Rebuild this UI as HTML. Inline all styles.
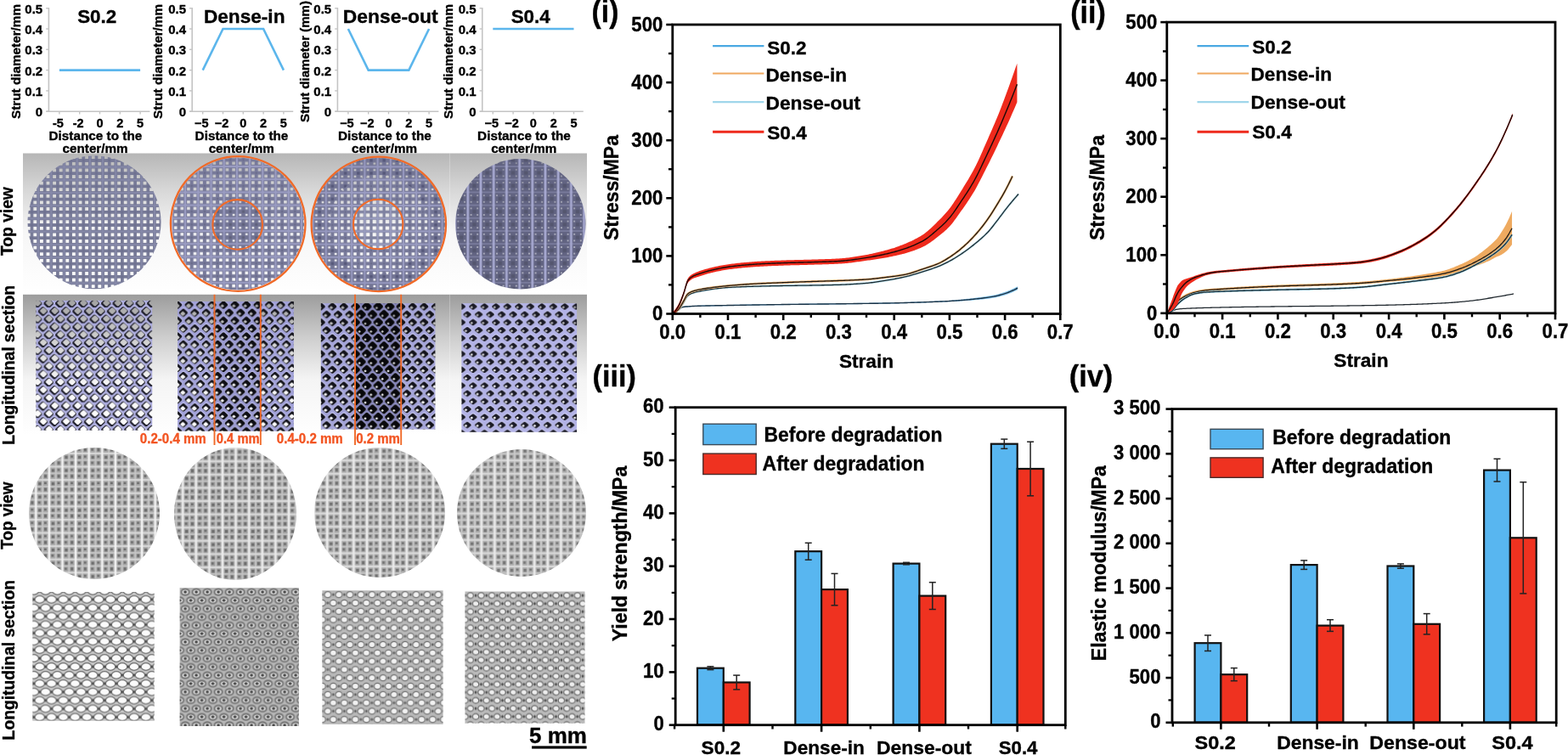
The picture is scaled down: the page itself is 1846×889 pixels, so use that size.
<!DOCTYPE html>
<html><head><meta charset="utf-8"><title>Figure</title>
<style>
html,body{margin:0;padding:0;background:#fff;}
body{width:1846px;height:889px;overflow:hidden;}
svg{display:block;}
text{font-family:"Liberation Sans", Arial, sans-serif;font-weight:bold;stroke:currentColor;stroke-width:0.35px;}
svg{color:#000;}
</style></head><body>
<svg width="1846" height="889" viewBox="0 0 1846 889">
<defs>
<linearGradient id="bg1" gradientUnits="userSpaceOnUse" x1="0" y1="180.5" x2="0" y2="346.8"><stop offset="0" stop-color="#b6b6b6"/><stop offset="0.25" stop-color="#d6d6d6"/><stop offset="0.55" stop-color="#f6f6f6"/><stop offset="1" stop-color="#fff"/></linearGradient>
<linearGradient id="bg2" gradientUnits="userSpaceOnUse" x1="0" y1="346.8" x2="0" y2="512.8"><stop offset="0" stop-color="#9c9c9c"/><stop offset="0.3" stop-color="#cdcdcd"/><stop offset="0.6" stop-color="#f4f4f4"/><stop offset="1" stop-color="#fff"/></linearGradient>
<pattern id="t1" patternUnits="userSpaceOnUse" x="75.50" y="227.00" width="15.2" height="15.2"><path d="M0,0 H15.2 V15.2 H0 Z M1.85,1.85 h3.90 v3.90 h-3.90 Z M1.85,9.45 h3.90 v3.90 h-3.90 Z M9.45,1.85 h3.90 v3.90 h-3.90 Z M9.45,9.45 h3.90 v3.90 h-3.90 Z" fill="#777a97" fill-rule="evenodd"/><rect x="6.10" y="6.10" width="3.00" height="3.00" fill="#6e7190"/><rect x="0.00" y="-0.80" width="15.20" height="1.60" fill="#888bab"/><rect x="0.00" y="14.40" width="15.20" height="1.60" fill="#888bab"/><rect x="-0.80" y="0.00" width="1.60" height="15.20" fill="#888bab"/><rect x="14.40" y="0.00" width="1.60" height="15.20" fill="#888bab"/></pattern>
<pattern id="t2o" patternUnits="userSpaceOnUse" x="233.30" y="196.00" width="15.2" height="15.2"><path d="M0,0 H15.2 V15.2 H0 Z M2.05,2.05 h3.50 v3.50 h-3.50 Z M2.05,9.65 h3.50 v3.50 h-3.50 Z M9.65,2.05 h3.50 v3.50 h-3.50 Z M9.65,9.65 h3.50 v3.50 h-3.50 Z" fill="#787a9a" fill-rule="evenodd"/><rect x="6.40" y="6.40" width="2.40" height="2.40" fill="#6a6c8c"/><rect x="0.00" y="-1.10" width="15.20" height="2.20" fill="#9a9cc2"/><rect x="0.00" y="14.10" width="15.20" height="2.20" fill="#9a9cc2"/><rect x="-1.10" y="0.00" width="2.20" height="15.20" fill="#9a9cc2"/><rect x="14.10" y="0.00" width="2.20" height="15.20" fill="#9a9cc2"/></pattern>
<pattern id="t2i" patternUnits="userSpaceOnUse" x="233.30" y="196.00" width="15.2" height="15.2"><path d="M0,0 H15.2 V15.2 H0 Z M2.50,2.50 h2.60 v2.60 h-2.60 Z M2.50,10.10 h2.60 v2.60 h-2.60 Z M10.10,2.50 h2.60 v2.60 h-2.60 Z M10.10,10.10 h2.60 v2.60 h-2.60 Z" fill="#727494" fill-rule="evenodd"/><rect x="6.00" y="6.00" width="3.20" height="3.20" fill="#5e607a"/><rect x="0.00" y="-1.20" width="15.20" height="2.40" fill="#9496bc"/><rect x="0.00" y="14.00" width="15.20" height="2.40" fill="#9496bc"/><rect x="-1.20" y="0.00" width="2.40" height="15.20" fill="#9496bc"/><rect x="14.00" y="0.00" width="2.40" height="15.20" fill="#9496bc"/></pattern>
<pattern id="t3o" patternUnits="userSpaceOnUse" x="399.00" y="196.40" width="15.2" height="15.2"><path d="M0,0 H15.2 V15.2 H0 Z M2.50,2.50 h2.60 v2.60 h-2.60 Z M2.50,10.10 h2.60 v2.60 h-2.60 Z M10.10,2.50 h2.60 v2.60 h-2.60 Z M10.10,10.10 h2.60 v2.60 h-2.60 Z" fill="#727494" fill-rule="evenodd"/><rect x="5.90" y="5.90" width="3.40" height="3.40" fill="#56587a"/><rect x="0.00" y="-1.10" width="15.20" height="2.20" fill="#9597be"/><rect x="0.00" y="14.10" width="15.20" height="2.20" fill="#9597be"/><rect x="-1.10" y="0.00" width="2.20" height="15.20" fill="#9597be"/><rect x="14.10" y="0.00" width="2.20" height="15.20" fill="#9597be"/></pattern>
<pattern id="t3m" patternUnits="userSpaceOnUse" x="399.00" y="196.40" width="15.2" height="15.2"><path d="M0,0 H15.2 V15.2 H0 Z M2.10,2.10 h3.40 v3.40 h-3.40 Z M2.10,9.70 h3.40 v3.40 h-3.40 Z M9.70,2.10 h3.40 v3.40 h-3.40 Z M9.70,9.70 h3.40 v3.40 h-3.40 Z" fill="#787a9a" fill-rule="evenodd"/><rect x="6.60" y="6.60" width="2.00" height="2.00" fill="#6a6c8c"/><rect x="0.00" y="-1.00" width="15.20" height="2.00" fill="#9a9cc2"/><rect x="0.00" y="14.20" width="15.20" height="2.00" fill="#9a9cc2"/><rect x="-1.00" y="0.00" width="2.00" height="15.20" fill="#9a9cc2"/><rect x="14.20" y="0.00" width="2.00" height="15.20" fill="#9a9cc2"/></pattern>
<pattern id="t3i" patternUnits="userSpaceOnUse" x="399.00" y="196.40" width="15.2" height="15.2"><path d="M0,0 H15.2 V15.2 H0 Z M1.60,1.60 h4.40 v4.40 h-4.40 Z M1.60,9.20 h4.40 v4.40 h-4.40 Z M9.20,1.60 h4.40 v4.40 h-4.40 Z M9.20,9.20 h4.40 v4.40 h-4.40 Z" fill="#7e81a0" fill-rule="evenodd"/><rect x="0.00" y="-0.90" width="15.20" height="1.80" fill="#9a9dc0"/><rect x="0.00" y="14.30" width="15.20" height="1.80" fill="#9a9dc0"/><rect x="-0.90" y="0.00" width="1.80" height="15.20" fill="#9a9dc0"/><rect x="14.30" y="0.00" width="1.80" height="15.20" fill="#9a9dc0"/></pattern>
<pattern id="t4" patternUnits="userSpaceOnUse" x="566.00" y="196.00" width="15.2" height="15.2"><path d="M0,0 H15.2 V15.2 H0 Z M3.20,3.20 h1.20 v1.20 h-1.20 Z M3.20,10.80 h1.20 v1.20 h-1.20 Z M10.80,3.20 h1.20 v1.20 h-1.20 Z M10.80,10.80 h1.20 v1.20 h-1.20 Z" fill="#626482" fill-rule="evenodd"/><rect x="5.30" y="5.30" width="4.60" height="4.60" fill="#54566f"/><rect x="0.00" y="-0.80" width="15.20" height="1.60" fill="#7c7ea0"/><rect x="0.00" y="14.40" width="15.20" height="1.60" fill="#7c7ea0"/><rect x="-1.40" y="0.00" width="2.80" height="15.20" fill="#a6a8d0"/><rect x="13.80" y="0.00" width="2.80" height="15.20" fill="#a6a8d0"/></pattern>
<pattern id="l1" patternUnits="userSpaceOnUse" x="43.75" y="343.35" width="13.5" height="18.6"><path d="M0,0 H13.5 V18.6 H0 Z M1.16,5.53 L1.16,3.77 L5.84,-0.77 L7.66,-0.77 L12.34,3.77 L12.34,5.53 L7.66,10.07 L5.84,10.07 Z M-5.59,14.83 L-5.59,13.07 L-0.91,8.53 L0.91,8.53 L5.59,13.07 L5.59,14.83 L0.91,19.37 L-0.91,19.37 Z M7.91,14.83 L7.91,13.07 L12.59,8.53 L14.41,8.53 L19.09,13.07 L19.09,14.83 L14.41,19.37 L12.59,19.37 Z M1.16,24.13 L1.16,22.37 L5.84,17.83 L7.66,17.83 L12.34,22.37 L12.34,24.13 L7.66,28.67 L5.84,28.67 Z M1.16,-13.07 L1.16,-14.83 L5.84,-19.37 L7.66,-19.37 L12.34,-14.83 L12.34,-13.07 L7.66,-8.53 L5.84,-8.53 Z" fill="#a4a4da" fill-rule="evenodd"/><path d="M0.69,5.06 L0.69,3.04 L6.01,-2.14 L8.09,-2.14 L13.41,3.04 L13.41,5.06 L8.09,10.24 L6.01,10.24 Z M-6.06,14.36 L-6.06,12.34 L-0.74,7.16 L1.34,7.16 L6.66,12.34 L6.66,14.36 L1.34,19.54 L-0.74,19.54 Z M7.44,14.36 L7.44,12.34 L12.76,7.16 L14.84,7.16 L20.16,12.34 L20.16,14.36 L14.84,19.54 L12.76,19.54 Z M0.69,23.66 L0.69,21.64 L6.01,16.46 L8.09,16.46 L13.41,21.64 L13.41,23.66 L8.09,28.84 L6.01,28.84 Z M0.69,-13.54 L0.69,-15.56 L6.01,-20.74 L8.09,-20.74 L13.41,-15.56 L13.41,-13.54 L8.09,-8.36 L6.01,-8.36 Z M1.16,5.53 L1.16,3.77 L5.84,-0.77 L7.66,-0.77 L12.34,3.77 L12.34,5.53 L7.66,10.07 L5.84,10.07 Z M-5.59,14.83 L-5.59,13.07 L-0.91,8.53 L0.91,8.53 L5.59,13.07 L5.59,14.83 L0.91,19.37 L-0.91,19.37 Z M7.91,14.83 L7.91,13.07 L12.59,8.53 L14.41,8.53 L19.09,13.07 L19.09,14.83 L14.41,19.37 L12.59,19.37 Z M1.16,24.13 L1.16,22.37 L5.84,17.83 L7.66,17.83 L12.34,22.37 L12.34,24.13 L7.66,28.67 L5.84,28.67 Z M1.16,-13.07 L1.16,-14.83 L5.84,-19.37 L7.66,-19.37 L12.34,-14.83 L12.34,-13.07 L7.66,-8.53 L5.84,-8.53 Z" fill="#c4c4ee" fill-rule="evenodd" opacity="0.9"/><path d="M1.16,5.53 L1.16,3.77 L5.84,-0.77 L7.66,-0.77 L12.34,3.77 L12.34,5.53 L7.66,10.07 L5.84,10.07 Z M-5.59,14.83 L-5.59,13.07 L-0.91,8.53 L0.91,8.53 L5.59,13.07 L5.59,14.83 L0.91,19.37 L-0.91,19.37 Z M7.91,14.83 L7.91,13.07 L12.59,8.53 L14.41,8.53 L19.09,13.07 L19.09,14.83 L14.41,19.37 L12.59,19.37 Z M1.16,24.13 L1.16,22.37 L5.84,17.83 L7.66,17.83 L12.34,22.37 L12.34,24.13 L7.66,28.67 L5.84,28.67 Z M1.16,-13.07 L1.16,-14.83 L5.84,-19.37 L7.66,-19.37 L12.34,-14.83 L12.34,-13.07 L7.66,-8.53 L5.84,-8.53 Z M3.31,4.57 L3.31,3.33 L6.69,0.17 L8.01,0.17 L11.39,3.33 L11.39,4.57 L8.01,7.73 L6.69,7.73 Z M-3.44,13.87 L-3.44,12.63 L-0.06,9.47 L1.26,9.47 L4.64,12.63 L4.64,13.87 L1.26,17.03 L-0.06,17.03 Z M10.06,13.87 L10.06,12.63 L13.44,9.47 L14.76,9.47 L18.14,12.63 L18.14,13.87 L14.76,17.03 L13.44,17.03 Z M3.31,23.17 L3.31,21.93 L6.69,18.77 L8.01,18.77 L11.39,21.93 L11.39,23.17 L8.01,26.33 L6.69,26.33 Z M3.31,-14.03 L3.31,-15.27 L6.69,-18.43 L8.01,-18.43 L11.39,-15.27 L11.39,-14.03 L8.01,-10.87 L6.69,-10.87 Z" fill="#1c1c2a" fill-rule="evenodd"/></pattern>
<pattern id="l2o" patternUnits="userSpaceOnUse" x="209.10" y="345.00" width="13.5" height="18.6"><path d="M0,0 H13.5 V18.6 H0 Z M1.68,5.41 L1.68,3.89 L5.92,0.01 L7.58,0.01 L11.82,3.89 L11.82,5.41 L7.58,9.29 L5.92,9.29 Z M-5.07,14.71 L-5.07,13.19 L-0.83,9.31 L0.83,9.31 L5.07,13.19 L5.07,14.71 L0.83,18.59 L-0.83,18.59 Z M8.43,14.71 L8.43,13.19 L12.67,9.31 L14.33,9.31 L18.57,13.19 L18.57,14.71 L14.33,18.59 L12.67,18.59 Z M1.68,24.01 L1.68,22.49 L5.92,18.61 L7.58,18.61 L11.82,22.49 L11.82,24.01 L7.58,27.89 L5.92,27.89 Z M1.68,-13.19 L1.68,-14.71 L5.92,-18.59 L7.58,-18.59 L11.82,-14.71 L11.82,-13.19 L7.58,-9.31 L5.92,-9.31 Z" fill="#a0a0d8" fill-rule="evenodd"/><path d="M1.20,4.93 L1.20,3.17 L6.10,-1.37 L8.00,-1.37 L12.90,3.17 L12.90,4.93 L8.00,9.47 L6.10,9.47 Z M-5.55,14.23 L-5.55,12.47 L-0.65,7.93 L1.25,7.93 L6.15,12.47 L6.15,14.23 L1.25,18.77 L-0.65,18.77 Z M7.95,14.23 L7.95,12.47 L12.85,7.93 L14.75,7.93 L19.65,12.47 L19.65,14.23 L14.75,18.77 L12.85,18.77 Z M1.20,23.53 L1.20,21.77 L6.10,17.23 L8.00,17.23 L12.90,21.77 L12.90,23.53 L8.00,28.07 L6.10,28.07 Z M1.20,-13.67 L1.20,-15.43 L6.10,-19.97 L8.00,-19.97 L12.90,-15.43 L12.90,-13.67 L8.00,-9.13 L6.10,-9.13 Z M1.68,5.41 L1.68,3.89 L5.92,0.01 L7.58,0.01 L11.82,3.89 L11.82,5.41 L7.58,9.29 L5.92,9.29 Z M-5.07,14.71 L-5.07,13.19 L-0.83,9.31 L0.83,9.31 L5.07,13.19 L5.07,14.71 L0.83,18.59 L-0.83,18.59 Z M8.43,14.71 L8.43,13.19 L12.67,9.31 L14.33,9.31 L18.57,13.19 L18.57,14.71 L14.33,18.59 L12.67,18.59 Z M1.68,24.01 L1.68,22.49 L5.92,18.61 L7.58,18.61 L11.82,22.49 L11.82,24.01 L7.58,27.89 L5.92,27.89 Z M1.68,-13.19 L1.68,-14.71 L5.92,-18.59 L7.58,-18.59 L11.82,-14.71 L11.82,-13.19 L7.58,-9.31 L5.92,-9.31 Z" fill="#bcbce8" fill-rule="evenodd" opacity="0.9"/><path d="M1.68,5.41 L1.68,3.89 L5.92,0.01 L7.58,0.01 L11.82,3.89 L11.82,5.41 L7.58,9.29 L5.92,9.29 Z M-5.07,14.71 L-5.07,13.19 L-0.83,9.31 L0.83,9.31 L5.07,13.19 L5.07,14.71 L0.83,18.59 L-0.83,18.59 Z M8.43,14.71 L8.43,13.19 L12.67,9.31 L14.33,9.31 L18.57,13.19 L18.57,14.71 L14.33,18.59 L12.67,18.59 Z M1.68,24.01 L1.68,22.49 L5.92,18.61 L7.58,18.61 L11.82,22.49 L11.82,24.01 L7.58,27.89 L5.92,27.89 Z M1.68,-13.19 L1.68,-14.71 L5.92,-18.59 L7.58,-18.59 L11.82,-14.71 L11.82,-13.19 L7.58,-9.31 L5.92,-9.31 Z M3.23,6.17 L3.23,5.33 L5.67,3.17 L6.63,3.17 L9.07,5.33 L9.07,6.17 L6.63,8.33 L5.67,8.33 Z M-3.52,15.47 L-3.52,14.63 L-1.08,12.47 L-0.12,12.47 L2.32,14.63 L2.32,15.47 L-0.12,17.63 L-1.08,17.63 Z M9.98,15.47 L9.98,14.63 L12.42,12.47 L13.38,12.47 L15.82,14.63 L15.82,15.47 L13.38,17.63 L12.42,17.63 Z M3.23,24.77 L3.23,23.93 L5.67,21.77 L6.63,21.77 L9.07,23.93 L9.07,24.77 L6.63,26.93 L5.67,26.93 Z M3.23,-12.43 L3.23,-13.27 L5.67,-15.43 L6.63,-15.43 L9.07,-13.27 L9.07,-12.43 L6.63,-10.27 L5.67,-10.27 Z" fill="#14141c" fill-rule="evenodd"/></pattern>
<pattern id="l2i" patternUnits="userSpaceOnUse" x="209.10" y="345.00" width="13.5" height="18.6"><path d="M0,0 H13.5 V18.6 H0 Z M1.68,5.42 L1.68,3.88 L5.92,-0.08 L7.58,-0.08 L11.82,3.88 L11.82,5.42 L7.58,9.38 L5.92,9.38 Z M-5.07,14.72 L-5.07,13.18 L-0.83,9.22 L0.83,9.22 L5.07,13.18 L5.07,14.72 L0.83,18.68 L-0.83,18.68 Z M8.43,14.72 L8.43,13.18 L12.67,9.22 L14.33,9.22 L18.57,13.18 L18.57,14.72 L14.33,18.68 L12.67,18.68 Z M1.68,24.02 L1.68,22.48 L5.92,18.52 L7.58,18.52 L11.82,22.48 L11.82,24.02 L7.58,27.98 L5.92,27.98 Z M1.68,-13.18 L1.68,-14.72 L5.92,-18.68 L7.58,-18.68 L11.82,-14.72 L11.82,-13.18 L7.58,-9.22 L5.92,-9.22 Z" fill="#9898d0" fill-rule="evenodd"/><path d="M1.20,4.95 L1.20,3.15 L6.10,-1.45 L8.00,-1.45 L12.90,3.15 L12.90,4.95 L8.00,9.55 L6.10,9.55 Z M-5.55,14.25 L-5.55,12.45 L-0.65,7.85 L1.25,7.85 L6.15,12.45 L6.15,14.25 L1.25,18.85 L-0.65,18.85 Z M7.95,14.25 L7.95,12.45 L12.85,7.85 L14.75,7.85 L19.65,12.45 L19.65,14.25 L14.75,18.85 L12.85,18.85 Z M1.20,23.55 L1.20,21.75 L6.10,17.15 L8.00,17.15 L12.90,21.75 L12.90,23.55 L8.00,28.15 L6.10,28.15 Z M1.20,-13.65 L1.20,-15.45 L6.10,-20.05 L8.00,-20.05 L12.90,-15.45 L12.90,-13.65 L8.00,-9.05 L6.10,-9.05 Z M1.68,5.42 L1.68,3.88 L5.92,-0.08 L7.58,-0.08 L11.82,3.88 L11.82,5.42 L7.58,9.38 L5.92,9.38 Z M-5.07,14.72 L-5.07,13.18 L-0.83,9.22 L0.83,9.22 L5.07,13.18 L5.07,14.72 L0.83,18.68 L-0.83,18.68 Z M8.43,14.72 L8.43,13.18 L12.67,9.22 L14.33,9.22 L18.57,13.18 L18.57,14.72 L14.33,18.68 L12.67,18.68 Z M1.68,24.02 L1.68,22.48 L5.92,18.52 L7.58,18.52 L11.82,22.48 L11.82,24.02 L7.58,27.98 L5.92,27.98 Z M1.68,-13.18 L1.68,-14.72 L5.92,-18.68 L7.58,-18.68 L11.82,-14.72 L11.82,-13.18 L7.58,-9.22 L5.92,-9.22 Z" fill="#b4b4e2" fill-rule="evenodd" opacity="0.9"/><path d="M1.68,5.42 L1.68,3.88 L5.92,-0.08 L7.58,-0.08 L11.82,3.88 L11.82,5.42 L7.58,9.38 L5.92,9.38 Z M-5.07,14.72 L-5.07,13.18 L-0.83,9.22 L0.83,9.22 L5.07,13.18 L5.07,14.72 L0.83,18.68 L-0.83,18.68 Z M8.43,14.72 L8.43,13.18 L12.67,9.22 L14.33,9.22 L18.57,13.18 L18.57,14.72 L14.33,18.68 L12.67,18.68 Z M1.68,24.02 L1.68,22.48 L5.92,18.52 L7.58,18.52 L11.82,22.48 L11.82,24.02 L7.58,27.98 L5.92,27.98 Z M1.68,-13.18 L1.68,-14.72 L5.92,-18.68 L7.58,-18.68 L11.82,-14.72 L11.82,-13.18 L7.58,-9.22 L5.92,-9.22 Z M3.39,6.23 L3.39,5.67 L5.11,4.23 L5.79,4.23 L7.51,5.67 L7.51,6.23 L5.79,7.67 L5.11,7.67 Z M-3.36,15.53 L-3.36,14.97 L-1.64,13.53 L-0.96,13.53 L0.76,14.97 L0.76,15.53 L-0.96,16.97 L-1.64,16.97 Z M10.14,15.53 L10.14,14.97 L11.86,13.53 L12.54,13.53 L14.26,14.97 L14.26,15.53 L12.54,16.97 L11.86,16.97 Z M3.39,24.83 L3.39,24.27 L5.11,22.83 L5.79,22.83 L7.51,24.27 L7.51,24.83 L5.79,26.27 L5.11,26.27 Z M3.39,-12.37 L3.39,-12.93 L5.11,-14.37 L5.79,-14.37 L7.51,-12.93 L7.51,-12.37 L5.79,-10.93 L5.11,-10.93 Z" fill="#0e0e14" fill-rule="evenodd"/></pattern>
<pattern id="l3o" patternUnits="userSpaceOnUse" x="377.80" y="347.00" width="13.5" height="18.6"><path d="M0,0 H13.5 V18.6 H0 Z M1.76,5.38 L1.76,3.92 L5.94,0.18 L7.56,0.18 L11.74,3.92 L11.74,5.38 L7.56,9.12 L5.94,9.12 Z M-4.99,14.68 L-4.99,13.22 L-0.81,9.48 L0.81,9.48 L4.99,13.22 L4.99,14.68 L0.81,18.42 L-0.81,18.42 Z M8.51,14.68 L8.51,13.22 L12.69,9.48 L14.31,9.48 L18.49,13.22 L18.49,14.68 L14.31,18.42 L12.69,18.42 Z M1.76,23.98 L1.76,22.52 L5.94,18.78 L7.56,18.78 L11.74,22.52 L11.74,23.98 L7.56,27.72 L5.94,27.72 Z M1.76,-13.22 L1.76,-14.68 L5.94,-18.42 L7.56,-18.42 L11.74,-14.68 L11.74,-13.22 L7.56,-9.48 L5.94,-9.48 Z" fill="#a2a2d8" fill-rule="evenodd"/><path d="M1.29,4.90 L1.29,3.20 L6.11,-1.20 L7.99,-1.20 L12.81,3.20 L12.81,4.90 L7.99,9.30 L6.11,9.30 Z M-5.46,14.20 L-5.46,12.50 L-0.64,8.10 L1.24,8.10 L6.06,12.50 L6.06,14.20 L1.24,18.60 L-0.64,18.60 Z M8.04,14.20 L8.04,12.50 L12.86,8.10 L14.74,8.10 L19.56,12.50 L19.56,14.20 L14.74,18.60 L12.86,18.60 Z M1.29,23.50 L1.29,21.80 L6.11,17.40 L7.99,17.40 L12.81,21.80 L12.81,23.50 L7.99,27.90 L6.11,27.90 Z M1.29,-13.70 L1.29,-15.40 L6.11,-19.80 L7.99,-19.80 L12.81,-15.40 L12.81,-13.70 L7.99,-9.30 L6.11,-9.30 Z M1.76,5.38 L1.76,3.92 L5.94,0.18 L7.56,0.18 L11.74,3.92 L11.74,5.38 L7.56,9.12 L5.94,9.12 Z M-4.99,14.68 L-4.99,13.22 L-0.81,9.48 L0.81,9.48 L4.99,13.22 L4.99,14.68 L0.81,18.42 L-0.81,18.42 Z M8.51,14.68 L8.51,13.22 L12.69,9.48 L14.31,9.48 L18.49,13.22 L18.49,14.68 L14.31,18.42 L12.69,18.42 Z M1.76,23.98 L1.76,22.52 L5.94,18.78 L7.56,18.78 L11.74,22.52 L11.74,23.98 L7.56,27.72 L5.94,27.72 Z M1.76,-13.22 L1.76,-14.68 L5.94,-18.42 L7.56,-18.42 L11.74,-14.68 L11.74,-13.22 L7.56,-9.48 L5.94,-9.48 Z" fill="#c2c2ec" fill-rule="evenodd" opacity="0.9"/><path d="M1.76,5.38 L1.76,3.92 L5.94,0.18 L7.56,0.18 L11.74,3.92 L11.74,5.38 L7.56,9.12 L5.94,9.12 Z M-4.99,14.68 L-4.99,13.22 L-0.81,9.48 L0.81,9.48 L4.99,13.22 L4.99,14.68 L0.81,18.42 L-0.81,18.42 Z M8.51,14.68 L8.51,13.22 L12.69,9.48 L14.31,9.48 L18.49,13.22 L18.49,14.68 L14.31,18.42 L12.69,18.42 Z M1.76,23.98 L1.76,22.52 L5.94,18.78 L7.56,18.78 L11.74,22.52 L11.74,23.98 L7.56,27.72 L5.94,27.72 Z M1.76,-13.22 L1.76,-14.68 L5.94,-18.42 L7.56,-18.42 L11.74,-14.68 L11.74,-13.22 L7.56,-9.48 L5.94,-9.48 Z M3.39,6.23 L3.39,5.67 L5.11,4.23 L5.79,4.23 L7.51,5.67 L7.51,6.23 L5.79,7.67 L5.11,7.67 Z M-3.36,15.53 L-3.36,14.97 L-1.64,13.53 L-0.96,13.53 L0.76,14.97 L0.76,15.53 L-0.96,16.97 L-1.64,16.97 Z M10.14,15.53 L10.14,14.97 L11.86,13.53 L12.54,13.53 L14.26,14.97 L14.26,15.53 L12.54,16.97 L11.86,16.97 Z M3.39,24.83 L3.39,24.27 L5.11,22.83 L5.79,22.83 L7.51,24.27 L7.51,24.83 L5.79,26.27 L5.11,26.27 Z M3.39,-12.37 L3.39,-12.93 L5.11,-14.37 L5.79,-14.37 L7.51,-12.93 L7.51,-12.37 L5.79,-10.93 L5.11,-10.93 Z" fill="#12121a" fill-rule="evenodd"/></pattern>
<pattern id="l3i" patternUnits="userSpaceOnUse" x="377.80" y="347.00" width="13.5" height="18.6"><path d="M0,0 H13.5 V18.6 H0 Z M1.16,5.53 L1.16,3.77 L5.84,-0.77 L7.66,-0.77 L12.34,3.77 L12.34,5.53 L7.66,10.07 L5.84,10.07 Z M-5.59,14.83 L-5.59,13.07 L-0.91,8.53 L0.91,8.53 L5.59,13.07 L5.59,14.83 L0.91,19.37 L-0.91,19.37 Z M7.91,14.83 L7.91,13.07 L12.59,8.53 L14.41,8.53 L19.09,13.07 L19.09,14.83 L14.41,19.37 L12.59,19.37 Z M1.16,24.13 L1.16,22.37 L5.84,17.83 L7.66,17.83 L12.34,22.37 L12.34,24.13 L7.66,28.67 L5.84,28.67 Z M1.16,-13.07 L1.16,-14.83 L5.84,-19.37 L7.66,-19.37 L12.34,-14.83 L12.34,-13.07 L7.66,-8.53 L5.84,-8.53 Z" fill="#7c7cb2" fill-rule="evenodd"/><path d="M0.69,5.06 L0.69,3.04 L6.01,-2.14 L8.09,-2.14 L13.41,3.04 L13.41,5.06 L8.09,10.24 L6.01,10.24 Z M-6.06,14.36 L-6.06,12.34 L-0.74,7.16 L1.34,7.16 L6.66,12.34 L6.66,14.36 L1.34,19.54 L-0.74,19.54 Z M7.44,14.36 L7.44,12.34 L12.76,7.16 L14.84,7.16 L20.16,12.34 L20.16,14.36 L14.84,19.54 L12.76,19.54 Z M0.69,23.66 L0.69,21.64 L6.01,16.46 L8.09,16.46 L13.41,21.64 L13.41,23.66 L8.09,28.84 L6.01,28.84 Z M0.69,-13.54 L0.69,-15.56 L6.01,-20.74 L8.09,-20.74 L13.41,-15.56 L13.41,-13.54 L8.09,-8.36 L6.01,-8.36 Z M1.16,5.53 L1.16,3.77 L5.84,-0.77 L7.66,-0.77 L12.34,3.77 L12.34,5.53 L7.66,10.07 L5.84,10.07 Z M-5.59,14.83 L-5.59,13.07 L-0.91,8.53 L0.91,8.53 L5.59,13.07 L5.59,14.83 L0.91,19.37 L-0.91,19.37 Z M7.91,14.83 L7.91,13.07 L12.59,8.53 L14.41,8.53 L19.09,13.07 L19.09,14.83 L14.41,19.37 L12.59,19.37 Z M1.16,24.13 L1.16,22.37 L5.84,17.83 L7.66,17.83 L12.34,22.37 L12.34,24.13 L7.66,28.67 L5.84,28.67 Z M1.16,-13.07 L1.16,-14.83 L5.84,-19.37 L7.66,-19.37 L12.34,-14.83 L12.34,-13.07 L7.66,-8.53 L5.84,-8.53 Z" fill="#9a9acc" fill-rule="evenodd" opacity="0.9"/><path d="M1.16,5.53 L1.16,3.77 L5.84,-0.77 L7.66,-0.77 L12.34,3.77 L12.34,5.53 L7.66,10.07 L5.84,10.07 Z M-5.59,14.83 L-5.59,13.07 L-0.91,8.53 L0.91,8.53 L5.59,13.07 L5.59,14.83 L0.91,19.37 L-0.91,19.37 Z M7.91,14.83 L7.91,13.07 L12.59,8.53 L14.41,8.53 L19.09,13.07 L19.09,14.83 L14.41,19.37 L12.59,19.37 Z M1.16,24.13 L1.16,22.37 L5.84,17.83 L7.66,17.83 L12.34,22.37 L12.34,24.13 L7.66,28.67 L5.84,28.67 Z M1.16,-13.07 L1.16,-14.83 L5.84,-19.37 L7.66,-19.37 L12.34,-14.83 L12.34,-13.07 L7.66,-8.53 L5.84,-8.53 Z M3.40,6.46 L3.40,6.04 L4.70,4.96 L5.20,4.96 L6.50,6.04 L6.50,6.46 L5.20,7.54 L4.70,7.54 Z M-3.35,15.76 L-3.35,15.34 L-2.05,14.26 L-1.55,14.26 L-0.25,15.34 L-0.25,15.76 L-1.55,16.84 L-2.05,16.84 Z M10.15,15.76 L10.15,15.34 L11.45,14.26 L11.95,14.26 L13.25,15.34 L13.25,15.76 L11.95,16.84 L11.45,16.84 Z M3.40,25.06 L3.40,24.64 L4.70,23.56 L5.20,23.56 L6.50,24.64 L6.50,25.06 L5.20,26.14 L4.70,26.14 Z M3.40,-12.14 L3.40,-12.56 L4.70,-13.64 L5.20,-13.64 L6.50,-12.56 L6.50,-12.14 L5.20,-11.06 L4.70,-11.06 Z" fill="#08080c" fill-rule="evenodd"/></pattern>
<pattern id="l4" patternUnits="userSpaceOnUse" x="543.40" y="347.00" width="13.5" height="18.6"><path d="M0,0 H13.5 V18.6 H0 Z M2.19,5.27 L2.19,4.03 L6.01,0.87 L7.49,0.87 L11.31,4.03 L11.31,5.27 L7.49,8.43 L6.01,8.43 Z M-4.56,14.57 L-4.56,13.33 L-0.74,10.17 L0.74,10.17 L4.56,13.33 L4.56,14.57 L0.74,17.73 L-0.74,17.73 Z M8.94,14.57 L8.94,13.33 L12.76,10.17 L14.24,10.17 L18.06,13.33 L18.06,14.57 L14.24,17.73 L12.76,17.73 Z M2.19,23.87 L2.19,22.63 L6.01,19.47 L7.49,19.47 L11.31,22.63 L11.31,23.87 L7.49,27.03 L6.01,27.03 Z M2.19,-13.33 L2.19,-14.57 L6.01,-17.73 L7.49,-17.73 L11.31,-14.57 L11.31,-13.33 L7.49,-10.17 L6.01,-10.17 Z" fill="#b2b2e6" fill-rule="evenodd"/><path d="M1.72,4.79 L1.72,3.31 L6.18,-0.51 L7.92,-0.51 L12.38,3.31 L12.38,4.79 L7.92,8.61 L6.18,8.61 Z M-5.03,14.09 L-5.03,12.61 L-0.57,8.79 L1.17,8.79 L5.63,12.61 L5.63,14.09 L1.17,17.91 L-0.57,17.91 Z M8.47,14.09 L8.47,12.61 L12.93,8.79 L14.67,8.79 L19.13,12.61 L19.13,14.09 L14.67,17.91 L12.93,17.91 Z M1.72,23.39 L1.72,21.91 L6.18,18.09 L7.92,18.09 L12.38,21.91 L12.38,23.39 L7.92,27.21 L6.18,27.21 Z M1.72,-13.81 L1.72,-15.29 L6.18,-19.11 L7.92,-19.11 L12.38,-15.29 L12.38,-13.81 L7.92,-9.99 L6.18,-9.99 Z M2.19,5.27 L2.19,4.03 L6.01,0.87 L7.49,0.87 L11.31,4.03 L11.31,5.27 L7.49,8.43 L6.01,8.43 Z M-4.56,14.57 L-4.56,13.33 L-0.74,10.17 L0.74,10.17 L4.56,13.33 L4.56,14.57 L0.74,17.73 L-0.74,17.73 Z M8.94,14.57 L8.94,13.33 L12.76,10.17 L14.24,10.17 L18.06,13.33 L18.06,14.57 L14.24,17.73 L12.76,17.73 Z M2.19,23.87 L2.19,22.63 L6.01,19.47 L7.49,19.47 L11.31,22.63 L11.31,23.87 L7.49,27.03 L6.01,27.03 Z M2.19,-13.33 L2.19,-14.57 L6.01,-17.73 L7.49,-17.73 L11.31,-14.57 L11.31,-13.33 L7.49,-10.17 L6.01,-10.17 Z" fill="#cacaf2" fill-rule="evenodd" opacity="0.9"/><path d="M2.19,5.27 L2.19,4.03 L6.01,0.87 L7.49,0.87 L11.31,4.03 L11.31,5.27 L7.49,8.43 L6.01,8.43 Z M-4.56,14.57 L-4.56,13.33 L-0.74,10.17 L0.74,10.17 L4.56,13.33 L4.56,14.57 L0.74,17.73 L-0.74,17.73 Z M8.94,14.57 L8.94,13.33 L12.76,10.17 L14.24,10.17 L18.06,13.33 L18.06,14.57 L14.24,17.73 L12.76,17.73 Z M2.19,23.87 L2.19,22.63 L6.01,19.47 L7.49,19.47 L11.31,22.63 L11.31,23.87 L7.49,27.03 L6.01,27.03 Z M2.19,-13.33 L2.19,-14.57 L6.01,-17.73 L7.49,-17.73 L11.31,-14.57 L11.31,-13.33 L7.49,-10.17 L6.01,-10.17 Z M3.60,5.66 L3.60,5.24 L4.90,4.16 L5.40,4.16 L6.70,5.24 L6.70,5.66 L5.40,6.74 L4.90,6.74 Z M-3.15,14.96 L-3.15,14.54 L-1.85,13.46 L-1.35,13.46 L-0.05,14.54 L-0.05,14.96 L-1.35,16.04 L-1.85,16.04 Z M10.35,14.96 L10.35,14.54 L11.65,13.46 L12.15,13.46 L13.45,14.54 L13.45,14.96 L12.15,16.04 L11.65,16.04 Z M3.60,24.26 L3.60,23.84 L4.90,22.76 L5.40,22.76 L6.70,23.84 L6.70,24.26 L5.40,25.34 L4.90,25.34 Z M3.60,-12.94 L3.60,-13.36 L4.90,-14.44 L5.40,-14.44 L6.70,-13.36 L6.70,-12.94 L5.40,-11.86 L4.90,-11.86 Z" fill="#1a1a26" fill-rule="evenodd"/></pattern>
<pattern id="c1" patternUnits="userSpaceOnUse" x="73.50" y="565.10" width="15.6" height="15.6"><rect x="0.00" y="0.00" width="15.60" height="15.60" fill="#a8a8a8"/><rect x="2.81" y="2.81" width="3.43" height="3.43" fill="#6e6e6e"/><rect x="9.67" y="9.36" width="3.12" height="3.74" fill="#6e6e6e"/><rect x="9.67" y="2.50" width="2.81" height="2.50" fill="#6e6e6e"/><rect x="2.50" y="9.67" width="2.81" height="2.81" fill="#6e6e6e"/><rect x="7.02" y="0.78" width="1.56" height="14.04" fill="#c6c6c6"/><rect x="0.78" y="7.02" width="14.04" height="1.56" fill="#c6c6c6"/><rect x="0.00" y="-1.10" width="15.60" height="2.20" fill="#d6d6d6"/><rect x="0.00" y="14.50" width="15.60" height="2.20" fill="#d6d6d6"/><rect x="-1.30" y="0.00" width="2.60" height="15.60" fill="#f0f0f0"/><rect x="14.30" y="0.00" width="2.60" height="15.60" fill="#f0f0f0"/></pattern>
<pattern id="c2" patternUnits="userSpaceOnUse" x="262.00" y="590.00" width="15.6" height="15.6"><rect x="0.00" y="0.00" width="15.60" height="15.60" fill="#a2a2a2"/><rect x="2.81" y="2.81" width="3.43" height="3.43" fill="#6e6e6e"/><rect x="9.67" y="9.36" width="3.12" height="3.74" fill="#6e6e6e"/><rect x="9.67" y="2.50" width="2.81" height="2.50" fill="#6e6e6e"/><rect x="2.50" y="9.67" width="2.81" height="2.81" fill="#6e6e6e"/><rect x="7.02" y="0.78" width="1.56" height="14.04" fill="#c4c4c4"/><rect x="0.78" y="7.02" width="14.04" height="1.56" fill="#c4c4c4"/><rect x="0.00" y="-1.30" width="15.60" height="2.60" fill="#d6d6d6"/><rect x="0.00" y="14.30" width="15.60" height="2.60" fill="#d6d6d6"/><rect x="-1.40" y="0.00" width="2.80" height="15.60" fill="#e8e8e8"/><rect x="14.20" y="0.00" width="2.80" height="15.60" fill="#e8e8e8"/></pattern>
<pattern id="c3" patternUnits="userSpaceOnUse" x="432.00" y="589.00" width="15.6" height="15.6"><rect x="0.00" y="0.00" width="15.60" height="15.60" fill="#a8a8a8"/><rect x="2.81" y="2.81" width="3.43" height="3.43" fill="#727272"/><rect x="9.67" y="9.36" width="3.12" height="3.74" fill="#727272"/><rect x="9.67" y="2.50" width="2.81" height="2.50" fill="#727272"/><rect x="2.50" y="9.67" width="2.81" height="2.81" fill="#727272"/><rect x="7.02" y="0.78" width="1.56" height="14.04" fill="#c8c8c8"/><rect x="0.78" y="7.02" width="14.04" height="1.56" fill="#c8c8c8"/><rect x="0.00" y="-1.30" width="15.60" height="2.60" fill="#d8d8d8"/><rect x="0.00" y="14.30" width="15.60" height="2.60" fill="#d8d8d8"/><rect x="-1.40" y="0.00" width="2.80" height="15.60" fill="#e8e8e8"/><rect x="14.20" y="0.00" width="2.80" height="15.60" fill="#e8e8e8"/></pattern>
<pattern id="c4" patternUnits="userSpaceOnUse" x="598.00" y="589.00" width="15.6" height="15.6"><rect x="0.00" y="0.00" width="15.60" height="15.60" fill="#acacac"/><rect x="2.81" y="2.81" width="3.43" height="3.43" fill="#767676"/><rect x="9.67" y="9.36" width="3.12" height="3.74" fill="#767676"/><rect x="9.67" y="2.50" width="2.81" height="2.50" fill="#767676"/><rect x="2.50" y="9.67" width="2.81" height="2.81" fill="#767676"/><rect x="7.02" y="0.78" width="1.56" height="14.04" fill="#cacaca"/><rect x="0.78" y="7.02" width="14.04" height="1.56" fill="#cacaca"/><rect x="0.00" y="-1.20" width="15.60" height="2.40" fill="#d6d6d6"/><rect x="0.00" y="14.40" width="15.60" height="2.40" fill="#d6d6d6"/><rect x="-1.40" y="0.00" width="2.80" height="15.60" fill="#e8e8e8"/><rect x="14.20" y="0.00" width="2.80" height="15.60" fill="#e8e8e8"/></pattern>
<pattern id="d1" patternUnits="userSpaceOnUse" x="39.75" y="700.85" width="13.9" height="19.8"><rect x="0.00" y="0.00" width="13.90" height="19.80" fill="#c6c6c6"/><ellipse cx="6.95" cy="4.95" rx="5.7" ry="4.3" fill="#fbfbfb" stroke="#6e6e6e" stroke-width="1.2"/><ellipse cx="0.00" cy="14.85" rx="5.7" ry="4.3" fill="#fbfbfb" stroke="#6e6e6e" stroke-width="1.2"/><ellipse cx="13.90" cy="14.85" rx="5.7" ry="4.3" fill="#fbfbfb" stroke="#6e6e6e" stroke-width="1.2"/><ellipse cx="0.00" cy="4.95" rx="1.3" ry="1.82" fill="#505050"/><ellipse cx="13.90" cy="4.95" rx="1.3" ry="1.82" fill="#505050"/><ellipse cx="6.95" cy="14.85" rx="1.3" ry="1.82" fill="#505050"/></pattern>
<pattern id="d2" patternUnits="userSpaceOnUse" x="211.60" y="692.20" width="13.0" height="19.6"><rect x="0.00" y="0.00" width="13.00" height="19.60" fill="#b6b6b6"/><ellipse cx="6.50" cy="4.90" rx="4.6" ry="3.6" fill="#eeeeee" stroke="#7a7a7a" stroke-width="2.2"/><ellipse cx="6.50" cy="4.90" rx="2.0" ry="1.60" fill="#454545"/><ellipse cx="0.00" cy="14.70" rx="4.6" ry="3.6" fill="#eeeeee" stroke="#7a7a7a" stroke-width="2.2"/><ellipse cx="0.00" cy="14.70" rx="2.0" ry="1.60" fill="#454545"/><ellipse cx="13.00" cy="14.70" rx="4.6" ry="3.6" fill="#eeeeee" stroke="#7a7a7a" stroke-width="2.2"/><ellipse cx="13.00" cy="14.70" rx="2.0" ry="1.60" fill="#454545"/></pattern>
<pattern id="d3" patternUnits="userSpaceOnUse" x="379.40" y="695.30" width="13.0" height="19.6"><rect x="0.00" y="0.00" width="13.00" height="19.60" fill="#b8b8b8"/><ellipse cx="6.50" cy="4.90" rx="4.0" ry="3.5" fill="#f2f2f2" stroke="#707070" stroke-width="1.3"/><ellipse cx="0.00" cy="14.70" rx="4.0" ry="3.5" fill="#f2f2f2" stroke="#707070" stroke-width="1.3"/><ellipse cx="13.00" cy="14.70" rx="4.0" ry="3.5" fill="#f2f2f2" stroke="#707070" stroke-width="1.3"/><ellipse cx="0.00" cy="4.90" rx="1.2" ry="1.68" fill="#5a5a5a"/><ellipse cx="13.00" cy="4.90" rx="1.2" ry="1.68" fill="#5a5a5a"/><ellipse cx="6.50" cy="14.70" rx="1.2" ry="1.68" fill="#5a5a5a"/></pattern>
<pattern id="d4" patternUnits="userSpaceOnUse" x="547.50" y="696.50" width="12.6" height="19.0"><rect x="0.00" y="0.00" width="12.60" height="19.00" fill="#bababa"/><ellipse cx="6.30" cy="4.75" rx="3.7" ry="3.3" fill="#eeeeee" stroke="#6a6a6a" stroke-width="1.3"/><ellipse cx="0.00" cy="14.25" rx="3.7" ry="3.3" fill="#eeeeee" stroke="#6a6a6a" stroke-width="1.3"/><ellipse cx="12.60" cy="14.25" rx="3.7" ry="3.3" fill="#eeeeee" stroke="#6a6a6a" stroke-width="1.3"/><ellipse cx="0.00" cy="4.75" rx="1.3" ry="1.82" fill="#505050"/><ellipse cx="12.60" cy="4.75" rx="1.3" ry="1.82" fill="#505050"/><ellipse cx="6.30" cy="14.25" rx="1.3" ry="1.82" fill="#505050"/></pattern>
</defs>
<rect width="1846" height="889" fill="#fff"/>
<line x1="57.4" y1="9.0" x2="57.4" y2="132.0" stroke="#c4c4c4" stroke-width="1.6"/>
<line x1="54.4" y1="131.2" x2="176.4" y2="131.2" stroke="#c4c4c4" stroke-width="1.6"/>
<line x1="54.2" y1="131.2" x2="57.4" y2="131.2" stroke="#c4c4c4" stroke-width="1.4"/>
<text x="50.2" y="137.2" font-size="15" text-anchor="end">0</text>
<line x1="54.2" y1="106.9" x2="57.4" y2="106.9" stroke="#c4c4c4" stroke-width="1.4"/>
<text x="50.2" y="112.9" font-size="15" text-anchor="end">0.1</text>
<line x1="54.2" y1="82.6" x2="57.4" y2="82.6" stroke="#c4c4c4" stroke-width="1.4"/>
<text x="50.2" y="88.6" font-size="15" text-anchor="end">0.2</text>
<line x1="54.2" y1="58.3" x2="57.4" y2="58.3" stroke="#c4c4c4" stroke-width="1.4"/>
<text x="50.2" y="64.3" font-size="15" text-anchor="end">0.3</text>
<line x1="54.2" y1="34.0" x2="57.4" y2="34.0" stroke="#c4c4c4" stroke-width="1.4"/>
<text x="50.2" y="40.0" font-size="15" text-anchor="end">0.4</text>
<line x1="54.2" y1="9.7" x2="57.4" y2="9.7" stroke="#c4c4c4" stroke-width="1.4"/>
<text x="50.2" y="15.7" font-size="15" text-anchor="end">0.5</text>
<line x1="69.9" y1="131.2" x2="69.9" y2="134.4" stroke="#c4c4c4" stroke-width="1.4"/>
<text x="68.4" y="150.4" font-size="14.5" text-anchor="middle">-5</text>
<line x1="93.7" y1="131.2" x2="93.7" y2="134.4" stroke="#c4c4c4" stroke-width="1.4"/>
<text x="92.2" y="150.4" font-size="14.5" text-anchor="middle">-2</text>
<line x1="117.5" y1="131.2" x2="117.5" y2="134.4" stroke="#c4c4c4" stroke-width="1.4"/>
<text x="117.5" y="150.4" font-size="14.5" text-anchor="middle">0</text>
<line x1="141.3" y1="131.2" x2="141.3" y2="134.4" stroke="#c4c4c4" stroke-width="1.4"/>
<text x="141.3" y="150.4" font-size="14.5" text-anchor="middle">2</text>
<line x1="165.1" y1="131.2" x2="165.1" y2="134.4" stroke="#c4c4c4" stroke-width="1.4"/>
<text x="165.1" y="150.4" font-size="14.5" text-anchor="middle">5</text>
<path d="M69.90,82.60 L93.70,82.60 L117.50,82.60 L141.30,82.60 L165.10,82.60" fill="none" stroke="#5cb6ec" stroke-width="2.6" stroke-linejoin="miter"/>
<text x="114.2" y="27.0" font-size="22.5" text-anchor="middle" textLength="46.1" lengthAdjust="spacingAndGlyphs">S0.2</text>
<text x="112.4" y="164.5" font-size="15.3" text-anchor="middle" textLength="109.8" lengthAdjust="spacingAndGlyphs">Distance to the</text>
<text x="112.1" y="179.8" font-size="15.3" text-anchor="middle" textLength="77.1" lengthAdjust="spacingAndGlyphs">center/mm</text>
<text x="23.8" y="72.5" font-size="15.3" text-anchor="middle" textLength="135.0" lengthAdjust="spacingAndGlyphs" transform="rotate(-90 23.8 72.5)">Strut diameter/mm</text>
<line x1="226.2" y1="9.0" x2="226.2" y2="132.0" stroke="#c4c4c4" stroke-width="1.6"/>
<line x1="223.2" y1="131.2" x2="345.2" y2="131.2" stroke="#c4c4c4" stroke-width="1.6"/>
<line x1="223.0" y1="131.2" x2="226.2" y2="131.2" stroke="#c4c4c4" stroke-width="1.4"/>
<text x="219.0" y="137.2" font-size="15" text-anchor="end">0</text>
<line x1="223.0" y1="106.9" x2="226.2" y2="106.9" stroke="#c4c4c4" stroke-width="1.4"/>
<text x="219.0" y="112.9" font-size="15" text-anchor="end">0.1</text>
<line x1="223.0" y1="82.6" x2="226.2" y2="82.6" stroke="#c4c4c4" stroke-width="1.4"/>
<text x="219.0" y="88.6" font-size="15" text-anchor="end">0.2</text>
<line x1="223.0" y1="58.3" x2="226.2" y2="58.3" stroke="#c4c4c4" stroke-width="1.4"/>
<text x="219.0" y="64.3" font-size="15" text-anchor="end">0.3</text>
<line x1="223.0" y1="34.0" x2="226.2" y2="34.0" stroke="#c4c4c4" stroke-width="1.4"/>
<text x="219.0" y="40.0" font-size="15" text-anchor="end">0.4</text>
<line x1="223.0" y1="9.7" x2="226.2" y2="9.7" stroke="#c4c4c4" stroke-width="1.4"/>
<text x="219.0" y="15.7" font-size="15" text-anchor="end">0.5</text>
<line x1="238.7" y1="131.2" x2="238.7" y2="134.4" stroke="#c4c4c4" stroke-width="1.4"/>
<text x="237.2" y="150.4" font-size="14.5" text-anchor="middle">−5</text>
<line x1="262.5" y1="131.2" x2="262.5" y2="134.4" stroke="#c4c4c4" stroke-width="1.4"/>
<text x="261.0" y="150.4" font-size="14.5" text-anchor="middle">−2</text>
<line x1="286.3" y1="131.2" x2="286.3" y2="134.4" stroke="#c4c4c4" stroke-width="1.4"/>
<text x="286.3" y="150.4" font-size="14.5" text-anchor="middle">0</text>
<line x1="310.1" y1="131.2" x2="310.1" y2="134.4" stroke="#c4c4c4" stroke-width="1.4"/>
<text x="310.1" y="150.4" font-size="14.5" text-anchor="middle">2</text>
<line x1="333.9" y1="131.2" x2="333.9" y2="134.4" stroke="#c4c4c4" stroke-width="1.4"/>
<text x="333.9" y="150.4" font-size="14.5" text-anchor="middle">5</text>
<path d="M238.70,82.60 L262.50,34.00 L286.30,34.00 L310.10,34.00 L333.90,82.60" fill="none" stroke="#5cb6ec" stroke-width="2.6" stroke-linejoin="miter"/>
<text x="287.7" y="27.0" font-size="22.5" text-anchor="middle" textLength="95.6" lengthAdjust="spacingAndGlyphs">Dense-in</text>
<text x="284.5" y="164.5" font-size="15.3" text-anchor="middle" textLength="109.8" lengthAdjust="spacingAndGlyphs">Distance to the</text>
<text x="284.2" y="179.8" font-size="15.3" text-anchor="middle" textLength="77.1" lengthAdjust="spacingAndGlyphs">center/mm</text>
<text x="191.1" y="72.5" font-size="15.3" text-anchor="middle" textLength="135.0" lengthAdjust="spacingAndGlyphs" transform="rotate(-90 191.1 72.5)">Strut diameter/mm</text>
<line x1="397.4" y1="9.0" x2="397.4" y2="132.0" stroke="#c4c4c4" stroke-width="1.6"/>
<line x1="394.4" y1="131.2" x2="516.4" y2="131.2" stroke="#c4c4c4" stroke-width="1.6"/>
<line x1="394.2" y1="131.2" x2="397.4" y2="131.2" stroke="#c4c4c4" stroke-width="1.4"/>
<text x="390.2" y="137.2" font-size="15" text-anchor="end">0</text>
<line x1="394.2" y1="106.9" x2="397.4" y2="106.9" stroke="#c4c4c4" stroke-width="1.4"/>
<text x="390.2" y="112.9" font-size="15" text-anchor="end">0.1</text>
<line x1="394.2" y1="82.6" x2="397.4" y2="82.6" stroke="#c4c4c4" stroke-width="1.4"/>
<text x="390.2" y="88.6" font-size="15" text-anchor="end">0.2</text>
<line x1="394.2" y1="58.3" x2="397.4" y2="58.3" stroke="#c4c4c4" stroke-width="1.4"/>
<text x="390.2" y="64.3" font-size="15" text-anchor="end">0.3</text>
<line x1="394.2" y1="34.0" x2="397.4" y2="34.0" stroke="#c4c4c4" stroke-width="1.4"/>
<text x="390.2" y="40.0" font-size="15" text-anchor="end">0.4</text>
<line x1="394.2" y1="9.7" x2="397.4" y2="9.7" stroke="#c4c4c4" stroke-width="1.4"/>
<text x="390.2" y="15.7" font-size="15" text-anchor="end">0.5</text>
<line x1="409.9" y1="131.2" x2="409.9" y2="134.4" stroke="#c4c4c4" stroke-width="1.4"/>
<text x="408.4" y="150.4" font-size="14.5" text-anchor="middle">−5</text>
<line x1="433.7" y1="131.2" x2="433.7" y2="134.4" stroke="#c4c4c4" stroke-width="1.4"/>
<text x="432.2" y="150.4" font-size="14.5" text-anchor="middle">−2</text>
<line x1="457.5" y1="131.2" x2="457.5" y2="134.4" stroke="#c4c4c4" stroke-width="1.4"/>
<text x="457.5" y="150.4" font-size="14.5" text-anchor="middle">0</text>
<line x1="481.3" y1="131.2" x2="481.3" y2="134.4" stroke="#c4c4c4" stroke-width="1.4"/>
<text x="481.3" y="150.4" font-size="14.5" text-anchor="middle">2</text>
<line x1="505.1" y1="131.2" x2="505.1" y2="134.4" stroke="#c4c4c4" stroke-width="1.4"/>
<text x="505.1" y="150.4" font-size="14.5" text-anchor="middle">5</text>
<path d="M409.90,34.00 L433.70,82.60 L457.50,82.60 L481.30,82.60 L505.10,34.00" fill="none" stroke="#5cb6ec" stroke-width="2.6" stroke-linejoin="miter"/>
<text x="459.7" y="27.0" font-size="22.5" text-anchor="middle" textLength="111.8" lengthAdjust="spacingAndGlyphs">Dense-out</text>
<text x="452.9" y="164.5" font-size="15.3" text-anchor="middle" textLength="109.8" lengthAdjust="spacingAndGlyphs">Distance to the</text>
<text x="452.6" y="179.8" font-size="15.3" text-anchor="middle" textLength="77.1" lengthAdjust="spacingAndGlyphs">center/mm</text>
<text x="363.8" y="72.5" font-size="15.3" text-anchor="middle" textLength="143.0" lengthAdjust="spacingAndGlyphs" transform="rotate(-90 363.8 72.5)">Strut diameter (mm)</text>
<line x1="567.8" y1="9.0" x2="567.8" y2="132.0" stroke="#c4c4c4" stroke-width="1.6"/>
<line x1="564.8" y1="131.2" x2="686.8" y2="131.2" stroke="#c4c4c4" stroke-width="1.6"/>
<line x1="564.6" y1="131.2" x2="567.8" y2="131.2" stroke="#c4c4c4" stroke-width="1.4"/>
<text x="560.6" y="137.2" font-size="15" text-anchor="end">0</text>
<line x1="564.6" y1="106.9" x2="567.8" y2="106.9" stroke="#c4c4c4" stroke-width="1.4"/>
<text x="560.6" y="112.9" font-size="15" text-anchor="end">0.1</text>
<line x1="564.6" y1="82.6" x2="567.8" y2="82.6" stroke="#c4c4c4" stroke-width="1.4"/>
<text x="560.6" y="88.6" font-size="15" text-anchor="end">0.2</text>
<line x1="564.6" y1="58.3" x2="567.8" y2="58.3" stroke="#c4c4c4" stroke-width="1.4"/>
<text x="560.6" y="64.3" font-size="15" text-anchor="end">0.3</text>
<line x1="564.6" y1="34.0" x2="567.8" y2="34.0" stroke="#c4c4c4" stroke-width="1.4"/>
<text x="560.6" y="40.0" font-size="15" text-anchor="end">0.4</text>
<line x1="564.6" y1="9.7" x2="567.8" y2="9.7" stroke="#c4c4c4" stroke-width="1.4"/>
<text x="560.6" y="15.7" font-size="15" text-anchor="end">0.5</text>
<line x1="580.3" y1="131.2" x2="580.3" y2="134.4" stroke="#c4c4c4" stroke-width="1.4"/>
<text x="578.8" y="150.4" font-size="14.5" text-anchor="middle">−5</text>
<line x1="604.1" y1="131.2" x2="604.1" y2="134.4" stroke="#c4c4c4" stroke-width="1.4"/>
<text x="602.6" y="150.4" font-size="14.5" text-anchor="middle">−2</text>
<line x1="627.9" y1="131.2" x2="627.9" y2="134.4" stroke="#c4c4c4" stroke-width="1.4"/>
<text x="627.9" y="150.4" font-size="14.5" text-anchor="middle">0</text>
<line x1="651.7" y1="131.2" x2="651.7" y2="134.4" stroke="#c4c4c4" stroke-width="1.4"/>
<text x="651.7" y="150.4" font-size="14.5" text-anchor="middle">2</text>
<line x1="675.5" y1="131.2" x2="675.5" y2="134.4" stroke="#c4c4c4" stroke-width="1.4"/>
<text x="675.5" y="150.4" font-size="14.5" text-anchor="middle">5</text>
<path d="M580.30,34.00 L604.10,34.00 L627.90,34.00 L651.70,34.00 L675.50,34.00" fill="none" stroke="#5cb6ec" stroke-width="2.6" stroke-linejoin="miter"/>
<text x="624.7" y="27.0" font-size="22.5" text-anchor="middle" textLength="46.1" lengthAdjust="spacingAndGlyphs">S0.4</text>
<text x="617.0" y="164.5" font-size="15.3" text-anchor="middle" textLength="109.8" lengthAdjust="spacingAndGlyphs">Distance to the</text>
<text x="616.7" y="179.8" font-size="15.3" text-anchor="middle" textLength="77.1" lengthAdjust="spacingAndGlyphs">center/mm</text>
<text x="533.2" y="72.5" font-size="15.3" text-anchor="middle" textLength="135.0" lengthAdjust="spacingAndGlyphs" transform="rotate(-90 533.2 72.5)">Strut diameter/mm</text>
<path d="M791.80,368.96 L793.37,368.01 L794.94,366.99 L796.51,365.91 L798.07,364.72 L799.64,363.40 L801.21,362.31 L802.78,361.41 L804.35,360.89 L805.92,360.66 L807.49,360.50 L809.06,360.38 L810.62,360.28 L812.19,360.18 L813.76,360.09 L815.33,360.01 L816.90,359.93 L818.47,359.87 L820.04,359.80 L821.60,359.75 L823.17,359.70 L824.74,359.65 L826.31,359.61 L827.88,359.56 L829.45,359.52 L831.02,359.49 L832.59,359.45 L834.15,359.41 L835.72,359.38 L837.29,359.35 L838.86,359.31 L840.43,359.28 L842.00,359.25 L843.57,359.23 L845.13,359.20 L846.70,359.17 L848.27,359.14 L849.84,359.11 L851.41,359.09 L852.98,359.06 L854.55,359.03 L856.12,359.00 L857.68,358.97 L859.25,358.94 L860.82,358.92 L862.39,358.89 L863.96,358.86 L865.53,358.83 L867.10,358.80 L868.66,358.78 L870.23,358.75 L871.80,358.72 L873.37,358.69 L874.94,358.67 L876.51,358.64 L878.08,358.61 L879.65,358.59 L881.21,358.56 L882.78,358.53 L884.35,358.51 L885.92,358.48 L887.49,358.46 L889.06,358.43 L890.63,358.41 L892.19,358.38 L893.76,358.36 L895.33,358.33 L896.90,358.31 L898.47,358.28 L900.04,358.26 L901.61,358.23 L903.18,358.21 L904.74,358.19 L906.31,358.16 L907.88,358.14 L909.45,358.12 L911.02,358.09 L912.59,358.07 L914.16,358.05 L915.72,358.03 L917.29,358.01 L918.86,357.98 L920.43,357.96 L922.00,357.94 L923.57,357.92 L925.14,357.90 L926.71,357.88 L928.27,357.86 L929.84,357.84 L931.41,357.82 L932.98,357.80 L934.55,357.78 L936.12,357.76 L937.69,357.74 L939.25,357.72 L940.82,357.70 L942.39,357.69 L943.96,357.67 L945.53,357.65 L947.10,357.63 L948.67,357.61 L950.24,357.60 L951.80,357.58 L953.37,357.56 L954.94,357.54 L956.51,357.53 L958.08,357.51 L959.65,357.49 L961.22,357.47 L962.78,357.46 L964.35,357.44 L965.92,357.42 L967.49,357.40 L969.06,357.39 L970.63,357.37 L972.20,357.35 L973.77,357.33 L975.33,357.31 L976.90,357.29 L978.47,357.27 L980.04,357.26 L981.61,357.24 L983.18,357.22 L984.75,357.20 L986.31,357.18 L987.88,357.15 L989.45,357.13 L991.02,357.11 L992.59,357.09 L994.16,357.07 L995.73,357.05 L997.30,357.03 L998.86,357.01 L1000.43,356.99 L1002.00,356.97 L1003.57,356.95 L1005.14,356.93 L1006.71,356.91 L1008.28,356.89 L1009.84,356.87 L1011.41,356.85 L1012.98,356.83 L1014.55,356.81 L1016.12,356.78 L1017.69,356.76 L1019.26,356.74 L1020.83,356.72 L1022.39,356.70 L1023.96,356.67 L1025.53,356.65 L1027.10,356.63 L1028.67,356.60 L1030.24,356.58 L1031.81,356.56 L1033.37,356.53 L1034.94,356.50 L1036.51,356.48 L1038.08,356.45 L1039.65,356.43 L1041.22,356.40 L1042.79,356.37 L1044.36,356.34 L1045.92,356.31 L1047.49,356.28 L1049.06,356.25 L1050.63,356.22 L1052.20,356.19 L1053.77,356.16 L1055.34,356.12 L1056.90,356.09 L1058.47,356.05 L1060.04,356.01 L1061.61,355.97 L1063.18,355.92 L1064.75,355.88 L1066.32,355.83 L1067.89,355.79 L1069.45,355.74 L1071.02,355.69 L1072.59,355.64 L1074.16,355.59 L1075.73,355.54 L1077.30,355.49 L1078.87,355.43 L1080.43,355.38 L1082.00,355.33 L1083.57,355.27 L1085.14,355.22 L1086.71,355.16 L1088.28,355.11 L1089.85,355.05 L1091.42,355.00 L1092.98,354.94 L1094.55,354.88 L1096.12,354.82 L1097.69,354.76 L1099.26,354.70 L1100.83,354.64 L1102.40,354.58 L1103.96,354.51 L1105.53,354.45 L1107.10,354.38 L1108.67,354.30 L1110.24,354.23 L1111.81,354.16 L1113.38,354.08 L1114.95,354.00 L1116.51,353.91 L1118.08,353.82 L1119.65,353.70 L1121.22,353.57 L1122.79,353.44 L1124.36,353.30 L1125.93,353.16 L1127.49,353.01 L1129.06,352.86 L1130.63,352.71 L1132.20,352.55 L1133.77,352.38 L1135.34,352.22 L1136.91,352.05 L1138.48,351.87 L1140.04,351.70 L1141.61,351.52 L1143.18,351.33 L1144.75,351.14 L1146.32,350.95 L1147.89,350.76 L1149.46,350.56 L1151.02,350.37 L1152.59,350.17 L1154.16,349.97 L1155.73,349.76 L1157.30,349.55 L1158.87,349.33 L1160.44,349.10 L1162.01,348.85 L1163.57,348.60 L1165.14,348.34 L1166.71,348.06 L1168.28,347.77 L1169.85,347.47 L1171.42,347.14 L1172.99,346.78 L1174.55,346.40 L1176.12,345.98 L1177.69,345.54 L1179.26,345.07 L1180.83,344.58 L1182.40,344.07 L1183.97,343.53 L1185.54,342.96 L1187.10,342.35 L1188.67,341.70 L1190.24,341.02 L1191.81,340.31 L1193.38,339.56 L1194.95,338.79 L1196.52,337.98 L1198.09,337.15 L1198.09,341.24 L1196.52,342.02 L1194.95,342.78 L1193.38,343.51 L1191.81,344.21 L1190.24,344.88 L1188.67,345.52 L1187.10,346.12 L1185.54,346.69 L1183.97,347.21 L1182.40,347.70 L1180.83,348.17 L1179.26,348.62 L1177.69,349.04 L1176.12,349.44 L1174.55,349.81 L1172.99,350.15 L1171.42,350.46 L1169.85,350.74 L1168.28,351.00 L1166.71,351.25 L1165.14,351.48 L1163.57,351.70 L1162.01,351.91 L1160.44,352.10 L1158.87,352.29 L1157.30,352.47 L1155.73,352.64 L1154.16,352.80 L1152.59,352.96 L1151.02,353.11 L1149.46,353.24 L1147.89,353.37 L1146.32,353.50 L1144.75,353.63 L1143.18,353.75 L1141.61,353.87 L1140.04,353.98 L1138.48,354.10 L1136.91,354.21 L1135.34,354.31 L1133.77,354.41 L1132.20,354.51 L1130.63,354.60 L1129.06,354.69 L1127.49,354.78 L1125.93,354.86 L1124.36,354.93 L1122.79,355.00 L1121.22,355.07 L1119.65,355.13 L1118.08,355.19 L1116.51,355.27 L1114.95,355.36 L1113.38,355.44 L1111.81,355.51 L1110.24,355.59 L1108.67,355.66 L1107.10,355.73 L1105.53,355.80 L1103.96,355.86 L1102.40,355.93 L1100.83,355.99 L1099.26,356.05 L1097.69,356.11 L1096.12,356.17 L1094.55,356.22 L1092.98,356.28 L1091.42,356.34 L1089.85,356.39 L1088.28,356.44 L1086.71,356.50 L1085.14,356.55 L1083.57,356.60 L1082.00,356.66 L1080.43,356.71 L1078.87,356.76 L1077.30,356.81 L1075.73,356.86 L1074.16,356.91 L1072.59,356.96 L1071.02,357.01 L1069.45,357.06 L1067.89,357.11 L1066.32,357.15 L1064.75,357.20 L1063.18,357.24 L1061.61,357.28 L1060.04,357.32 L1058.47,357.36 L1056.90,357.40 L1055.34,357.43 L1053.77,357.46 L1052.20,357.50 L1050.63,357.53 L1049.06,357.56 L1047.49,357.59 L1045.92,357.61 L1044.36,357.64 L1042.79,357.67 L1041.22,357.70 L1039.65,357.72 L1038.08,357.75 L1036.51,357.77 L1034.94,357.80 L1033.37,357.82 L1031.81,357.85 L1030.24,357.87 L1028.67,357.89 L1027.10,357.91 L1025.53,357.94 L1023.96,357.96 L1022.39,357.98 L1020.83,358.00 L1019.26,358.02 L1017.69,358.04 L1016.12,358.06 L1014.55,358.08 L1012.98,358.10 L1011.41,358.12 L1009.84,358.14 L1008.28,358.16 L1006.71,358.18 L1005.14,358.20 L1003.57,358.22 L1002.00,358.24 L1000.43,358.26 L998.86,358.27 L997.30,358.29 L995.73,358.31 L994.16,358.33 L992.59,358.35 L991.02,358.37 L989.45,358.39 L987.88,358.41 L986.31,358.43 L984.75,358.45 L983.18,358.47 L981.61,358.48 L980.04,358.50 L978.47,358.52 L976.90,358.54 L975.33,358.56 L973.77,358.57 L972.20,358.59 L970.63,358.61 L969.06,358.62 L967.49,358.64 L965.92,358.66 L964.35,358.67 L962.78,358.69 L961.22,358.71 L959.65,358.72 L958.08,358.74 L956.51,358.75 L954.94,358.77 L953.37,358.79 L951.80,358.80 L950.24,358.82 L948.67,358.83 L947.10,358.85 L945.53,358.87 L943.96,358.88 L942.39,358.90 L940.82,358.92 L939.25,358.93 L937.69,358.95 L936.12,358.97 L934.55,358.99 L932.98,359.00 L931.41,359.02 L929.84,359.04 L928.27,359.06 L926.71,359.08 L925.14,359.10 L923.57,359.12 L922.00,359.14 L920.43,359.16 L918.86,359.18 L917.29,359.20 L915.72,359.22 L914.16,359.24 L912.59,359.26 L911.02,359.28 L909.45,359.31 L907.88,359.33 L906.31,359.35 L904.74,359.37 L903.18,359.39 L901.61,359.42 L900.04,359.44 L898.47,359.46 L896.90,359.48 L895.33,359.51 L893.76,359.53 L892.19,359.55 L890.63,359.58 L889.06,359.60 L887.49,359.63 L885.92,359.65 L884.35,359.67 L882.78,359.70 L881.21,359.72 L879.65,359.75 L878.08,359.77 L876.51,359.80 L874.94,359.83 L873.37,359.85 L871.80,359.88 L870.23,359.90 L868.66,359.93 L867.10,359.96 L865.53,359.98 L863.96,360.01 L862.39,360.04 L860.82,360.06 L859.25,360.09 L857.68,360.12 L856.12,360.15 L854.55,360.17 L852.98,360.20 L851.41,360.23 L849.84,360.25 L848.27,360.28 L846.70,360.30 L845.13,360.33 L843.57,360.36 L842.00,360.39 L840.43,360.41 L838.86,360.44 L837.29,360.47 L835.72,360.51 L834.15,360.54 L832.59,360.57 L831.02,360.61 L829.45,360.64 L827.88,360.68 L826.31,360.73 L824.74,360.77 L823.17,360.81 L821.60,360.86 L820.04,360.92 L818.47,360.98 L816.90,361.04 L815.33,361.12 L813.76,361.20 L812.19,361.29 L810.62,361.38 L809.06,361.48 L807.49,361.60 L805.92,361.76 L804.35,361.99 L802.78,362.51 L801.21,363.41 L799.64,364.49 L798.07,365.81 L796.51,367.00 L794.94,368.08 L793.37,369.10 L791.80,370.04 Z" fill="#8cc8ee" stroke="none"/>
<path d="M791.80,369.50 L793.37,368.55 L794.94,367.54 L796.51,366.46 L798.07,365.27 L799.64,363.95 L801.21,362.86 L802.78,361.96 L804.35,361.44 L805.92,361.21 L807.49,361.05 L809.06,360.93 L810.62,360.83 L812.19,360.73 L813.76,360.64 L815.33,360.56 L816.90,360.49 L818.47,360.42 L820.04,360.36 L821.60,360.31 L823.17,360.26 L824.74,360.21 L826.31,360.17 L827.88,360.12 L829.45,360.08 L831.02,360.05 L832.59,360.01 L834.15,359.98 L835.72,359.94 L837.29,359.91 L838.86,359.88 L840.43,359.85 L842.00,359.82 L843.57,359.79 L845.13,359.76 L846.70,359.74 L848.27,359.71 L849.84,359.68 L851.41,359.66 L852.98,359.63 L854.55,359.60 L856.12,359.57 L857.68,359.55 L859.25,359.52 L860.82,359.49 L862.39,359.46 L863.96,359.43 L865.53,359.41 L867.10,359.38 L868.66,359.35 L870.23,359.33 L871.80,359.30 L873.37,359.27 L874.94,359.25 L876.51,359.22 L878.08,359.19 L879.65,359.17 L881.21,359.14 L882.78,359.12 L884.35,359.09 L885.92,359.07 L887.49,359.04 L889.06,359.02 L890.63,358.99 L892.19,358.97 L893.76,358.94 L895.33,358.92 L896.90,358.90 L898.47,358.87 L900.04,358.85 L901.61,358.83 L903.18,358.80 L904.74,358.78 L906.31,358.76 L907.88,358.73 L909.45,358.71 L911.02,358.69 L912.59,358.67 L914.16,358.65 L915.72,358.62 L917.29,358.60 L918.86,358.58 L920.43,358.56 L922.00,358.54 L923.57,358.52 L925.14,358.50 L926.71,358.48 L928.27,358.46 L929.84,358.44 L931.41,358.42 L932.98,358.40 L934.55,358.38 L936.12,358.36 L937.69,358.35 L939.25,358.33 L940.82,358.31 L942.39,358.29 L943.96,358.28 L945.53,358.26 L947.10,358.24 L948.67,358.22 L950.24,358.21 L951.80,358.19 L953.37,358.17 L954.94,358.16 L956.51,358.14 L958.08,358.12 L959.65,358.11 L961.22,358.09 L962.78,358.07 L964.35,358.06 L965.92,358.04 L967.49,358.02 L969.06,358.00 L970.63,357.99 L972.20,357.97 L973.77,357.95 L975.33,357.93 L976.90,357.92 L978.47,357.90 L980.04,357.88 L981.61,357.86 L983.18,357.84 L984.75,357.82 L986.31,357.80 L987.88,357.78 L989.45,357.76 L991.02,357.74 L992.59,357.72 L994.16,357.70 L995.73,357.68 L997.30,357.66 L998.86,357.64 L1000.43,357.62 L1002.00,357.60 L1003.57,357.58 L1005.14,357.56 L1006.71,357.54 L1008.28,357.52 L1009.84,357.50 L1011.41,357.48 L1012.98,357.46 L1014.55,357.44 L1016.12,357.42 L1017.69,357.40 L1019.26,357.38 L1020.83,357.36 L1022.39,357.34 L1023.96,357.32 L1025.53,357.29 L1027.10,357.27 L1028.67,357.25 L1030.24,357.22 L1031.81,357.20 L1033.37,357.18 L1034.94,357.15 L1036.51,357.13 L1038.08,357.10 L1039.65,357.07 L1041.22,357.05 L1042.79,357.02 L1044.36,356.99 L1045.92,356.96 L1047.49,356.93 L1049.06,356.90 L1050.63,356.87 L1052.20,356.84 L1053.77,356.81 L1055.34,356.78 L1056.90,356.74 L1058.47,356.70 L1060.04,356.66 L1061.61,356.62 L1063.18,356.58 L1064.75,356.54 L1066.32,356.49 L1067.89,356.45 L1069.45,356.40 L1071.02,356.35 L1072.59,356.30 L1074.16,356.25 L1075.73,356.20 L1077.30,356.15 L1078.87,356.10 L1080.43,356.04 L1082.00,355.99 L1083.57,355.94 L1085.14,355.88 L1086.71,355.83 L1088.28,355.78 L1089.85,355.72 L1091.42,355.67 L1092.98,355.61 L1094.55,355.55 L1096.12,355.50 L1097.69,355.44 L1099.26,355.38 L1100.83,355.32 L1102.40,355.25 L1103.96,355.19 L1105.53,355.12 L1107.10,355.05 L1108.67,354.98 L1110.24,354.91 L1111.81,354.83 L1113.38,354.76 L1114.95,354.68 L1116.51,354.59 L1118.08,354.51 L1119.65,354.42 L1121.22,354.32 L1122.79,354.22 L1124.36,354.12 L1125.93,354.01 L1127.49,353.89 L1129.06,353.78 L1130.63,353.65 L1132.20,353.53 L1133.77,353.40 L1135.34,353.26 L1136.91,353.13 L1138.48,352.99 L1140.04,352.84 L1141.61,352.69 L1143.18,352.54 L1144.75,352.39 L1146.32,352.23 L1147.89,352.07 L1149.46,351.90 L1151.02,351.74 L1152.59,351.56 L1154.16,351.39 L1155.73,351.20 L1157.30,351.01 L1158.87,350.81 L1160.44,350.60 L1162.01,350.38 L1163.57,350.15 L1165.14,349.91 L1166.71,349.65 L1168.28,349.39 L1169.85,349.11 L1171.42,348.80 L1172.99,348.47 L1174.55,348.10 L1176.12,347.71 L1177.69,347.29 L1179.26,346.84 L1180.83,346.37 L1182.40,345.89 L1183.97,345.37 L1185.54,344.82 L1187.10,344.24 L1188.67,343.61 L1190.24,342.95 L1191.81,342.26 L1193.38,341.54 L1194.95,340.78 L1196.52,340.00 L1198.09,339.20" fill="none" stroke="#1a3346" stroke-width="1.4"/>
<path d="M791.80,369.50 L793.37,368.97 L794.94,368.08 L796.52,366.93 L798.09,365.62 L799.66,363.97 L801.23,361.74 L802.81,359.20 L804.38,356.61 L805.95,353.96 L807.52,351.02 L809.10,348.69 L810.67,347.39 L812.24,346.41 L813.81,345.65 L815.39,345.05 L816.96,344.54 L818.53,344.09 L820.10,343.70 L821.68,343.35 L823.25,343.04 L824.82,342.74 L826.39,342.45 L827.97,342.17 L829.54,341.90 L831.11,341.63 L832.68,341.37 L834.26,341.12 L835.83,340.87 L837.40,340.64 L838.97,340.41 L840.55,340.19 L842.12,339.98 L843.69,339.78 L845.26,339.59 L846.84,339.41 L848.41,339.24 L849.98,339.08 L851.55,338.93 L853.13,338.80 L854.70,338.67 L856.27,338.56 L857.84,338.46 L859.42,338.37 L860.99,338.28 L862.56,338.19 L864.13,338.11 L865.70,338.03 L867.28,337.95 L868.85,337.88 L870.42,337.81 L871.99,337.74 L873.57,337.68 L875.14,337.62 L876.71,337.56 L878.28,337.50 L879.86,337.45 L881.43,337.40 L883.00,337.35 L884.57,337.30 L886.15,337.25 L887.72,337.21 L889.29,337.16 L890.86,337.12 L892.44,337.08 L894.01,337.04 L895.58,337.00 L897.15,336.96 L898.73,336.92 L900.30,336.89 L901.87,336.85 L903.44,336.82 L905.02,336.79 L906.59,336.76 L908.16,336.72 L909.73,336.69 L911.31,336.66 L912.88,336.64 L914.45,336.61 L916.02,336.58 L917.60,336.55 L919.17,336.52 L920.74,336.50 L922.31,336.47 L923.89,336.44 L925.46,336.42 L927.03,336.39 L928.60,336.37 L930.18,336.35 L931.75,336.33 L933.32,336.30 L934.89,336.28 L936.46,336.26 L938.04,336.24 L939.61,336.22 L941.18,336.20 L942.75,336.18 L944.33,336.15 L945.90,336.13 L947.47,336.11 L949.04,336.09 L950.62,336.06 L952.19,336.04 L953.76,336.01 L955.33,335.99 L956.91,335.96 L958.48,335.93 L960.05,335.91 L961.62,335.88 L963.20,335.85 L964.77,335.83 L966.34,335.80 L967.91,335.77 L969.49,335.74 L971.06,335.71 L972.63,335.68 L974.20,335.65 L975.78,335.61 L977.35,335.58 L978.92,335.54 L980.49,335.51 L982.07,335.47 L983.64,335.42 L985.21,335.38 L986.78,335.33 L988.36,335.28 L989.93,335.23 L991.50,335.17 L993.07,335.11 L994.65,335.05 L996.22,334.98 L997.79,334.90 L999.36,334.82 L1000.94,334.74 L1002.51,334.65 L1004.08,334.56 L1005.65,334.46 L1007.22,334.36 L1008.80,334.26 L1010.37,334.15 L1011.94,334.04 L1013.51,333.93 L1015.09,333.81 L1016.66,333.68 L1018.23,333.56 L1019.80,333.43 L1021.38,333.29 L1022.95,333.13 L1024.52,332.95 L1026.09,332.76 L1027.67,332.56 L1029.24,332.34 L1030.81,332.12 L1032.38,331.88 L1033.96,331.64 L1035.53,331.40 L1037.10,331.15 L1038.67,330.90 L1040.25,330.66 L1041.82,330.41 L1043.39,330.16 L1044.96,329.90 L1046.54,329.64 L1048.11,329.38 L1049.68,329.11 L1051.25,328.83 L1052.83,328.55 L1054.40,328.25 L1055.97,327.96 L1057.54,327.65 L1059.12,327.34 L1060.69,327.01 L1062.26,326.68 L1063.83,326.34 L1065.41,325.98 L1066.98,325.61 L1068.55,325.22 L1070.12,324.81 L1071.70,324.38 L1073.27,323.93 L1074.84,323.47 L1076.41,322.99 L1077.98,322.51 L1079.56,322.02 L1081.13,321.52 L1082.70,321.02 L1084.27,320.52 L1085.85,320.02 L1087.42,319.52 L1088.99,319.03 L1090.56,318.54 L1092.14,318.04 L1093.71,317.55 L1095.28,317.04 L1096.85,316.53 L1098.43,316.00 L1100.00,315.46 L1101.57,314.90 L1103.14,314.31 L1104.72,313.70 L1106.29,313.06 L1107.86,312.39 L1109.43,311.69 L1111.01,310.96 L1112.58,310.20 L1114.15,309.41 L1115.72,308.61 L1117.30,307.78 L1118.87,306.94 L1120.44,306.07 L1122.01,305.16 L1123.59,304.23 L1125.16,303.26 L1126.73,302.27 L1128.30,301.26 L1129.88,300.22 L1131.45,299.17 L1133.02,298.11 L1134.59,297.03 L1136.17,295.93 L1137.74,294.81 L1139.31,293.67 L1140.88,292.50 L1142.46,291.32 L1144.03,290.11 L1145.60,288.87 L1147.17,287.61 L1148.74,286.33 L1150.32,285.03 L1151.89,283.70 L1153.46,282.36 L1155.03,280.98 L1156.61,279.58 L1158.18,278.13 L1159.75,276.63 L1161.32,275.08 L1162.90,273.46 L1164.47,271.76 L1166.04,269.92 L1167.61,267.99 L1169.19,265.98 L1170.76,263.93 L1172.33,261.87 L1173.90,259.84 L1175.48,257.81 L1177.05,255.73 L1178.62,253.63 L1180.19,251.53 L1181.77,249.43 L1183.34,247.36 L1184.91,245.32 L1186.48,243.34 L1188.06,241.41 L1189.63,239.49 L1191.20,237.60 L1192.77,235.73 L1194.35,233.89 L1195.92,232.08 L1197.49,230.29 L1199.06,228.53" fill="none" stroke="#bfe6f2" stroke-width="2.6"/>
<path d="M791.80,369.50 L793.37,368.97 L794.94,368.08 L796.52,366.93 L798.09,365.62 L799.66,363.97 L801.23,361.74 L802.81,359.20 L804.38,356.61 L805.95,353.96 L807.52,351.02 L809.10,348.69 L810.67,347.39 L812.24,346.41 L813.81,345.65 L815.39,345.05 L816.96,344.54 L818.53,344.09 L820.10,343.70 L821.68,343.35 L823.25,343.04 L824.82,342.74 L826.39,342.45 L827.97,342.17 L829.54,341.90 L831.11,341.63 L832.68,341.37 L834.26,341.12 L835.83,340.87 L837.40,340.64 L838.97,340.41 L840.55,340.19 L842.12,339.98 L843.69,339.78 L845.26,339.59 L846.84,339.41 L848.41,339.24 L849.98,339.08 L851.55,338.93 L853.13,338.80 L854.70,338.67 L856.27,338.56 L857.84,338.46 L859.42,338.37 L860.99,338.28 L862.56,338.19 L864.13,338.11 L865.70,338.03 L867.28,337.95 L868.85,337.88 L870.42,337.81 L871.99,337.74 L873.57,337.68 L875.14,337.62 L876.71,337.56 L878.28,337.50 L879.86,337.45 L881.43,337.40 L883.00,337.35 L884.57,337.30 L886.15,337.25 L887.72,337.21 L889.29,337.16 L890.86,337.12 L892.44,337.08 L894.01,337.04 L895.58,337.00 L897.15,336.96 L898.73,336.92 L900.30,336.89 L901.87,336.85 L903.44,336.82 L905.02,336.79 L906.59,336.76 L908.16,336.72 L909.73,336.69 L911.31,336.66 L912.88,336.64 L914.45,336.61 L916.02,336.58 L917.60,336.55 L919.17,336.52 L920.74,336.50 L922.31,336.47 L923.89,336.44 L925.46,336.42 L927.03,336.39 L928.60,336.37 L930.18,336.35 L931.75,336.33 L933.32,336.30 L934.89,336.28 L936.46,336.26 L938.04,336.24 L939.61,336.22 L941.18,336.20 L942.75,336.18 L944.33,336.15 L945.90,336.13 L947.47,336.11 L949.04,336.09 L950.62,336.06 L952.19,336.04 L953.76,336.01 L955.33,335.99 L956.91,335.96 L958.48,335.93 L960.05,335.91 L961.62,335.88 L963.20,335.85 L964.77,335.83 L966.34,335.80 L967.91,335.77 L969.49,335.74 L971.06,335.71 L972.63,335.68 L974.20,335.65 L975.78,335.61 L977.35,335.58 L978.92,335.54 L980.49,335.51 L982.07,335.47 L983.64,335.42 L985.21,335.38 L986.78,335.33 L988.36,335.28 L989.93,335.23 L991.50,335.17 L993.07,335.11 L994.65,335.05 L996.22,334.98 L997.79,334.90 L999.36,334.82 L1000.94,334.74 L1002.51,334.65 L1004.08,334.56 L1005.65,334.46 L1007.22,334.36 L1008.80,334.26 L1010.37,334.15 L1011.94,334.04 L1013.51,333.93 L1015.09,333.81 L1016.66,333.68 L1018.23,333.56 L1019.80,333.43 L1021.38,333.29 L1022.95,333.13 L1024.52,332.95 L1026.09,332.76 L1027.67,332.56 L1029.24,332.34 L1030.81,332.12 L1032.38,331.88 L1033.96,331.64 L1035.53,331.40 L1037.10,331.15 L1038.67,330.90 L1040.25,330.66 L1041.82,330.41 L1043.39,330.16 L1044.96,329.90 L1046.54,329.64 L1048.11,329.38 L1049.68,329.11 L1051.25,328.83 L1052.83,328.55 L1054.40,328.25 L1055.97,327.96 L1057.54,327.65 L1059.12,327.34 L1060.69,327.01 L1062.26,326.68 L1063.83,326.34 L1065.41,325.98 L1066.98,325.61 L1068.55,325.22 L1070.12,324.81 L1071.70,324.38 L1073.27,323.93 L1074.84,323.47 L1076.41,322.99 L1077.98,322.51 L1079.56,322.02 L1081.13,321.52 L1082.70,321.02 L1084.27,320.52 L1085.85,320.02 L1087.42,319.52 L1088.99,319.03 L1090.56,318.54 L1092.14,318.04 L1093.71,317.55 L1095.28,317.04 L1096.85,316.53 L1098.43,316.00 L1100.00,315.46 L1101.57,314.90 L1103.14,314.31 L1104.72,313.70 L1106.29,313.06 L1107.86,312.39 L1109.43,311.69 L1111.01,310.96 L1112.58,310.20 L1114.15,309.41 L1115.72,308.61 L1117.30,307.78 L1118.87,306.94 L1120.44,306.07 L1122.01,305.16 L1123.59,304.23 L1125.16,303.26 L1126.73,302.27 L1128.30,301.26 L1129.88,300.22 L1131.45,299.17 L1133.02,298.11 L1134.59,297.03 L1136.17,295.93 L1137.74,294.81 L1139.31,293.67 L1140.88,292.50 L1142.46,291.32 L1144.03,290.11 L1145.60,288.87 L1147.17,287.61 L1148.74,286.33 L1150.32,285.03 L1151.89,283.70 L1153.46,282.36 L1155.03,280.98 L1156.61,279.58 L1158.18,278.13 L1159.75,276.63 L1161.32,275.08 L1162.90,273.46 L1164.47,271.76 L1166.04,269.92 L1167.61,267.99 L1169.19,265.98 L1170.76,263.93 L1172.33,261.87 L1173.90,259.84 L1175.48,257.81 L1177.05,255.73 L1178.62,253.63 L1180.19,251.53 L1181.77,249.43 L1183.34,247.36 L1184.91,245.32 L1186.48,243.34 L1188.06,241.41 L1189.63,239.49 L1191.20,237.60 L1192.77,235.73 L1194.35,233.89 L1195.92,232.08 L1197.49,230.29 L1199.06,228.53" fill="none" stroke="#1e2a30" stroke-width="1.3"/>
<path d="M791.80,369.50 L793.34,368.82 L794.89,367.80 L796.43,366.53 L797.98,365.07 L799.52,363.32 L801.07,361.03 L802.61,358.40 L804.16,355.68 L805.70,352.92 L807.25,349.73 L808.79,347.04 L810.34,345.58 L811.88,344.55 L813.43,343.77 L814.97,343.15 L816.52,342.63 L818.06,342.17 L819.61,341.77 L821.15,341.42 L822.70,341.10 L824.24,340.81 L825.79,340.52 L827.33,340.25 L828.88,339.99 L830.42,339.74 L831.97,339.49 L833.51,339.25 L835.06,339.03 L836.60,338.80 L838.15,338.59 L839.69,338.39 L841.24,338.19 L842.78,337.99 L844.33,337.81 L845.87,337.63 L847.42,337.45 L848.96,337.28 L850.51,337.12 L852.05,336.96 L853.60,336.80 L855.14,336.65 L856.69,336.50 L858.23,336.36 L859.78,336.22 L861.32,336.08 L862.87,335.94 L864.41,335.81 L865.96,335.68 L867.50,335.56 L869.05,335.43 L870.59,335.32 L872.14,335.20 L873.68,335.09 L875.23,334.98 L876.77,334.87 L878.32,334.76 L879.86,334.66 L881.41,334.56 L882.95,334.47 L884.50,334.38 L886.04,334.29 L887.59,334.20 L889.13,334.11 L890.68,334.03 L892.22,333.95 L893.77,333.88 L895.31,333.80 L896.86,333.73 L898.40,333.66 L899.95,333.60 L901.49,333.53 L903.04,333.47 L904.58,333.40 L906.13,333.34 L907.67,333.28 L909.22,333.22 L910.76,333.16 L912.31,333.11 L913.85,333.05 L915.40,332.99 L916.94,332.93 L918.49,332.87 L920.03,332.81 L921.58,332.75 L923.12,332.69 L924.67,332.63 L926.21,332.57 L927.76,332.51 L929.30,332.45 L930.85,332.39 L932.39,332.33 L933.94,332.27 L935.48,332.21 L937.03,332.15 L938.57,332.09 L940.12,332.03 L941.66,331.97 L943.21,331.92 L944.75,331.86 L946.30,331.80 L947.84,331.75 L949.39,331.69 L950.93,331.64 L952.48,331.58 L954.02,331.53 L955.57,331.48 L957.11,331.42 L958.66,331.37 L960.20,331.33 L961.75,331.28 L963.29,331.23 L964.84,331.19 L966.38,331.14 L967.93,331.10 L969.47,331.05 L971.02,331.01 L972.56,330.96 L974.11,330.91 L975.65,330.87 L977.20,330.82 L978.74,330.77 L980.29,330.73 L981.83,330.67 L983.38,330.62 L984.92,330.57 L986.47,330.51 L988.01,330.46 L989.56,330.40 L991.10,330.34 L992.65,330.29 L994.19,330.23 L995.74,330.17 L997.28,330.11 L998.83,330.05 L1000.37,329.99 L1001.92,329.92 L1003.46,329.86 L1005.01,329.79 L1006.55,329.72 L1008.10,329.65 L1009.64,329.57 L1011.19,329.50 L1012.73,329.42 L1014.28,329.33 L1015.82,329.24 L1017.37,329.15 L1018.91,329.05 L1020.46,328.95 L1022.00,328.84 L1023.55,328.71 L1025.09,328.58 L1026.64,328.43 L1028.18,328.27 L1029.73,328.10 L1031.27,327.93 L1032.82,327.75 L1034.36,327.57 L1035.91,327.38 L1037.45,327.20 L1039.00,327.01 L1040.54,326.83 L1042.09,326.64 L1043.63,326.46 L1045.18,326.27 L1046.72,326.08 L1048.27,325.89 L1049.81,325.70 L1051.36,325.49 L1052.90,325.29 L1054.45,325.07 L1055.99,324.85 L1057.54,324.62 L1059.08,324.37 L1060.63,324.12 L1062.17,323.85 L1063.72,323.57 L1065.26,323.28 L1066.81,322.96 L1068.35,322.60 L1069.90,322.21 L1071.44,321.78 L1072.99,321.32 L1074.53,320.84 L1076.08,320.34 L1077.62,319.82 L1079.17,319.29 L1080.71,318.76 L1082.26,318.22 L1083.80,317.68 L1085.35,317.15 L1086.89,316.63 L1088.44,316.12 L1089.98,315.61 L1091.53,315.11 L1093.07,314.61 L1094.62,314.10 L1096.16,313.58 L1097.71,313.05 L1099.25,312.49 L1100.80,311.91 L1102.34,311.30 L1103.89,310.66 L1105.43,309.98 L1106.98,309.25 L1108.52,308.46 L1110.07,307.62 L1111.61,306.75 L1113.16,305.83 L1114.70,304.89 L1116.25,303.92 L1117.79,302.93 L1119.34,301.92 L1120.88,300.88 L1122.43,299.80 L1123.97,298.69 L1125.52,297.55 L1127.06,296.37 L1128.61,295.15 L1130.15,293.90 L1131.70,292.62 L1133.24,291.31 L1134.79,289.96 L1136.33,288.58 L1137.88,287.14 L1139.42,285.66 L1140.97,284.14 L1142.51,282.58 L1144.06,280.98 L1145.60,279.34 L1147.15,277.66 L1148.69,275.95 L1150.24,274.21 L1151.78,272.42 L1153.33,270.58 L1154.87,268.68 L1156.42,266.74 L1157.96,264.74 L1159.51,262.68 L1161.05,260.58 L1162.60,258.44 L1164.14,256.24 L1165.69,253.95 L1167.23,251.57 L1168.78,249.13 L1170.32,246.63 L1171.87,244.11 L1173.41,241.57 L1174.96,239.04 L1176.50,236.50 L1178.05,233.93 L1179.59,231.31 L1181.14,228.63 L1182.68,225.86 L1184.23,223.00 L1185.77,220.05 L1187.32,217.01 L1188.86,213.89 L1190.41,210.69 L1191.95,207.42" fill="none" stroke="#f2b878" stroke-width="2.6"/>
<path d="M791.80,369.50 L793.34,368.82 L794.89,367.80 L796.43,366.53 L797.98,365.07 L799.52,363.32 L801.07,361.03 L802.61,358.40 L804.16,355.68 L805.70,352.92 L807.25,349.73 L808.79,347.04 L810.34,345.58 L811.88,344.55 L813.43,343.77 L814.97,343.15 L816.52,342.63 L818.06,342.17 L819.61,341.77 L821.15,341.42 L822.70,341.10 L824.24,340.81 L825.79,340.52 L827.33,340.25 L828.88,339.99 L830.42,339.74 L831.97,339.49 L833.51,339.25 L835.06,339.03 L836.60,338.80 L838.15,338.59 L839.69,338.39 L841.24,338.19 L842.78,337.99 L844.33,337.81 L845.87,337.63 L847.42,337.45 L848.96,337.28 L850.51,337.12 L852.05,336.96 L853.60,336.80 L855.14,336.65 L856.69,336.50 L858.23,336.36 L859.78,336.22 L861.32,336.08 L862.87,335.94 L864.41,335.81 L865.96,335.68 L867.50,335.56 L869.05,335.43 L870.59,335.32 L872.14,335.20 L873.68,335.09 L875.23,334.98 L876.77,334.87 L878.32,334.76 L879.86,334.66 L881.41,334.56 L882.95,334.47 L884.50,334.38 L886.04,334.29 L887.59,334.20 L889.13,334.11 L890.68,334.03 L892.22,333.95 L893.77,333.88 L895.31,333.80 L896.86,333.73 L898.40,333.66 L899.95,333.60 L901.49,333.53 L903.04,333.47 L904.58,333.40 L906.13,333.34 L907.67,333.28 L909.22,333.22 L910.76,333.16 L912.31,333.11 L913.85,333.05 L915.40,332.99 L916.94,332.93 L918.49,332.87 L920.03,332.81 L921.58,332.75 L923.12,332.69 L924.67,332.63 L926.21,332.57 L927.76,332.51 L929.30,332.45 L930.85,332.39 L932.39,332.33 L933.94,332.27 L935.48,332.21 L937.03,332.15 L938.57,332.09 L940.12,332.03 L941.66,331.97 L943.21,331.92 L944.75,331.86 L946.30,331.80 L947.84,331.75 L949.39,331.69 L950.93,331.64 L952.48,331.58 L954.02,331.53 L955.57,331.48 L957.11,331.42 L958.66,331.37 L960.20,331.33 L961.75,331.28 L963.29,331.23 L964.84,331.19 L966.38,331.14 L967.93,331.10 L969.47,331.05 L971.02,331.01 L972.56,330.96 L974.11,330.91 L975.65,330.87 L977.20,330.82 L978.74,330.77 L980.29,330.73 L981.83,330.67 L983.38,330.62 L984.92,330.57 L986.47,330.51 L988.01,330.46 L989.56,330.40 L991.10,330.34 L992.65,330.29 L994.19,330.23 L995.74,330.17 L997.28,330.11 L998.83,330.05 L1000.37,329.99 L1001.92,329.92 L1003.46,329.86 L1005.01,329.79 L1006.55,329.72 L1008.10,329.65 L1009.64,329.57 L1011.19,329.50 L1012.73,329.42 L1014.28,329.33 L1015.82,329.24 L1017.37,329.15 L1018.91,329.05 L1020.46,328.95 L1022.00,328.84 L1023.55,328.71 L1025.09,328.58 L1026.64,328.43 L1028.18,328.27 L1029.73,328.10 L1031.27,327.93 L1032.82,327.75 L1034.36,327.57 L1035.91,327.38 L1037.45,327.20 L1039.00,327.01 L1040.54,326.83 L1042.09,326.64 L1043.63,326.46 L1045.18,326.27 L1046.72,326.08 L1048.27,325.89 L1049.81,325.70 L1051.36,325.49 L1052.90,325.29 L1054.45,325.07 L1055.99,324.85 L1057.54,324.62 L1059.08,324.37 L1060.63,324.12 L1062.17,323.85 L1063.72,323.57 L1065.26,323.28 L1066.81,322.96 L1068.35,322.60 L1069.90,322.21 L1071.44,321.78 L1072.99,321.32 L1074.53,320.84 L1076.08,320.34 L1077.62,319.82 L1079.17,319.29 L1080.71,318.76 L1082.26,318.22 L1083.80,317.68 L1085.35,317.15 L1086.89,316.63 L1088.44,316.12 L1089.98,315.61 L1091.53,315.11 L1093.07,314.61 L1094.62,314.10 L1096.16,313.58 L1097.71,313.05 L1099.25,312.49 L1100.80,311.91 L1102.34,311.30 L1103.89,310.66 L1105.43,309.98 L1106.98,309.25 L1108.52,308.46 L1110.07,307.62 L1111.61,306.75 L1113.16,305.83 L1114.70,304.89 L1116.25,303.92 L1117.79,302.93 L1119.34,301.92 L1120.88,300.88 L1122.43,299.80 L1123.97,298.69 L1125.52,297.55 L1127.06,296.37 L1128.61,295.15 L1130.15,293.90 L1131.70,292.62 L1133.24,291.31 L1134.79,289.96 L1136.33,288.58 L1137.88,287.14 L1139.42,285.66 L1140.97,284.14 L1142.51,282.58 L1144.06,280.98 L1145.60,279.34 L1147.15,277.66 L1148.69,275.95 L1150.24,274.21 L1151.78,272.42 L1153.33,270.58 L1154.87,268.68 L1156.42,266.74 L1157.96,264.74 L1159.51,262.68 L1161.05,260.58 L1162.60,258.44 L1164.14,256.24 L1165.69,253.95 L1167.23,251.57 L1168.78,249.13 L1170.32,246.63 L1171.87,244.11 L1173.41,241.57 L1174.96,239.04 L1176.50,236.50 L1178.05,233.93 L1179.59,231.31 L1181.14,228.63 L1182.68,225.86 L1184.23,223.00 L1185.77,220.05 L1187.32,217.01 L1188.86,213.89 L1190.41,210.69 L1191.95,207.42" fill="none" stroke="#1e1a16" stroke-width="1.3"/>
<path d="M791.80,367.46 L793.37,366.08 L794.93,364.23 L796.50,362.01 L798.06,359.51 L799.63,356.59 L801.20,352.99 L802.76,348.93 L804.33,344.63 L805.90,339.86 L807.46,334.15 L809.03,329.33 L810.59,326.80 L812.16,325.07 L813.73,323.76 L815.29,322.75 L816.86,321.90 L818.42,321.17 L819.99,320.53 L821.56,319.93 L823.12,319.36 L824.69,318.79 L826.26,318.28 L827.82,317.78 L829.39,317.30 L830.95,316.84 L832.52,316.40 L834.09,315.97 L835.65,315.56 L837.22,315.16 L838.78,314.78 L840.35,314.42 L841.92,314.07 L843.48,313.73 L845.05,313.39 L846.62,313.07 L848.18,312.76 L849.75,312.46 L851.31,312.17 L852.88,311.90 L854.45,311.65 L856.01,311.41 L857.58,311.20 L859.14,310.99 L860.71,310.79 L862.28,310.59 L863.84,310.40 L865.41,310.21 L866.98,310.03 L868.54,309.85 L870.11,309.68 L871.67,309.51 L873.24,309.35 L874.81,309.20 L876.37,309.05 L877.94,308.90 L879.50,308.76 L881.07,308.63 L882.64,308.50 L884.20,308.38 L885.77,308.27 L887.34,308.16 L888.90,308.05 L890.47,307.95 L892.03,307.86 L893.60,307.77 L895.17,307.68 L896.73,307.59 L898.30,307.51 L899.86,307.43 L901.43,307.35 L903.00,307.27 L904.56,307.20 L906.13,307.13 L907.70,307.06 L909.26,306.99 L910.83,306.93 L912.39,306.87 L913.96,306.81 L915.53,306.75 L917.09,306.69 L918.66,306.63 L920.22,306.58 L921.79,306.52 L923.36,306.47 L924.92,306.42 L926.49,306.37 L928.06,306.32 L929.62,306.28 L931.19,306.24 L932.75,306.20 L934.32,306.16 L935.89,306.12 L937.45,306.08 L939.02,306.04 L940.58,306.00 L942.15,305.96 L943.72,305.92 L945.28,305.89 L946.85,305.85 L948.42,305.80 L949.98,305.76 L951.55,305.72 L953.11,305.67 L954.68,305.63 L956.25,305.58 L957.81,305.53 L959.38,305.49 L960.94,305.44 L962.51,305.40 L964.08,305.35 L965.64,305.31 L967.21,305.26 L968.77,305.22 L970.34,305.17 L971.91,305.12 L973.47,305.07 L975.04,305.01 L976.61,304.96 L978.17,304.90 L979.74,304.83 L981.30,304.77 L982.87,304.70 L984.44,304.62 L986.00,304.54 L987.57,304.46 L989.13,304.34 L990.70,304.22 L992.27,304.07 L993.83,303.92 L995.40,303.75 L996.97,303.57 L998.53,303.38 L1000.10,303.17 L1001.66,302.96 L1003.23,302.74 L1004.80,302.51 L1006.36,302.27 L1007.93,302.03 L1009.49,301.78 L1011.06,301.53 L1012.63,301.28 L1014.19,301.02 L1015.76,300.76 L1017.33,300.49 L1018.89,300.23 L1020.46,299.96 L1022.02,299.64 L1023.59,299.32 L1025.16,298.99 L1026.72,298.65 L1028.29,298.31 L1029.85,297.95 L1031.42,297.59 L1032.99,297.23 L1034.55,296.85 L1036.12,296.47 L1037.69,296.07 L1039.25,295.67 L1040.82,295.26 L1042.38,294.84 L1043.95,294.42 L1045.52,293.98 L1047.08,293.53 L1048.65,293.08 L1050.21,292.61 L1051.78,292.14 L1053.35,291.63 L1054.91,291.08 L1056.48,290.53 L1058.05,289.96 L1059.61,289.37 L1061.18,288.77 L1062.74,288.16 L1064.31,287.53 L1065.88,286.89 L1067.44,286.23 L1069.01,285.55 L1070.57,284.85 L1072.14,284.13 L1073.71,283.39 L1075.27,282.63 L1076.84,281.84 L1078.41,281.04 L1079.97,280.21 L1081.54,279.36 L1083.10,278.48 L1084.67,277.57 L1086.24,276.59 L1087.80,275.49 L1089.37,274.31 L1090.93,273.06 L1092.50,271.74 L1094.07,270.36 L1095.63,268.93 L1097.20,267.46 L1098.77,265.96 L1100.33,264.43 L1101.90,262.89 L1103.46,261.34 L1105.03,259.80 L1106.60,258.23 L1108.16,256.64 L1109.73,255.00 L1111.29,253.31 L1112.86,251.57 L1114.43,249.77 L1115.99,247.90 L1117.56,245.96 L1119.13,243.92 L1120.69,241.75 L1122.26,239.47 L1123.82,237.09 L1125.39,234.65 L1126.96,232.16 L1128.52,229.65 L1130.09,227.13 L1131.65,224.63 L1133.22,222.13 L1134.79,219.62 L1136.35,217.09 L1137.92,214.53 L1139.49,211.93 L1141.05,209.29 L1142.62,206.59 L1144.18,203.82 L1145.75,200.97 L1147.32,198.04 L1148.88,194.99 L1150.45,191.80 L1152.01,188.43 L1153.58,184.97 L1155.15,181.45 L1156.71,177.89 L1158.28,174.31 L1159.85,170.74 L1161.41,167.20 L1162.98,163.66 L1164.54,160.10 L1166.11,156.52 L1167.68,152.92 L1169.24,149.29 L1170.81,145.63 L1172.37,141.93 L1173.94,138.20 L1175.51,134.41 L1177.07,130.51 L1178.64,126.42 L1180.21,122.30 L1181.77,118.14 L1183.34,113.95 L1184.90,109.72 L1186.47,105.46 L1188.04,101.16 L1189.60,96.82 L1191.17,92.45 L1192.73,88.04 L1194.30,83.59 L1195.87,79.11 L1197.43,74.63 L1197.43,120.25 L1195.87,123.98 L1194.30,127.64 L1192.73,131.26 L1191.17,134.85 L1189.60,138.40 L1188.04,141.91 L1186.47,145.39 L1184.90,148.83 L1183.34,152.24 L1181.77,155.61 L1180.21,158.94 L1178.64,162.24 L1177.07,165.51 L1175.51,168.84 L1173.94,172.17 L1172.37,175.46 L1170.81,178.71 L1169.24,181.92 L1167.68,185.10 L1166.11,188.25 L1164.54,191.38 L1162.98,194.48 L1161.41,197.58 L1159.85,200.67 L1158.28,203.79 L1156.71,206.92 L1155.15,210.03 L1153.58,213.10 L1152.01,216.11 L1150.45,219.04 L1148.88,221.93 L1147.32,224.69 L1145.75,227.32 L1144.18,229.87 L1142.62,232.35 L1141.05,234.76 L1139.49,237.11 L1137.92,239.41 L1136.35,241.68 L1134.79,243.91 L1133.22,246.13 L1131.65,248.33 L1130.09,250.54 L1128.52,252.76 L1126.96,254.98 L1125.39,257.18 L1123.82,259.32 L1122.26,261.40 L1120.69,263.39 L1119.13,265.27 L1117.56,267.00 L1115.99,268.60 L1114.43,270.13 L1112.86,271.59 L1111.29,272.98 L1109.73,274.32 L1108.16,275.62 L1106.60,276.87 L1105.03,278.09 L1103.46,279.30 L1101.90,280.50 L1100.33,281.70 L1098.77,282.88 L1097.20,284.04 L1095.63,285.17 L1094.07,286.25 L1092.50,287.29 L1090.93,288.26 L1089.37,289.18 L1087.80,290.01 L1086.24,290.76 L1084.67,291.45 L1083.10,292.15 L1081.54,292.81 L1079.97,293.45 L1078.41,294.07 L1076.84,294.66 L1075.27,295.23 L1073.71,295.78 L1072.14,296.31 L1070.57,296.81 L1069.01,297.30 L1067.44,297.77 L1065.88,298.22 L1064.31,298.65 L1062.74,299.07 L1061.18,299.47 L1059.61,299.85 L1058.05,300.22 L1056.48,300.58 L1054.91,300.92 L1053.35,301.26 L1051.78,301.60 L1050.21,301.94 L1048.65,302.28 L1047.08,302.60 L1045.52,302.92 L1043.95,303.22 L1042.38,303.52 L1040.82,303.81 L1039.25,304.09 L1037.69,304.36 L1036.12,304.62 L1034.55,304.87 L1032.99,305.12 L1031.42,305.35 L1029.85,305.58 L1028.29,305.80 L1026.72,306.02 L1025.16,306.22 L1023.59,306.42 L1022.02,306.62 L1020.46,306.80 L1018.89,307.02 L1017.33,307.25 L1015.76,307.48 L1014.19,307.70 L1012.63,307.93 L1011.06,308.15 L1009.49,308.37 L1007.93,308.59 L1006.36,308.80 L1004.80,309.00 L1003.23,309.20 L1001.66,309.39 L1000.10,309.57 L998.53,309.74 L996.97,309.90 L995.40,310.04 L993.83,310.18 L992.27,310.30 L990.70,310.41 L989.13,310.51 L987.57,310.59 L986.00,310.67 L984.44,310.75 L982.87,310.83 L981.30,310.90 L979.74,310.96 L978.17,311.03 L976.61,311.09 L975.04,311.14 L973.47,311.20 L971.91,311.25 L970.34,311.30 L968.77,311.35 L967.21,311.39 L965.64,311.44 L964.08,311.48 L962.51,311.53 L960.94,311.57 L959.38,311.62 L957.81,311.66 L956.25,311.71 L954.68,311.76 L953.11,311.80 L951.55,311.85 L949.98,311.89 L948.42,311.93 L946.85,311.97 L945.28,312.01 L943.72,312.05 L942.15,312.09 L940.58,312.13 L939.02,312.17 L937.45,312.21 L935.89,312.25 L934.32,312.29 L932.75,312.33 L931.19,312.37 L929.62,312.41 L928.06,312.45 L926.49,312.50 L924.92,312.55 L923.36,312.60 L921.79,312.65 L920.22,312.71 L918.66,312.76 L917.09,312.82 L915.53,312.88 L913.96,312.94 L912.39,313.00 L910.83,313.06 L909.26,313.12 L907.70,313.19 L906.13,313.26 L904.56,313.33 L903.00,313.40 L901.43,313.48 L899.86,313.56 L898.30,313.64 L896.73,313.72 L895.17,313.81 L893.60,313.89 L892.03,313.99 L890.47,314.08 L888.90,314.18 L887.34,314.29 L885.77,314.40 L884.20,314.51 L882.64,314.63 L881.07,314.76 L879.50,314.89 L877.94,315.03 L876.37,315.18 L874.81,315.33 L873.24,315.48 L871.67,315.64 L870.11,315.81 L868.54,315.98 L866.98,316.16 L865.41,316.34 L863.84,316.53 L862.28,316.72 L860.71,316.92 L859.14,317.12 L857.58,317.33 L856.01,317.54 L854.45,317.78 L852.88,318.03 L851.31,318.30 L849.75,318.59 L848.18,318.88 L846.62,319.20 L845.05,319.52 L843.48,319.86 L841.92,320.20 L840.35,320.55 L838.78,320.91 L837.22,321.29 L835.65,321.69 L834.09,322.10 L832.52,322.53 L830.95,322.97 L829.39,323.43 L827.82,323.91 L826.26,324.41 L824.69,324.92 L823.12,325.41 L821.56,325.88 L819.99,326.38 L818.42,326.93 L816.86,327.56 L815.29,328.31 L813.73,329.22 L812.16,330.43 L810.59,332.06 L809.03,334.50 L807.46,339.22 L805.90,344.83 L804.33,349.50 L802.76,353.70 L801.20,357.67 L799.63,361.17 L798.06,363.99 L796.50,366.39 L794.93,368.51 L793.37,370.26 L791.80,371.54 Z" fill="#ee2a1c" stroke="none"/>
<path d="M791.80,369.50 L793.37,368.17 L794.93,366.37 L796.50,364.20 L798.06,361.75 L799.63,358.88 L801.20,355.33 L802.76,351.31 L804.33,347.07 L805.90,342.35 L807.46,336.68 L809.03,331.91 L810.59,329.43 L812.16,327.75 L813.73,326.49 L815.29,325.53 L816.86,324.73 L818.42,324.05 L819.99,323.45 L821.56,322.91 L823.12,322.38 L824.69,321.86 L826.26,321.34 L827.82,320.85 L829.39,320.37 L830.95,319.91 L832.52,319.46 L834.09,319.04 L835.65,318.62 L837.22,318.23 L838.78,317.85 L840.35,317.48 L841.92,317.13 L843.48,316.79 L845.05,316.46 L846.62,316.13 L848.18,315.82 L849.75,315.52 L851.31,315.24 L852.88,314.97 L854.45,314.71 L856.01,314.48 L857.58,314.26 L859.14,314.06 L860.71,313.85 L862.28,313.66 L863.84,313.46 L865.41,313.28 L866.98,313.09 L868.54,312.92 L870.11,312.74 L871.67,312.58 L873.24,312.42 L874.81,312.26 L876.37,312.11 L877.94,311.97 L879.50,311.83 L881.07,311.70 L882.64,311.57 L884.20,311.45 L885.77,311.33 L887.34,311.22 L888.90,311.12 L890.47,311.02 L892.03,310.92 L893.60,310.83 L895.17,310.74 L896.73,310.65 L898.30,310.57 L899.86,310.49 L901.43,310.41 L903.00,310.34 L904.56,310.27 L906.13,310.19 L907.70,310.13 L909.26,310.06 L910.83,309.99 L912.39,309.93 L913.96,309.87 L915.53,309.81 L917.09,309.75 L918.66,309.70 L920.22,309.64 L921.79,309.59 L923.36,309.53 L924.92,309.48 L926.49,309.44 L928.06,309.39 L929.62,309.35 L931.19,309.30 L932.75,309.26 L934.32,309.22 L935.89,309.18 L937.45,309.14 L939.02,309.10 L940.58,309.07 L942.15,309.03 L943.72,308.99 L945.28,308.95 L946.85,308.91 L948.42,308.87 L949.98,308.83 L951.55,308.78 L953.11,308.74 L954.68,308.69 L956.25,308.64 L957.81,308.60 L959.38,308.55 L960.94,308.51 L962.51,308.46 L964.08,308.42 L965.64,308.37 L967.21,308.33 L968.77,308.28 L970.34,308.23 L971.91,308.18 L973.47,308.13 L975.04,308.08 L976.61,308.02 L978.17,307.96 L979.74,307.90 L981.30,307.83 L982.87,307.76 L984.44,307.69 L986.00,307.61 L987.57,307.52 L989.13,307.43 L990.70,307.31 L992.27,307.19 L993.83,307.05 L995.40,306.90 L996.97,306.73 L998.53,306.56 L1000.10,306.37 L1001.66,306.17 L1003.23,305.97 L1004.80,305.76 L1006.36,305.54 L1007.93,305.31 L1009.49,305.08 L1011.06,304.84 L1012.63,304.60 L1014.19,304.36 L1015.76,304.12 L1017.33,303.87 L1018.89,303.62 L1020.46,303.38 L1022.02,303.13 L1023.59,302.87 L1025.16,302.61 L1026.72,302.33 L1028.29,302.06 L1029.85,301.77 L1031.42,301.47 L1032.99,301.17 L1034.55,300.86 L1036.12,300.54 L1037.69,300.22 L1039.25,299.88 L1040.82,299.54 L1042.38,299.18 L1043.95,298.82 L1045.52,298.45 L1047.08,298.07 L1048.65,297.68 L1050.21,297.28 L1051.78,296.87 L1053.35,296.45 L1054.91,296.02 L1056.48,295.57 L1058.05,295.12 L1059.61,294.65 L1061.18,294.16 L1062.74,293.67 L1064.31,293.15 L1065.88,292.62 L1067.44,292.07 L1069.01,291.51 L1070.57,290.92 L1072.14,290.32 L1073.71,289.69 L1075.27,289.05 L1076.84,288.38 L1078.41,287.69 L1079.97,286.97 L1081.54,286.23 L1083.10,285.47 L1084.67,284.68 L1086.24,283.85 L1087.80,282.94 L1089.37,281.94 L1090.93,280.86 L1092.50,279.72 L1094.07,278.52 L1095.63,277.27 L1097.20,275.98 L1098.77,274.66 L1100.33,273.32 L1101.90,271.95 L1103.46,270.59 L1105.03,269.22 L1106.60,267.83 L1108.16,266.42 L1109.73,264.96 L1111.29,263.45 L1112.86,261.90 L1114.43,260.27 L1115.99,258.58 L1117.56,256.82 L1119.13,254.95 L1120.69,252.94 L1122.26,250.82 L1123.82,248.61 L1125.39,246.33 L1126.96,244.01 L1128.52,241.65 L1130.09,239.30 L1131.65,236.96 L1133.22,234.63 L1134.79,232.28 L1136.35,229.92 L1137.92,227.52 L1139.49,225.09 L1141.05,222.61 L1142.62,220.07 L1144.18,217.46 L1145.75,214.78 L1147.32,212.01 L1148.88,209.12 L1150.45,206.10 L1152.01,202.97 L1153.58,199.76 L1155.15,196.48 L1156.71,193.16 L1158.28,189.83 L1159.85,186.51 L1161.41,183.22 L1162.98,179.91 L1164.54,176.60 L1166.11,173.27 L1167.68,169.91 L1169.24,166.53 L1170.81,163.12 L1172.37,159.66 L1173.94,156.17 L1175.51,152.63 L1177.07,149.05 L1178.64,145.42 L1180.21,141.76 L1181.77,138.07 L1183.34,134.34 L1184.90,130.57 L1186.47,126.77 L1188.04,122.93 L1189.60,119.06 L1191.17,115.15 L1192.73,111.20 L1194.30,107.22 L1195.87,103.20 L1197.43,99.14" fill="none" stroke="#1a0a08" stroke-width="1.4"/>
<rect x="791.8" y="29.0" width="456.5" height="340.5" fill="none" stroke="#000" stroke-width="2.8"/>
<line x1="784.3" y1="369.5" x2="791.8" y2="369.5" stroke="#000" stroke-width="2.6"/>
<text x="780.3" y="377.2" font-size="23.4" text-anchor="end" textLength="12.3" lengthAdjust="spacingAndGlyphs">0</text>
<line x1="784.3" y1="301.4" x2="791.8" y2="301.4" stroke="#000" stroke-width="2.6"/>
<text x="780.3" y="309.1" font-size="23.4" text-anchor="end" textLength="37.0" lengthAdjust="spacingAndGlyphs">100</text>
<line x1="784.3" y1="233.3" x2="791.8" y2="233.3" stroke="#000" stroke-width="2.6"/>
<text x="780.3" y="241.0" font-size="23.4" text-anchor="end" textLength="37.0" lengthAdjust="spacingAndGlyphs">200</text>
<line x1="784.3" y1="165.2" x2="791.8" y2="165.2" stroke="#000" stroke-width="2.6"/>
<text x="780.3" y="172.9" font-size="23.4" text-anchor="end" textLength="37.0" lengthAdjust="spacingAndGlyphs">300</text>
<line x1="784.3" y1="97.1" x2="791.8" y2="97.1" stroke="#000" stroke-width="2.6"/>
<text x="780.3" y="104.8" font-size="23.4" text-anchor="end" textLength="37.0" lengthAdjust="spacingAndGlyphs">400</text>
<line x1="784.3" y1="29.0" x2="791.8" y2="29.0" stroke="#000" stroke-width="2.6"/>
<text x="780.3" y="36.7" font-size="23.4" text-anchor="end" textLength="37.0" lengthAdjust="spacingAndGlyphs">500</text>
<line x1="787.0" y1="335.4" x2="791.8" y2="335.4" stroke="#000" stroke-width="2.4"/>
<line x1="787.0" y1="267.4" x2="791.8" y2="267.4" stroke="#000" stroke-width="2.4"/>
<line x1="787.0" y1="199.2" x2="791.8" y2="199.2" stroke="#000" stroke-width="2.4"/>
<line x1="787.0" y1="131.1" x2="791.8" y2="131.1" stroke="#000" stroke-width="2.4"/>
<line x1="787.0" y1="63.0" x2="791.8" y2="63.0" stroke="#000" stroke-width="2.4"/>
<line x1="791.8" y1="369.5" x2="791.8" y2="377.0" stroke="#000" stroke-width="2.6"/>
<text x="791.8" y="398.8" font-size="23.4" text-anchor="middle" textLength="30.9" lengthAdjust="spacingAndGlyphs">0.0</text>
<line x1="857.0" y1="369.5" x2="857.0" y2="377.0" stroke="#000" stroke-width="2.6"/>
<text x="857.0" y="398.8" font-size="23.4" text-anchor="middle" textLength="30.9" lengthAdjust="spacingAndGlyphs">0.1</text>
<line x1="922.2" y1="369.5" x2="922.2" y2="377.0" stroke="#000" stroke-width="2.6"/>
<text x="922.2" y="398.8" font-size="23.4" text-anchor="middle" textLength="30.9" lengthAdjust="spacingAndGlyphs">0.2</text>
<line x1="987.4" y1="369.5" x2="987.4" y2="377.0" stroke="#000" stroke-width="2.6"/>
<text x="987.4" y="398.8" font-size="23.4" text-anchor="middle" textLength="30.9" lengthAdjust="spacingAndGlyphs">0.3</text>
<line x1="1052.7" y1="369.5" x2="1052.7" y2="377.0" stroke="#000" stroke-width="2.6"/>
<text x="1052.7" y="398.8" font-size="23.4" text-anchor="middle" textLength="30.9" lengthAdjust="spacingAndGlyphs">0.4</text>
<line x1="1117.9" y1="369.5" x2="1117.9" y2="377.0" stroke="#000" stroke-width="2.6"/>
<text x="1117.9" y="398.8" font-size="23.4" text-anchor="middle" textLength="30.9" lengthAdjust="spacingAndGlyphs">0.5</text>
<line x1="1183.1" y1="369.5" x2="1183.1" y2="377.0" stroke="#000" stroke-width="2.6"/>
<text x="1183.1" y="398.8" font-size="23.4" text-anchor="middle" textLength="30.9" lengthAdjust="spacingAndGlyphs">0.6</text>
<line x1="1248.3" y1="369.5" x2="1248.3" y2="377.0" stroke="#000" stroke-width="2.6"/>
<text x="1248.3" y="398.8" font-size="23.4" text-anchor="middle" textLength="30.9" lengthAdjust="spacingAndGlyphs">0.7</text>
<line x1="824.4" y1="369.5" x2="824.4" y2="374.0" stroke="#000" stroke-width="2.4"/>
<line x1="889.6" y1="369.5" x2="889.6" y2="374.0" stroke="#000" stroke-width="2.4"/>
<line x1="954.8" y1="369.5" x2="954.8" y2="374.0" stroke="#000" stroke-width="2.4"/>
<line x1="1020.0" y1="369.5" x2="1020.0" y2="374.0" stroke="#000" stroke-width="2.4"/>
<line x1="1085.3" y1="369.5" x2="1085.3" y2="374.0" stroke="#000" stroke-width="2.4"/>
<line x1="1150.5" y1="369.5" x2="1150.5" y2="374.0" stroke="#000" stroke-width="2.4"/>
<line x1="1215.7" y1="369.5" x2="1215.7" y2="374.0" stroke="#000" stroke-width="2.4"/>
<text x="1020.0" y="433.1" font-size="22.5" text-anchor="middle" textLength="64.2" lengthAdjust="spacingAndGlyphs">Strain</text>
<text x="727.8" y="221.0" font-size="23" text-anchor="middle" textLength="124.0" lengthAdjust="spacingAndGlyphs" transform="rotate(-90 727.8 221.0)">Stress/MPa</text>
<text x="696.6" y="26.3" font-size="36" textLength="31.8" lengthAdjust="spacingAndGlyphs">(i)</text>
<path d="M1373.80,368.80 L1375.38,368.21 L1376.95,367.59 L1378.53,366.95 L1380.10,366.24 L1381.68,365.43 L1383.26,364.78 L1384.83,364.41 L1386.41,364.12 L1387.99,363.89 L1389.56,363.71 L1391.14,363.58 L1392.71,363.47 L1394.29,363.37 L1395.87,363.28 L1397.44,363.19 L1399.02,363.12 L1400.59,363.06 L1402.17,362.99 L1403.75,362.94 L1405.32,362.88 L1406.90,362.82 L1408.47,362.76 L1410.05,362.71 L1411.63,362.66 L1413.20,362.61 L1414.78,362.56 L1416.36,362.51 L1417.93,362.46 L1419.51,362.42 L1421.08,362.37 L1422.66,362.33 L1424.24,362.29 L1425.81,362.25 L1427.39,362.21 L1428.96,362.17 L1430.54,362.13 L1432.12,362.10 L1433.69,362.06 L1435.27,362.03 L1436.84,361.99 L1438.42,361.96 L1440.00,361.93 L1441.57,361.90 L1443.15,361.86 L1444.73,361.83 L1446.30,361.80 L1447.88,361.77 L1449.45,361.74 L1451.03,361.71 L1452.61,361.69 L1454.18,361.66 L1455.76,361.63 L1457.33,361.60 L1458.91,361.57 L1460.49,361.55 L1462.06,361.52 L1463.64,361.50 L1465.21,361.47 L1466.79,361.44 L1468.37,361.42 L1469.94,361.39 L1471.52,361.37 L1473.10,361.35 L1474.67,361.32 L1476.25,361.30 L1477.82,361.28 L1479.40,361.25 L1480.98,361.23 L1482.55,361.21 L1484.13,361.19 L1485.70,361.16 L1487.28,361.14 L1488.86,361.12 L1490.43,361.10 L1492.01,361.08 L1493.58,361.06 L1495.16,361.04 L1496.74,361.02 L1498.31,361.00 L1499.89,360.98 L1501.47,360.96 L1503.04,360.94 L1504.62,360.92 L1506.19,360.90 L1507.77,360.88 L1509.35,360.86 L1510.92,360.84 L1512.50,360.82 L1514.07,360.80 L1515.65,360.79 L1517.23,360.77 L1518.80,360.75 L1520.38,360.74 L1521.95,360.72 L1523.53,360.71 L1525.11,360.69 L1526.68,360.67 L1528.26,360.66 L1529.84,360.64 L1531.41,360.63 L1532.99,360.61 L1534.56,360.60 L1536.14,360.58 L1537.72,360.57 L1539.29,360.55 L1540.87,360.54 L1542.44,360.52 L1544.02,360.51 L1545.60,360.49 L1547.17,360.48 L1548.75,360.46 L1550.33,360.45 L1551.90,360.43 L1553.48,360.42 L1555.05,360.40 L1556.63,360.38 L1558.21,360.37 L1559.78,360.35 L1561.36,360.33 L1562.93,360.31 L1564.51,360.30 L1566.09,360.28 L1567.66,360.26 L1569.24,360.24 L1570.81,360.22 L1572.39,360.20 L1573.97,360.18 L1575.54,360.16 L1577.12,360.14 L1578.70,360.12 L1580.27,360.10 L1581.85,360.08 L1583.42,360.06 L1585.00,360.04 L1586.58,360.02 L1588.15,360.00 L1589.73,359.97 L1591.30,359.95 L1592.88,359.93 L1594.46,359.91 L1596.03,359.89 L1597.61,359.87 L1599.18,359.84 L1600.76,359.82 L1602.34,359.80 L1603.91,359.77 L1605.49,359.75 L1607.07,359.72 L1608.64,359.70 L1610.22,359.67 L1611.79,359.65 L1613.37,359.62 L1614.95,359.60 L1616.52,359.57 L1618.10,359.54 L1619.67,359.51 L1621.25,359.48 L1622.83,359.45 L1624.40,359.42 L1625.98,359.39 L1627.55,359.36 L1629.13,359.33 L1630.71,359.30 L1632.28,359.26 L1633.86,359.23 L1635.44,359.20 L1637.01,359.16 L1638.59,359.12 L1640.16,359.09 L1641.74,359.05 L1643.32,359.01 L1644.89,358.97 L1646.47,358.93 L1648.04,358.88 L1649.62,358.84 L1651.20,358.80 L1652.77,358.75 L1654.35,358.70 L1655.92,358.66 L1657.50,358.61 L1659.08,358.56 L1660.65,358.51 L1662.23,358.45 L1663.81,358.40 L1665.38,358.34 L1666.96,358.29 L1668.53,358.23 L1670.11,358.17 L1671.69,358.11 L1673.26,358.05 L1674.84,357.99 L1676.41,357.93 L1677.99,357.86 L1679.57,357.80 L1681.14,357.73 L1682.72,357.66 L1684.30,357.59 L1685.87,357.52 L1687.45,357.45 L1689.02,357.38 L1690.60,357.30 L1692.18,357.22 L1693.75,357.15 L1695.33,357.07 L1696.90,356.99 L1698.48,356.91 L1700.06,356.82 L1701.63,356.74 L1703.21,356.65 L1704.78,356.55 L1706.36,356.45 L1707.94,356.34 L1709.51,356.23 L1711.09,356.11 L1712.67,355.99 L1714.24,355.87 L1715.82,355.74 L1717.39,355.60 L1718.97,355.47 L1720.55,355.32 L1722.12,355.18 L1723.70,355.03 L1725.27,354.87 L1726.85,354.72 L1728.43,354.55 L1730.00,354.39 L1731.58,354.22 L1733.15,354.05 L1734.73,353.87 L1736.31,353.67 L1737.88,353.47 L1739.46,353.25 L1741.04,353.02 L1742.61,352.79 L1744.19,352.54 L1745.76,352.30 L1747.34,352.04 L1748.92,351.78 L1750.49,351.53 L1752.07,351.26 L1753.64,351.00 L1755.22,350.75 L1756.80,350.49 L1758.37,350.23 L1759.95,349.97 L1761.52,349.70 L1763.10,349.43 L1764.68,349.16 L1766.25,348.89 L1767.83,348.61 L1769.41,348.33 L1770.98,348.04 L1772.56,347.76 L1774.13,347.47 L1775.71,347.17 L1777.29,346.88 L1778.86,346.58 L1780.44,346.28 L1782.01,345.98" fill="none" stroke="#222a30" stroke-width="1.3"/>
<path d="M1373.80,367.77 L1375.37,366.65 L1376.94,365.31 L1378.51,363.79 L1380.07,361.99 L1381.64,359.69 L1383.21,357.19 L1384.78,354.83 L1386.35,352.95 L1387.92,351.53 L1389.49,350.31 L1391.05,349.22 L1392.62,348.26 L1394.19,347.40 L1395.76,346.61 L1397.33,345.87 L1398.90,345.17 L1400.47,344.54 L1402.03,343.95 L1403.60,343.43 L1405.17,342.98 L1406.74,342.58 L1408.31,342.20 L1409.88,341.85 L1411.45,341.53 L1413.01,341.23 L1414.58,340.97 L1416.15,340.74 L1417.72,340.54 L1419.29,340.36 L1420.86,340.21 L1422.43,340.06 L1423.99,339.93 L1425.56,339.81 L1427.13,339.69 L1428.70,339.59 L1430.27,339.49 L1431.84,339.39 L1433.40,339.30 L1434.97,339.21 L1436.54,339.13 L1438.11,339.04 L1439.68,338.95 L1441.25,338.84 L1442.82,338.74 L1444.38,338.64 L1445.95,338.53 L1447.52,338.43 L1449.09,338.34 L1450.66,338.24 L1452.23,338.14 L1453.80,338.05 L1455.36,337.95 L1456.93,337.86 L1458.50,337.77 L1460.07,337.68 L1461.64,337.59 L1463.21,337.50 L1464.78,337.41 L1466.34,337.32 L1467.91,337.24 L1469.48,337.15 L1471.05,337.07 L1472.62,336.99 L1474.19,336.90 L1475.76,336.82 L1477.32,336.74 L1478.89,336.67 L1480.46,336.59 L1482.03,336.51 L1483.60,336.44 L1485.17,336.36 L1486.74,336.29 L1488.30,336.21 L1489.87,336.14 L1491.44,336.07 L1493.01,336.00 L1494.58,335.93 L1496.15,335.86 L1497.72,335.79 L1499.28,335.73 L1500.85,335.66 L1502.42,335.59 L1503.99,335.53 L1505.56,335.47 L1507.13,335.40 L1508.70,335.34 L1510.26,335.29 L1511.83,335.23 L1513.40,335.17 L1514.97,335.12 L1516.54,335.06 L1518.11,335.01 L1519.68,334.96 L1521.24,334.91 L1522.81,334.86 L1524.38,334.81 L1525.95,334.76 L1527.52,334.71 L1529.09,334.66 L1530.66,334.61 L1532.22,334.57 L1533.79,334.52 L1535.36,334.47 L1536.93,334.43 L1538.50,334.38 L1540.07,334.34 L1541.64,334.29 L1543.20,334.24 L1544.77,334.19 L1546.34,334.15 L1547.91,334.10 L1549.48,334.05 L1551.05,334.00 L1552.61,333.95 L1554.18,333.90 L1555.75,333.85 L1557.32,333.80 L1558.89,333.74 L1560.46,333.69 L1562.03,333.63 L1563.59,333.58 L1565.16,333.52 L1566.73,333.46 L1568.30,333.40 L1569.87,333.34 L1571.44,333.27 L1573.01,333.21 L1574.57,333.14 L1576.14,333.08 L1577.71,333.01 L1579.28,332.94 L1580.85,332.88 L1582.42,332.81 L1583.99,332.73 L1585.55,332.66 L1587.12,332.58 L1588.69,332.51 L1590.26,332.43 L1591.83,332.35 L1593.40,332.26 L1594.97,332.17 L1596.53,332.08 L1598.10,331.99 L1599.67,331.90 L1601.24,331.80 L1602.81,331.69 L1604.38,331.58 L1605.95,331.46 L1607.51,331.34 L1609.08,331.21 L1610.65,331.08 L1612.22,330.94 L1613.79,330.80 L1615.36,330.66 L1616.93,330.51 L1618.49,330.36 L1620.06,330.20 L1621.63,330.05 L1623.20,329.89 L1624.77,329.74 L1626.34,329.58 L1627.91,329.42 L1629.47,329.26 L1631.04,329.10 L1632.61,328.95 L1634.18,328.79 L1635.75,328.62 L1637.32,328.43 L1638.89,328.23 L1640.45,328.04 L1642.02,327.85 L1643.59,327.66 L1645.16,327.46 L1646.73,327.26 L1648.30,327.07 L1649.87,326.87 L1651.43,326.67 L1653.00,326.46 L1654.57,326.26 L1656.14,326.05 L1657.71,325.84 L1659.28,325.63 L1660.84,325.41 L1662.41,325.19 L1663.98,324.97 L1665.55,324.74 L1667.12,324.51 L1668.69,324.27 L1670.26,324.04 L1671.82,323.80 L1673.39,323.57 L1674.96,323.33 L1676.53,323.08 L1678.10,322.84 L1679.67,322.59 L1681.24,322.33 L1682.80,322.07 L1684.37,321.81 L1685.94,321.54 L1687.51,321.26 L1689.08,320.97 L1690.65,320.67 L1692.22,320.37 L1693.78,320.05 L1695.35,319.73 L1696.92,319.39 L1698.49,319.04 L1700.06,318.68 L1701.63,318.22 L1703.20,317.73 L1704.76,317.21 L1706.33,316.66 L1707.90,316.09 L1709.47,315.49 L1711.04,314.88 L1712.61,314.25 L1714.18,313.60 L1715.74,312.95 L1717.31,312.28 L1718.88,311.60 L1720.45,310.92 L1722.02,310.21 L1723.59,309.48 L1725.16,308.72 L1726.72,307.94 L1728.29,307.14 L1729.86,306.31 L1731.43,305.46 L1733.00,304.59 L1734.57,303.70 L1736.14,302.79 L1737.70,301.78 L1739.27,300.65 L1740.84,299.51 L1742.41,298.36 L1743.98,297.18 L1745.55,295.98 L1747.12,294.76 L1748.68,293.52 L1750.25,292.24 L1751.82,290.93 L1753.39,289.59 L1754.96,288.21 L1756.53,286.80 L1758.10,285.34 L1759.66,283.84 L1761.23,282.29 L1762.80,280.38 L1764.37,278.22 L1765.94,275.94 L1767.51,273.56 L1769.07,271.06 L1770.64,268.45 L1772.21,265.71 L1773.78,262.76 L1775.35,259.57 L1776.92,256.16 L1778.49,252.58 L1780.05,248.85 L1780.05,287.92 L1778.49,290.06 L1776.92,292.06 L1775.35,293.88 L1773.78,295.48 L1772.21,296.84 L1770.64,297.99 L1769.07,299.02 L1767.51,299.93 L1765.94,300.73 L1764.37,301.41 L1762.80,301.99 L1761.23,302.65 L1759.66,303.59 L1758.10,304.48 L1756.53,305.33 L1754.96,306.14 L1753.39,306.91 L1751.82,307.65 L1750.25,308.35 L1748.68,309.02 L1747.12,309.66 L1745.55,310.27 L1743.98,310.87 L1742.41,311.43 L1740.84,311.98 L1739.27,312.52 L1737.70,313.04 L1736.14,313.65 L1734.57,314.36 L1733.00,315.04 L1731.43,315.70 L1729.86,316.35 L1728.29,316.97 L1726.72,317.57 L1725.16,318.14 L1723.59,318.69 L1722.02,319.22 L1720.45,319.72 L1718.88,320.20 L1717.31,320.67 L1715.74,321.13 L1714.18,321.58 L1712.61,322.02 L1711.04,322.45 L1709.47,322.85 L1707.90,323.24 L1706.33,323.61 L1704.76,323.95 L1703.20,324.27 L1701.63,324.56 L1700.06,324.83 L1698.49,325.12 L1696.92,325.39 L1695.35,325.66 L1693.78,325.91 L1692.22,326.15 L1690.65,326.38 L1689.08,326.60 L1687.51,326.82 L1685.94,327.02 L1684.37,327.22 L1682.80,327.41 L1681.24,327.60 L1679.67,327.78 L1678.10,327.95 L1676.53,328.13 L1674.96,328.29 L1673.39,328.46 L1671.82,328.62 L1670.26,328.79 L1668.69,328.95 L1667.12,329.11 L1665.55,329.27 L1663.98,329.42 L1662.41,329.57 L1660.84,329.71 L1659.28,329.86 L1657.71,330.00 L1656.14,330.13 L1654.57,330.27 L1653.00,330.40 L1651.43,330.53 L1649.87,330.65 L1648.30,330.78 L1646.73,330.90 L1645.16,331.02 L1643.59,331.14 L1642.02,331.26 L1640.45,331.38 L1638.89,331.50 L1637.32,331.62 L1635.75,331.74 L1634.18,331.87 L1632.61,332.03 L1631.04,332.18 L1629.47,332.34 L1627.91,332.49 L1626.34,332.65 L1624.77,332.80 L1623.20,332.96 L1621.63,333.11 L1620.06,333.26 L1618.49,333.41 L1616.93,333.56 L1615.36,333.71 L1613.79,333.85 L1612.22,333.99 L1610.65,334.12 L1609.08,334.25 L1607.51,334.38 L1605.95,334.50 L1604.38,334.61 L1602.81,334.72 L1601.24,334.82 L1599.67,334.92 L1598.10,335.01 L1596.53,335.10 L1594.97,335.19 L1593.40,335.27 L1591.83,335.35 L1590.26,335.43 L1588.69,335.51 L1587.12,335.58 L1585.55,335.66 L1583.99,335.73 L1582.42,335.80 L1580.85,335.87 L1579.28,335.93 L1577.71,336.00 L1576.14,336.06 L1574.57,336.12 L1573.01,336.19 L1571.44,336.25 L1569.87,336.31 L1568.30,336.37 L1566.73,336.43 L1565.16,336.48 L1563.59,336.54 L1562.03,336.59 L1560.46,336.64 L1558.89,336.70 L1557.32,336.75 L1555.75,336.80 L1554.18,336.84 L1552.61,336.89 L1551.05,336.94 L1549.48,336.99 L1547.91,337.03 L1546.34,337.08 L1544.77,337.12 L1543.20,337.17 L1541.64,337.21 L1540.07,337.25 L1538.50,337.30 L1536.93,337.34 L1535.36,337.38 L1533.79,337.43 L1532.22,337.47 L1530.66,337.52 L1529.09,337.56 L1527.52,337.61 L1525.95,337.65 L1524.38,337.70 L1522.81,337.74 L1521.24,337.79 L1519.68,337.84 L1518.11,337.89 L1516.54,337.94 L1514.97,337.99 L1513.40,338.04 L1511.83,338.10 L1510.26,338.15 L1508.70,338.21 L1507.13,338.27 L1505.56,338.32 L1503.99,338.39 L1502.42,338.45 L1500.85,338.51 L1499.28,338.57 L1497.72,338.64 L1496.15,338.70 L1494.58,338.77 L1493.01,338.84 L1491.44,338.90 L1489.87,338.97 L1488.30,339.04 L1486.74,339.11 L1485.17,339.18 L1483.60,339.25 L1482.03,339.33 L1480.46,339.40 L1478.89,339.48 L1477.32,339.55 L1475.76,339.63 L1474.19,339.71 L1472.62,339.79 L1471.05,339.87 L1469.48,339.95 L1467.91,340.03 L1466.34,340.11 L1464.78,340.20 L1463.21,340.28 L1461.64,340.37 L1460.07,340.45 L1458.50,340.54 L1456.93,340.63 L1455.36,340.72 L1453.80,340.81 L1452.23,340.91 L1450.66,341.00 L1449.09,341.09 L1447.52,341.19 L1445.95,341.29 L1444.38,341.39 L1442.82,341.49 L1441.25,341.59 L1439.68,341.69 L1438.11,341.79 L1436.54,341.88 L1434.97,341.98 L1433.40,342.07 L1431.84,342.17 L1430.27,342.28 L1428.70,342.38 L1427.13,342.50 L1425.56,342.62 L1423.99,342.75 L1422.43,342.89 L1420.86,343.05 L1419.29,343.21 L1417.72,343.39 L1416.15,343.60 L1414.58,343.84 L1413.01,344.11 L1411.45,344.41 L1409.88,344.74 L1408.31,345.10 L1406.74,345.49 L1405.17,345.91 L1403.60,346.38 L1402.03,346.92 L1400.47,347.52 L1398.90,348.18 L1397.33,348.89 L1395.76,349.65 L1394.19,350.46 L1392.62,351.34 L1391.05,352.32 L1389.49,353.43 L1387.92,354.67 L1386.35,356.06 L1384.78,357.81 L1383.21,360.04 L1381.64,362.40 L1380.07,364.57 L1378.51,366.24 L1376.94,367.63 L1375.37,368.84 L1373.80,369.83 Z" fill="#eeaa60" stroke="none"/>
<path d="M1373.80,368.80 L1375.37,367.81 L1376.94,366.59 L1378.51,365.19 L1380.07,363.51 L1381.64,361.33 L1383.21,358.96 L1384.78,356.72 L1386.35,354.96 L1387.92,353.57 L1389.49,352.32 L1391.05,351.21 L1392.62,350.21 L1394.19,349.33 L1395.76,348.51 L1397.33,347.74 L1398.90,347.02 L1400.47,346.35 L1402.03,345.74 L1403.60,345.20 L1405.17,344.71 L1406.74,344.29 L1408.31,343.89 L1409.88,343.53 L1411.45,343.19 L1413.01,342.88 L1414.58,342.60 L1416.15,342.35 L1417.72,342.13 L1419.29,341.94 L1420.86,341.77 L1422.43,341.61 L1423.99,341.46 L1425.56,341.32 L1427.13,341.19 L1428.70,341.07 L1430.27,340.95 L1431.84,340.84 L1433.40,340.73 L1434.97,340.63 L1436.54,340.52 L1438.11,340.42 L1439.68,340.32 L1441.25,340.22 L1442.82,340.12 L1444.38,340.02 L1445.95,339.92 L1447.52,339.82 L1449.09,339.72 L1450.66,339.63 L1452.23,339.54 L1453.80,339.44 L1455.36,339.35 L1456.93,339.26 L1458.50,339.17 L1460.07,339.08 L1461.64,339.00 L1463.21,338.91 L1464.78,338.82 L1466.34,338.74 L1467.91,338.66 L1469.48,338.58 L1471.05,338.50 L1472.62,338.42 L1474.19,338.34 L1475.76,338.26 L1477.32,338.18 L1478.89,338.11 L1480.46,338.03 L1482.03,337.96 L1483.60,337.88 L1485.17,337.81 L1486.74,337.74 L1488.30,337.67 L1489.87,337.60 L1491.44,337.53 L1493.01,337.46 L1494.58,337.40 L1496.15,337.33 L1497.72,337.27 L1499.28,337.20 L1500.85,337.14 L1502.42,337.08 L1503.99,337.01 L1505.56,336.95 L1507.13,336.89 L1508.70,336.84 L1510.26,336.78 L1511.83,336.73 L1513.40,336.67 L1514.97,336.62 L1516.54,336.57 L1518.11,336.52 L1519.68,336.47 L1521.24,336.42 L1522.81,336.37 L1524.38,336.33 L1525.95,336.28 L1527.52,336.23 L1529.09,336.19 L1530.66,336.15 L1532.22,336.10 L1533.79,336.06 L1535.36,336.01 L1536.93,335.97 L1538.50,335.93 L1540.07,335.88 L1541.64,335.84 L1543.20,335.79 L1544.77,335.75 L1546.34,335.71 L1547.91,335.66 L1549.48,335.61 L1551.05,335.57 L1552.61,335.52 L1554.18,335.47 L1555.75,335.43 L1557.32,335.38 L1558.89,335.33 L1560.46,335.27 L1562.03,335.22 L1563.59,335.17 L1565.16,335.11 L1566.73,335.05 L1568.30,335.00 L1569.87,334.94 L1571.44,334.88 L1573.01,334.81 L1574.57,334.75 L1576.14,334.69 L1577.71,334.63 L1579.28,334.56 L1580.85,334.49 L1582.42,334.43 L1583.99,334.36 L1585.55,334.29 L1587.12,334.21 L1588.69,334.14 L1590.26,334.06 L1591.83,333.98 L1593.40,333.90 L1594.97,333.82 L1596.53,333.73 L1598.10,333.64 L1599.67,333.55 L1601.24,333.45 L1602.81,333.35 L1604.38,333.24 L1605.95,333.13 L1607.51,333.01 L1609.08,332.88 L1610.65,332.75 L1612.22,332.62 L1613.79,332.48 L1615.36,332.34 L1616.93,332.19 L1618.49,332.04 L1620.06,331.89 L1621.63,331.74 L1623.20,331.59 L1624.77,331.43 L1626.34,331.28 L1627.91,331.12 L1629.47,330.97 L1631.04,330.81 L1632.61,330.66 L1634.18,330.50 L1635.75,330.35 L1637.32,330.20 L1638.89,330.05 L1640.45,329.90 L1642.02,329.75 L1643.59,329.59 L1645.16,329.44 L1646.73,329.28 L1648.30,329.13 L1649.87,328.97 L1651.43,328.81 L1653.00,328.65 L1654.57,328.49 L1656.14,328.32 L1657.71,328.15 L1659.28,327.98 L1660.84,327.80 L1662.41,327.62 L1663.98,327.44 L1665.55,327.25 L1667.12,327.06 L1668.69,326.87 L1670.26,326.68 L1671.82,326.48 L1673.39,326.28 L1674.96,326.09 L1676.53,325.89 L1678.10,325.68 L1679.67,325.47 L1681.24,325.26 L1682.80,325.04 L1684.37,324.82 L1685.94,324.58 L1687.51,324.35 L1689.08,324.10 L1690.65,323.84 L1692.22,323.58 L1693.78,323.31 L1695.35,323.02 L1696.92,322.72 L1698.49,322.42 L1700.06,322.09 L1701.63,321.75 L1703.20,321.37 L1704.76,320.96 L1706.33,320.53 L1707.90,320.08 L1709.47,319.60 L1711.04,319.11 L1712.61,318.59 L1714.18,318.07 L1715.74,317.53 L1717.31,316.98 L1718.88,316.42 L1720.45,315.85 L1722.02,315.26 L1723.59,314.64 L1725.16,314.01 L1726.72,313.34 L1728.29,312.66 L1729.86,311.95 L1731.43,311.22 L1733.00,310.47 L1734.57,309.69 L1736.14,308.90 L1737.70,308.09 L1739.27,307.27 L1740.84,306.43 L1742.41,305.58 L1743.98,304.71 L1745.55,303.81 L1747.12,302.90 L1748.68,301.95 L1750.25,300.98 L1751.82,299.98 L1753.39,298.94 L1754.96,297.86 L1756.53,296.75 L1758.10,295.60 L1759.66,294.40 L1761.23,293.16 L1762.80,291.85 L1764.37,290.45 L1765.94,288.94 L1767.51,287.32 L1769.07,285.59 L1770.64,283.74 L1772.21,281.76 L1773.78,279.58 L1775.35,277.16 L1776.92,274.51 L1778.49,271.69 L1780.05,268.73" fill="none" stroke="#1e1a16" stroke-width="1.3"/>
<path d="M1373.80,368.80 L1375.37,368.49 L1376.94,367.87 L1378.51,367.04 L1380.07,365.95 L1381.64,364.19 L1383.21,362.07 L1384.78,359.95 L1386.35,358.18 L1387.92,356.68 L1389.49,355.26 L1391.05,353.94 L1392.62,352.75 L1394.19,351.71 L1395.76,350.76 L1397.33,349.84 L1398.90,348.98 L1400.47,348.18 L1402.03,347.47 L1403.60,346.85 L1405.17,346.35 L1406.74,345.96 L1408.31,345.60 L1409.88,345.28 L1411.45,344.99 L1413.01,344.73 L1414.58,344.51 L1416.15,344.32 L1417.72,344.17 L1419.29,344.04 L1420.86,343.93 L1422.43,343.83 L1423.99,343.74 L1425.56,343.65 L1427.13,343.57 L1428.70,343.50 L1430.27,343.43 L1431.84,343.37 L1433.40,343.31 L1434.97,343.25 L1436.54,343.19 L1438.11,343.14 L1439.68,343.08 L1441.25,343.02 L1442.82,342.96 L1444.38,342.91 L1445.95,342.85 L1447.52,342.80 L1449.09,342.74 L1450.66,342.69 L1452.23,342.64 L1453.80,342.59 L1455.36,342.54 L1456.93,342.49 L1458.50,342.44 L1460.07,342.40 L1461.64,342.35 L1463.21,342.31 L1464.78,342.26 L1466.34,342.22 L1467.91,342.17 L1469.48,342.13 L1471.05,342.09 L1472.62,342.04 L1474.19,342.00 L1475.76,341.96 L1477.32,341.92 L1478.89,341.88 L1480.46,341.84 L1482.03,341.80 L1483.60,341.76 L1485.17,341.72 L1486.74,341.68 L1488.30,341.64 L1489.87,341.60 L1491.44,341.57 L1493.01,341.53 L1494.58,341.49 L1496.15,341.45 L1497.72,341.41 L1499.28,341.37 L1500.85,341.34 L1502.42,341.30 L1503.99,341.26 L1505.56,341.22 L1507.13,341.18 L1508.70,341.15 L1510.26,341.11 L1511.83,341.08 L1513.40,341.04 L1514.97,341.01 L1516.54,340.98 L1518.11,340.94 L1519.68,340.91 L1521.24,340.88 L1522.81,340.85 L1524.38,340.82 L1525.95,340.79 L1527.52,340.76 L1529.09,340.73 L1530.66,340.71 L1532.22,340.68 L1533.79,340.65 L1535.36,340.62 L1536.93,340.59 L1538.50,340.56 L1540.07,340.53 L1541.64,340.50 L1543.20,340.47 L1544.77,340.44 L1546.34,340.40 L1547.91,340.37 L1549.48,340.34 L1551.05,340.30 L1552.61,340.27 L1554.18,340.23 L1555.75,340.19 L1557.32,340.16 L1558.89,340.12 L1560.46,340.08 L1562.03,340.03 L1563.59,339.99 L1565.16,339.95 L1566.73,339.90 L1568.30,339.85 L1569.87,339.80 L1571.44,339.75 L1573.01,339.70 L1574.57,339.64 L1576.14,339.58 L1577.71,339.52 L1579.28,339.45 L1580.85,339.39 L1582.42,339.32 L1583.99,339.24 L1585.55,339.17 L1587.12,339.09 L1588.69,339.01 L1590.26,338.92 L1591.83,338.83 L1593.40,338.74 L1594.97,338.65 L1596.53,338.55 L1598.10,338.45 L1599.67,338.35 L1601.24,338.24 L1602.81,338.13 L1604.38,338.00 L1605.95,337.86 L1607.51,337.72 L1609.08,337.57 L1610.65,337.41 L1612.22,337.24 L1613.79,337.07 L1615.36,336.89 L1616.93,336.71 L1618.49,336.52 L1620.06,336.33 L1621.63,336.14 L1623.20,335.95 L1624.77,335.76 L1626.34,335.56 L1627.91,335.37 L1629.47,335.18 L1631.04,334.99 L1632.61,334.81 L1634.18,334.63 L1635.75,334.45 L1637.32,334.28 L1638.89,334.10 L1640.45,333.93 L1642.02,333.75 L1643.59,333.58 L1645.16,333.40 L1646.73,333.23 L1648.30,333.05 L1649.87,332.88 L1651.43,332.70 L1653.00,332.52 L1654.57,332.34 L1656.14,332.16 L1657.71,331.98 L1659.28,331.79 L1660.84,331.60 L1662.41,331.42 L1663.98,331.22 L1665.55,331.03 L1667.12,330.84 L1668.69,330.64 L1670.26,330.44 L1671.82,330.25 L1673.39,330.06 L1674.96,329.88 L1676.53,329.69 L1678.10,329.50 L1679.67,329.31 L1681.24,329.12 L1682.80,328.92 L1684.37,328.72 L1685.94,328.51 L1687.51,328.30 L1689.08,328.07 L1690.65,327.84 L1692.22,327.60 L1693.78,327.35 L1695.35,327.08 L1696.92,326.81 L1698.49,326.52 L1700.06,326.21 L1701.63,325.88 L1703.20,325.51 L1704.76,325.12 L1706.33,324.69 L1707.90,324.24 L1709.47,323.77 L1711.04,323.28 L1712.61,322.76 L1714.18,322.23 L1715.74,321.68 L1717.31,321.12 L1718.88,320.54 L1720.45,319.95 L1722.02,319.33 L1723.59,318.66 L1725.16,317.95 L1726.72,317.21 L1728.29,316.45 L1729.86,315.65 L1731.43,314.84 L1733.00,314.02 L1734.57,313.19 L1736.14,312.35 L1737.70,311.51 L1739.27,310.67 L1740.84,309.82 L1742.41,308.97 L1743.98,308.11 L1745.55,307.23 L1747.12,306.35 L1748.68,305.44 L1750.25,304.51 L1751.82,303.56 L1753.39,302.59 L1754.96,301.59 L1756.53,300.55 L1758.10,299.48 L1759.66,298.38 L1761.23,297.23 L1762.80,296.04 L1764.37,294.79 L1765.94,293.46 L1767.51,292.04 L1769.07,290.54 L1770.64,288.94 L1772.21,287.24 L1773.78,285.38 L1775.35,283.33 L1776.92,281.10 L1778.49,278.74 L1780.05,276.27" fill="none" stroke="#8fcfe6" stroke-width="2.4"/>
<path d="M1373.80,368.80 L1375.37,368.49 L1376.94,367.87 L1378.51,367.04 L1380.07,365.95 L1381.64,364.19 L1383.21,362.07 L1384.78,359.95 L1386.35,358.18 L1387.92,356.68 L1389.49,355.26 L1391.05,353.94 L1392.62,352.75 L1394.19,351.71 L1395.76,350.76 L1397.33,349.84 L1398.90,348.98 L1400.47,348.18 L1402.03,347.47 L1403.60,346.85 L1405.17,346.35 L1406.74,345.96 L1408.31,345.60 L1409.88,345.28 L1411.45,344.99 L1413.01,344.73 L1414.58,344.51 L1416.15,344.32 L1417.72,344.17 L1419.29,344.04 L1420.86,343.93 L1422.43,343.83 L1423.99,343.74 L1425.56,343.65 L1427.13,343.57 L1428.70,343.50 L1430.27,343.43 L1431.84,343.37 L1433.40,343.31 L1434.97,343.25 L1436.54,343.19 L1438.11,343.14 L1439.68,343.08 L1441.25,343.02 L1442.82,342.96 L1444.38,342.91 L1445.95,342.85 L1447.52,342.80 L1449.09,342.74 L1450.66,342.69 L1452.23,342.64 L1453.80,342.59 L1455.36,342.54 L1456.93,342.49 L1458.50,342.44 L1460.07,342.40 L1461.64,342.35 L1463.21,342.31 L1464.78,342.26 L1466.34,342.22 L1467.91,342.17 L1469.48,342.13 L1471.05,342.09 L1472.62,342.04 L1474.19,342.00 L1475.76,341.96 L1477.32,341.92 L1478.89,341.88 L1480.46,341.84 L1482.03,341.80 L1483.60,341.76 L1485.17,341.72 L1486.74,341.68 L1488.30,341.64 L1489.87,341.60 L1491.44,341.57 L1493.01,341.53 L1494.58,341.49 L1496.15,341.45 L1497.72,341.41 L1499.28,341.37 L1500.85,341.34 L1502.42,341.30 L1503.99,341.26 L1505.56,341.22 L1507.13,341.18 L1508.70,341.15 L1510.26,341.11 L1511.83,341.08 L1513.40,341.04 L1514.97,341.01 L1516.54,340.98 L1518.11,340.94 L1519.68,340.91 L1521.24,340.88 L1522.81,340.85 L1524.38,340.82 L1525.95,340.79 L1527.52,340.76 L1529.09,340.73 L1530.66,340.71 L1532.22,340.68 L1533.79,340.65 L1535.36,340.62 L1536.93,340.59 L1538.50,340.56 L1540.07,340.53 L1541.64,340.50 L1543.20,340.47 L1544.77,340.44 L1546.34,340.40 L1547.91,340.37 L1549.48,340.34 L1551.05,340.30 L1552.61,340.27 L1554.18,340.23 L1555.75,340.19 L1557.32,340.16 L1558.89,340.12 L1560.46,340.08 L1562.03,340.03 L1563.59,339.99 L1565.16,339.95 L1566.73,339.90 L1568.30,339.85 L1569.87,339.80 L1571.44,339.75 L1573.01,339.70 L1574.57,339.64 L1576.14,339.58 L1577.71,339.52 L1579.28,339.45 L1580.85,339.39 L1582.42,339.32 L1583.99,339.24 L1585.55,339.17 L1587.12,339.09 L1588.69,339.01 L1590.26,338.92 L1591.83,338.83 L1593.40,338.74 L1594.97,338.65 L1596.53,338.55 L1598.10,338.45 L1599.67,338.35 L1601.24,338.24 L1602.81,338.13 L1604.38,338.00 L1605.95,337.86 L1607.51,337.72 L1609.08,337.57 L1610.65,337.41 L1612.22,337.24 L1613.79,337.07 L1615.36,336.89 L1616.93,336.71 L1618.49,336.52 L1620.06,336.33 L1621.63,336.14 L1623.20,335.95 L1624.77,335.76 L1626.34,335.56 L1627.91,335.37 L1629.47,335.18 L1631.04,334.99 L1632.61,334.81 L1634.18,334.63 L1635.75,334.45 L1637.32,334.28 L1638.89,334.10 L1640.45,333.93 L1642.02,333.75 L1643.59,333.58 L1645.16,333.40 L1646.73,333.23 L1648.30,333.05 L1649.87,332.88 L1651.43,332.70 L1653.00,332.52 L1654.57,332.34 L1656.14,332.16 L1657.71,331.98 L1659.28,331.79 L1660.84,331.60 L1662.41,331.42 L1663.98,331.22 L1665.55,331.03 L1667.12,330.84 L1668.69,330.64 L1670.26,330.44 L1671.82,330.25 L1673.39,330.06 L1674.96,329.88 L1676.53,329.69 L1678.10,329.50 L1679.67,329.31 L1681.24,329.12 L1682.80,328.92 L1684.37,328.72 L1685.94,328.51 L1687.51,328.30 L1689.08,328.07 L1690.65,327.84 L1692.22,327.60 L1693.78,327.35 L1695.35,327.08 L1696.92,326.81 L1698.49,326.52 L1700.06,326.21 L1701.63,325.88 L1703.20,325.51 L1704.76,325.12 L1706.33,324.69 L1707.90,324.24 L1709.47,323.77 L1711.04,323.28 L1712.61,322.76 L1714.18,322.23 L1715.74,321.68 L1717.31,321.12 L1718.88,320.54 L1720.45,319.95 L1722.02,319.33 L1723.59,318.66 L1725.16,317.95 L1726.72,317.21 L1728.29,316.45 L1729.86,315.65 L1731.43,314.84 L1733.00,314.02 L1734.57,313.19 L1736.14,312.35 L1737.70,311.51 L1739.27,310.67 L1740.84,309.82 L1742.41,308.97 L1743.98,308.11 L1745.55,307.23 L1747.12,306.35 L1748.68,305.44 L1750.25,304.51 L1751.82,303.56 L1753.39,302.59 L1754.96,301.59 L1756.53,300.55 L1758.10,299.48 L1759.66,298.38 L1761.23,297.23 L1762.80,296.04 L1764.37,294.79 L1765.94,293.46 L1767.51,292.04 L1769.07,290.54 L1770.64,288.94 L1772.21,287.24 L1773.78,285.38 L1775.35,283.33 L1776.92,281.10 L1778.49,278.74 L1780.05,276.27" fill="none" stroke="#1e2a30" stroke-width="1.3"/>
<path d="M1373.80,368.11 L1375.37,364.38 L1376.94,360.37 L1378.51,356.35 L1380.08,352.15 L1381.66,347.54 L1383.23,343.57 L1384.80,339.63 L1386.37,336.35 L1387.94,334.23 L1389.51,332.38 L1391.08,330.76 L1392.65,329.76 L1394.22,329.04 L1395.80,328.53 L1397.37,328.04 L1398.94,327.42 L1400.51,326.92 L1402.08,326.53 L1403.65,326.09 L1405.22,325.42 L1406.79,324.81 L1408.36,324.27 L1409.93,323.78 L1411.51,323.30 L1413.08,322.82 L1414.65,322.33 L1416.22,321.86 L1417.79,321.41 L1419.36,320.99 L1420.93,320.60 L1422.50,320.24 L1424.07,319.93 L1425.65,319.65 L1427.22,319.42 L1428.79,319.22 L1430.36,319.03 L1431.93,318.86 L1433.50,318.70 L1435.07,318.55 L1436.64,318.42 L1438.21,318.29 L1439.79,318.16 L1441.36,318.02 L1442.93,317.88 L1444.50,317.75 L1446.07,317.61 L1447.64,317.48 L1449.21,317.34 L1450.78,317.19 L1452.35,317.05 L1453.92,316.91 L1455.50,316.77 L1457.07,316.64 L1458.64,316.51 L1460.21,316.37 L1461.78,316.24 L1463.35,316.12 L1464.92,315.99 L1466.49,315.86 L1468.06,315.74 L1469.64,315.61 L1471.21,315.49 L1472.78,315.36 L1474.35,315.24 L1475.92,315.12 L1477.49,314.99 L1479.06,314.87 L1480.63,314.74 L1482.20,314.62 L1483.78,314.50 L1485.35,314.38 L1486.92,314.26 L1488.49,314.14 L1490.06,314.02 L1491.63,313.91 L1493.20,313.79 L1494.77,313.68 L1496.34,313.56 L1497.91,313.45 L1499.49,313.34 L1501.06,313.24 L1502.63,313.13 L1504.20,313.03 L1505.77,312.92 L1507.34,312.83 L1508.91,312.73 L1510.48,312.63 L1512.05,312.53 L1513.63,312.44 L1515.20,312.35 L1516.77,312.26 L1518.34,312.16 L1519.91,312.07 L1521.48,311.99 L1523.05,311.90 L1524.62,311.81 L1526.19,311.72 L1527.77,311.64 L1529.34,311.55 L1530.91,311.46 L1532.48,311.38 L1534.05,311.29 L1535.62,311.21 L1537.19,311.12 L1538.76,311.04 L1540.33,310.96 L1541.90,310.88 L1543.48,310.80 L1545.05,310.72 L1546.62,310.64 L1548.19,310.56 L1549.76,310.49 L1551.33,310.41 L1552.90,310.33 L1554.47,310.26 L1556.04,310.18 L1557.62,310.10 L1559.19,310.02 L1560.76,309.94 L1562.33,309.86 L1563.90,309.78 L1565.47,309.69 L1567.04,309.61 L1568.61,309.52 L1570.18,309.42 L1571.76,309.33 L1573.33,309.24 L1574.90,309.15 L1576.47,309.06 L1578.04,308.97 L1579.61,308.88 L1581.18,308.78 L1582.75,308.69 L1584.32,308.59 L1585.89,308.49 L1587.47,308.38 L1589.04,308.27 L1590.61,308.16 L1592.18,308.04 L1593.75,307.91 L1595.32,307.78 L1596.89,307.64 L1598.46,307.49 L1600.03,307.34 L1601.61,307.17 L1603.18,306.98 L1604.75,306.78 L1606.32,306.55 L1607.89,306.31 L1609.46,306.05 L1611.03,305.77 L1612.60,305.48 L1614.17,305.18 L1615.75,304.87 L1617.32,304.54 L1618.89,304.20 L1620.46,303.85 L1622.03,303.50 L1623.60,303.12 L1625.17,302.72 L1626.74,302.29 L1628.31,301.84 L1629.88,301.37 L1631.46,300.88 L1633.03,300.36 L1634.60,299.83 L1636.17,299.28 L1637.74,298.72 L1639.31,298.13 L1640.88,297.54 L1642.45,296.93 L1644.02,296.32 L1645.60,295.69 L1647.17,295.05 L1648.74,294.41 L1650.31,293.76 L1651.88,293.08 L1653.45,292.38 L1655.02,291.65 L1656.59,290.90 L1658.16,290.12 L1659.74,289.32 L1661.31,288.49 L1662.88,287.65 L1664.45,286.79 L1666.02,285.91 L1667.59,285.02 L1669.16,284.12 L1670.73,283.19 L1672.30,282.25 L1673.88,281.29 L1675.45,280.30 L1677.02,279.29 L1678.59,278.25 L1680.16,277.19 L1681.73,276.09 L1683.30,274.96 L1684.87,273.79 L1686.44,272.59 L1688.01,271.35 L1689.59,270.05 L1691.16,268.71 L1692.73,267.31 L1694.30,265.87 L1695.87,264.39 L1697.44,262.87 L1699.01,261.31 L1700.58,259.72 L1702.15,258.09 L1703.73,256.44 L1705.30,254.76 L1706.87,253.05 L1708.44,251.33 L1710.01,249.59 L1711.58,247.83 L1713.15,246.05 L1714.72,244.23 L1716.29,242.37 L1717.87,240.48 L1719.44,238.55 L1721.01,236.58 L1722.58,234.59 L1724.15,232.55 L1725.72,230.49 L1727.29,228.40 L1728.86,226.28 L1730.43,224.13 L1732.00,221.96 L1733.58,219.76 L1735.15,217.54 L1736.72,215.30 L1738.29,213.04 L1739.86,210.77 L1741.43,208.47 L1743.00,206.15 L1744.57,203.80 L1746.14,201.42 L1747.72,199.00 L1749.29,196.55 L1750.86,194.05 L1752.43,191.50 L1754.00,188.90 L1755.57,186.25 L1757.14,183.54 L1758.71,180.77 L1760.28,177.94 L1761.86,175.03 L1763.43,172.03 L1765.00,168.93 L1766.57,165.73 L1768.14,162.44 L1769.71,159.06 L1771.28,155.60 L1772.85,152.06 L1774.42,148.45 L1775.99,144.77 L1777.57,141.02 L1779.14,137.22 L1780.71,133.37 L1780.71,137.13 L1779.14,140.99 L1777.57,144.78 L1775.99,148.52 L1774.42,152.20 L1772.85,155.81 L1771.28,159.34 L1769.71,162.80 L1768.14,166.17 L1766.57,169.46 L1765.00,172.65 L1763.43,175.75 L1761.86,178.74 L1760.28,181.64 L1758.71,184.48 L1757.14,187.24 L1755.57,189.95 L1754.00,192.59 L1752.43,195.19 L1750.86,197.73 L1749.29,200.22 L1747.72,202.67 L1746.14,205.08 L1744.57,207.46 L1743.00,209.80 L1741.43,212.12 L1739.86,214.41 L1738.29,216.68 L1736.72,218.94 L1735.15,221.17 L1733.58,223.39 L1732.00,225.58 L1730.43,227.75 L1728.86,229.89 L1727.29,232.01 L1725.72,234.10 L1724.15,236.15 L1722.58,238.18 L1721.01,240.17 L1719.44,242.14 L1717.87,244.06 L1716.29,245.95 L1714.72,247.80 L1713.15,249.61 L1711.58,251.39 L1710.01,253.14 L1708.44,254.88 L1706.87,256.60 L1705.30,258.30 L1703.73,259.98 L1702.15,261.63 L1700.58,263.25 L1699.01,264.84 L1697.44,266.39 L1695.87,267.91 L1694.30,269.38 L1692.73,270.82 L1691.16,272.21 L1689.59,273.55 L1688.01,274.84 L1686.44,276.07 L1684.87,277.27 L1683.30,278.43 L1681.73,279.56 L1680.16,280.65 L1678.59,281.71 L1677.02,282.75 L1675.45,283.75 L1673.88,284.74 L1672.30,285.69 L1670.73,286.63 L1669.16,287.55 L1667.59,288.45 L1666.02,289.34 L1664.45,290.21 L1662.88,291.07 L1661.31,291.91 L1659.74,292.72 L1658.16,293.52 L1656.59,294.30 L1655.02,295.05 L1653.45,295.77 L1651.88,296.47 L1650.31,297.13 L1648.74,297.78 L1647.17,298.42 L1645.60,299.05 L1644.02,299.67 L1642.45,300.29 L1640.88,300.89 L1639.31,301.48 L1637.74,302.06 L1636.17,302.62 L1634.60,303.16 L1633.03,303.69 L1631.46,304.20 L1629.88,304.69 L1628.31,305.16 L1626.74,305.60 L1625.17,306.02 L1623.60,306.42 L1622.03,306.79 L1620.46,307.14 L1618.89,307.48 L1617.32,307.82 L1615.75,308.14 L1614.17,308.45 L1612.60,308.75 L1611.03,309.03 L1609.46,309.30 L1607.89,309.56 L1606.32,309.80 L1604.75,310.02 L1603.18,310.22 L1601.61,310.40 L1600.03,310.56 L1598.46,310.71 L1596.89,310.85 L1595.32,310.99 L1593.75,311.12 L1592.18,311.24 L1590.61,311.35 L1589.04,311.46 L1587.47,311.57 L1585.89,311.67 L1584.32,311.77 L1582.75,311.86 L1581.18,311.95 L1579.61,312.04 L1578.04,312.13 L1576.47,312.21 L1574.90,312.30 L1573.33,312.39 L1571.76,312.47 L1570.18,312.56 L1568.61,312.65 L1567.04,312.73 L1565.47,312.82 L1563.90,312.90 L1562.33,312.98 L1560.76,313.05 L1559.19,313.13 L1557.62,313.20 L1556.04,313.27 L1554.47,313.35 L1552.90,313.42 L1551.33,313.49 L1549.76,313.56 L1548.19,313.63 L1546.62,313.71 L1545.05,313.78 L1543.48,313.85 L1541.90,313.93 L1540.33,314.00 L1538.76,314.08 L1537.19,314.16 L1535.62,314.24 L1534.05,314.32 L1532.48,314.40 L1530.91,314.48 L1529.34,314.56 L1527.77,314.64 L1526.19,314.73 L1524.62,314.81 L1523.05,314.89 L1521.48,314.97 L1519.91,315.06 L1518.34,315.14 L1516.77,315.23 L1515.20,315.32 L1513.63,315.41 L1512.05,315.50 L1510.48,315.59 L1508.91,315.68 L1507.34,315.77 L1505.77,315.87 L1504.20,315.96 L1502.63,316.06 L1501.06,316.16 L1499.49,316.27 L1497.91,316.37 L1496.34,316.48 L1494.77,316.58 L1493.20,316.69 L1491.63,316.81 L1490.06,316.92 L1488.49,317.03 L1486.92,317.14 L1485.35,317.26 L1483.78,317.38 L1482.20,317.49 L1480.63,317.61 L1479.06,317.73 L1477.49,317.85 L1475.92,317.97 L1474.35,318.09 L1472.78,318.21 L1471.21,318.33 L1469.64,318.45 L1468.06,318.57 L1466.49,318.69 L1464.92,318.81 L1463.35,318.93 L1461.78,319.05 L1460.21,319.18 L1458.64,319.31 L1457.07,319.44 L1455.50,319.57 L1453.92,319.70 L1452.35,319.83 L1450.78,319.97 L1449.21,320.11 L1447.64,320.24 L1446.07,320.38 L1444.50,320.51 L1442.93,320.63 L1441.36,320.77 L1439.79,320.90 L1438.21,321.06 L1436.64,321.23 L1435.07,321.42 L1433.50,321.62 L1431.93,321.82 L1430.36,322.04 L1428.79,322.28 L1427.22,322.53 L1425.65,322.81 L1424.07,323.13 L1422.50,323.49 L1420.93,323.90 L1419.36,324.35 L1417.79,324.97 L1416.22,325.62 L1414.65,326.29 L1413.08,326.97 L1411.51,327.68 L1409.93,328.42 L1408.36,329.27 L1406.79,330.17 L1405.22,331.13 L1403.65,332.16 L1402.08,333.28 L1400.51,334.50 L1398.94,335.82 L1397.37,337.26 L1395.80,339.03 L1394.22,341.19 L1392.65,343.56 L1391.08,346.30 L1389.51,349.98 L1387.94,353.89 L1386.37,358.08 L1384.80,359.87 L1383.23,361.93 L1381.66,364.01 L1380.08,365.34 L1378.51,366.24 L1376.94,367.02 L1375.37,368.39 L1373.80,369.49 Z" fill="#ee2a1c" stroke="none"/>
<path d="M1373.80,368.80 L1375.37,366.71 L1376.94,364.35 L1378.51,361.76 L1380.08,358.97 L1381.66,355.77 L1383.23,352.04 L1384.80,348.33 L1386.37,345.22 L1387.94,342.68 L1389.51,340.43 L1391.08,338.39 L1392.65,336.50 L1394.22,334.75 L1395.80,333.21 L1397.37,331.93 L1398.94,330.81 L1400.51,329.82 L1402.08,328.94 L1403.65,328.13 L1405.22,327.40 L1406.79,326.74 L1408.36,326.14 L1409.93,325.60 L1411.51,325.06 L1413.08,324.54 L1414.65,324.03 L1416.22,323.53 L1417.79,323.06 L1419.36,322.62 L1420.93,322.21 L1422.50,321.83 L1424.07,321.49 L1425.65,321.20 L1427.22,320.95 L1428.79,320.73 L1430.36,320.52 L1431.93,320.33 L1433.50,320.15 L1435.07,319.98 L1436.64,319.82 L1438.21,319.67 L1439.79,319.53 L1441.36,319.39 L1442.93,319.26 L1444.50,319.12 L1446.07,318.99 L1447.64,318.86 L1449.21,318.72 L1450.78,318.58 L1452.35,318.44 L1453.92,318.30 L1455.50,318.16 L1457.07,318.03 L1458.64,317.90 L1460.21,317.77 L1461.78,317.64 L1463.35,317.51 L1464.92,317.39 L1466.49,317.26 L1468.06,317.14 L1469.64,317.01 L1471.21,316.89 L1472.78,316.77 L1474.35,316.65 L1475.92,316.52 L1477.49,316.40 L1479.06,316.28 L1480.63,316.16 L1482.20,316.04 L1483.78,315.92 L1485.35,315.80 L1486.92,315.68 L1488.49,315.56 L1490.06,315.44 L1491.63,315.33 L1493.20,315.21 L1494.77,315.10 L1496.34,314.99 L1497.91,314.88 L1499.49,314.77 L1501.06,314.67 L1502.63,314.56 L1504.20,314.46 L1505.77,314.36 L1507.34,314.26 L1508.91,314.17 L1510.48,314.07 L1512.05,313.98 L1513.63,313.89 L1515.20,313.79 L1516.77,313.70 L1518.34,313.61 L1519.91,313.53 L1521.48,313.44 L1523.05,313.35 L1524.62,313.27 L1526.19,313.18 L1527.77,313.10 L1529.34,313.01 L1530.91,312.93 L1532.48,312.84 L1534.05,312.76 L1535.62,312.68 L1537.19,312.59 L1538.76,312.51 L1540.33,312.43 L1541.90,312.35 L1543.48,312.27 L1545.05,312.19 L1546.62,312.12 L1548.19,312.04 L1549.76,311.97 L1551.33,311.89 L1552.90,311.82 L1554.47,311.74 L1556.04,311.67 L1557.62,311.59 L1559.19,311.52 L1560.76,311.44 L1562.33,311.36 L1563.90,311.28 L1565.47,311.19 L1567.04,311.11 L1568.61,311.02 L1570.18,310.93 L1571.76,310.84 L1573.33,310.75 L1574.90,310.66 L1576.47,310.57 L1578.04,310.48 L1579.61,310.39 L1581.18,310.30 L1582.75,310.20 L1584.32,310.10 L1585.89,310.00 L1587.47,309.90 L1589.04,309.79 L1590.61,309.68 L1592.18,309.56 L1593.75,309.44 L1595.32,309.31 L1596.89,309.17 L1598.46,309.02 L1600.03,308.87 L1601.61,308.70 L1603.18,308.52 L1604.75,308.31 L1606.32,308.09 L1607.89,307.85 L1609.46,307.59 L1611.03,307.32 L1612.60,307.03 L1614.17,306.73 L1615.75,306.41 L1617.32,306.09 L1618.89,305.75 L1620.46,305.40 L1622.03,305.05 L1623.60,304.68 L1625.17,304.28 L1626.74,303.85 L1628.31,303.40 L1629.88,302.93 L1631.46,302.44 L1633.03,301.93 L1634.60,301.40 L1636.17,300.85 L1637.74,300.29 L1639.31,299.71 L1640.88,299.11 L1642.45,298.51 L1644.02,297.89 L1645.60,297.27 L1647.17,296.63 L1648.74,295.99 L1650.31,295.34 L1651.88,294.67 L1653.45,293.97 L1655.02,293.24 L1656.59,292.49 L1658.16,291.71 L1659.74,290.91 L1661.31,290.09 L1662.88,289.25 L1664.45,288.39 L1666.02,287.51 L1667.59,286.62 L1669.16,285.72 L1670.73,284.80 L1672.30,283.86 L1673.88,282.89 L1675.45,281.91 L1677.02,280.90 L1678.59,279.86 L1680.16,278.80 L1681.73,277.70 L1683.30,276.57 L1684.87,275.41 L1686.44,274.21 L1688.01,272.97 L1689.59,271.67 L1691.16,270.33 L1692.73,268.94 L1694.30,267.50 L1695.87,266.02 L1697.44,264.50 L1699.01,262.94 L1700.58,261.35 L1702.15,259.73 L1703.73,258.08 L1705.30,256.40 L1706.87,254.69 L1708.44,252.97 L1710.01,251.23 L1711.58,249.47 L1713.15,247.69 L1714.72,245.88 L1716.29,244.02 L1717.87,242.13 L1719.44,240.20 L1721.01,238.24 L1722.58,236.24 L1724.15,234.21 L1725.72,232.15 L1727.29,230.06 L1728.86,227.94 L1730.43,225.79 L1732.00,223.62 L1733.58,221.43 L1735.15,219.21 L1736.72,216.97 L1738.29,214.71 L1739.86,212.44 L1741.43,210.14 L1743.00,207.82 L1744.57,205.48 L1746.14,203.10 L1747.72,200.68 L1749.29,198.23 L1750.86,195.73 L1752.43,193.19 L1754.00,190.59 L1755.57,187.94 L1757.14,185.23 L1758.71,182.46 L1760.28,179.63 L1761.86,176.72 L1763.43,173.73 L1765.00,170.63 L1766.57,167.43 L1768.14,164.14 L1769.71,160.77 L1771.28,157.31 L1772.85,153.77 L1774.42,150.16 L1775.99,146.48 L1777.57,142.73 L1779.14,138.93 L1780.71,135.08" fill="none" stroke="#1a0a08" stroke-width="1.4"/>
<rect x="1373.8" y="26.1" width="457.2" height="342.7" fill="none" stroke="#000" stroke-width="2.8"/>
<line x1="1366.3" y1="368.8" x2="1373.8" y2="368.8" stroke="#000" stroke-width="2.6"/>
<text x="1362.3" y="376.5" font-size="23.4" text-anchor="end" textLength="12.3" lengthAdjust="spacingAndGlyphs">0</text>
<line x1="1366.3" y1="300.3" x2="1373.8" y2="300.3" stroke="#000" stroke-width="2.6"/>
<text x="1362.3" y="308.0" font-size="23.4" text-anchor="end" textLength="37.0" lengthAdjust="spacingAndGlyphs">100</text>
<line x1="1366.3" y1="231.7" x2="1373.8" y2="231.7" stroke="#000" stroke-width="2.6"/>
<text x="1362.3" y="239.4" font-size="23.4" text-anchor="end" textLength="37.0" lengthAdjust="spacingAndGlyphs">200</text>
<line x1="1366.3" y1="163.2" x2="1373.8" y2="163.2" stroke="#000" stroke-width="2.6"/>
<text x="1362.3" y="170.9" font-size="23.4" text-anchor="end" textLength="37.0" lengthAdjust="spacingAndGlyphs">300</text>
<line x1="1366.3" y1="94.6" x2="1373.8" y2="94.6" stroke="#000" stroke-width="2.6"/>
<text x="1362.3" y="102.3" font-size="23.4" text-anchor="end" textLength="37.0" lengthAdjust="spacingAndGlyphs">400</text>
<line x1="1366.3" y1="26.1" x2="1373.8" y2="26.1" stroke="#000" stroke-width="2.6"/>
<text x="1362.3" y="33.8" font-size="23.4" text-anchor="end" textLength="37.0" lengthAdjust="spacingAndGlyphs">500</text>
<line x1="1369.0" y1="334.5" x2="1373.8" y2="334.5" stroke="#000" stroke-width="2.4"/>
<line x1="1369.0" y1="266.0" x2="1373.8" y2="266.0" stroke="#000" stroke-width="2.4"/>
<line x1="1369.0" y1="197.5" x2="1373.8" y2="197.5" stroke="#000" stroke-width="2.4"/>
<line x1="1369.0" y1="128.9" x2="1373.8" y2="128.9" stroke="#000" stroke-width="2.4"/>
<line x1="1369.0" y1="60.4" x2="1373.8" y2="60.4" stroke="#000" stroke-width="2.4"/>
<line x1="1373.8" y1="368.8" x2="1373.8" y2="376.3" stroke="#000" stroke-width="2.6"/>
<text x="1373.8" y="398.1" font-size="23.4" text-anchor="middle" textLength="30.9" lengthAdjust="spacingAndGlyphs">0.0</text>
<line x1="1439.1" y1="368.8" x2="1439.1" y2="376.3" stroke="#000" stroke-width="2.6"/>
<text x="1439.1" y="398.1" font-size="23.4" text-anchor="middle" textLength="30.9" lengthAdjust="spacingAndGlyphs">0.1</text>
<line x1="1504.4" y1="368.8" x2="1504.4" y2="376.3" stroke="#000" stroke-width="2.6"/>
<text x="1504.4" y="398.1" font-size="23.4" text-anchor="middle" textLength="30.9" lengthAdjust="spacingAndGlyphs">0.2</text>
<line x1="1569.7" y1="368.8" x2="1569.7" y2="376.3" stroke="#000" stroke-width="2.6"/>
<text x="1569.7" y="398.1" font-size="23.4" text-anchor="middle" textLength="30.9" lengthAdjust="spacingAndGlyphs">0.3</text>
<line x1="1635.1" y1="368.8" x2="1635.1" y2="376.3" stroke="#000" stroke-width="2.6"/>
<text x="1635.1" y="398.1" font-size="23.4" text-anchor="middle" textLength="30.9" lengthAdjust="spacingAndGlyphs">0.4</text>
<line x1="1700.4" y1="368.8" x2="1700.4" y2="376.3" stroke="#000" stroke-width="2.6"/>
<text x="1700.4" y="398.1" font-size="23.4" text-anchor="middle" textLength="30.9" lengthAdjust="spacingAndGlyphs">0.5</text>
<line x1="1765.7" y1="368.8" x2="1765.7" y2="376.3" stroke="#000" stroke-width="2.6"/>
<text x="1765.7" y="398.1" font-size="23.4" text-anchor="middle" textLength="30.9" lengthAdjust="spacingAndGlyphs">0.6</text>
<line x1="1831.0" y1="368.8" x2="1831.0" y2="376.3" stroke="#000" stroke-width="2.6"/>
<text x="1831.0" y="398.1" font-size="23.4" text-anchor="middle" textLength="30.9" lengthAdjust="spacingAndGlyphs">0.7</text>
<line x1="1406.5" y1="368.8" x2="1406.5" y2="373.3" stroke="#000" stroke-width="2.4"/>
<line x1="1471.8" y1="368.8" x2="1471.8" y2="373.3" stroke="#000" stroke-width="2.4"/>
<line x1="1537.1" y1="368.8" x2="1537.1" y2="373.3" stroke="#000" stroke-width="2.4"/>
<line x1="1602.4" y1="368.8" x2="1602.4" y2="373.3" stroke="#000" stroke-width="2.4"/>
<line x1="1667.7" y1="368.8" x2="1667.7" y2="373.3" stroke="#000" stroke-width="2.4"/>
<line x1="1733.0" y1="368.8" x2="1733.0" y2="373.3" stroke="#000" stroke-width="2.4"/>
<line x1="1798.3" y1="368.8" x2="1798.3" y2="373.3" stroke="#000" stroke-width="2.4"/>
<text x="1602.4" y="432.4" font-size="22.5" text-anchor="middle" textLength="64.2" lengthAdjust="spacingAndGlyphs">Strain</text>
<text x="1300.3" y="221.0" font-size="23" text-anchor="middle" textLength="124.0" lengthAdjust="spacingAndGlyphs" transform="rotate(-90 1300.3 221.0)">Stress/MPa</text>
<text x="1260.2" y="26.5" font-size="36" textLength="41.6" lengthAdjust="spacingAndGlyphs">(ii)</text>
<line x1="839.1" y1="54.2" x2="899.4" y2="54.2" stroke="#4aa8e2" stroke-width="2.2"/>
<text x="903.3" y="64.1" font-size="22.5" textLength="46.1" lengthAdjust="spacingAndGlyphs">S0.2</text>
<line x1="839.1" y1="86.5" x2="899.4" y2="86.5" stroke="#f0a860" stroke-width="2.2"/>
<text x="901.5" y="96.3" font-size="22.5" textLength="95.5" lengthAdjust="spacingAndGlyphs">Dense-in</text>
<line x1="839.1" y1="120.1" x2="899.4" y2="120.1" stroke="#9fd6ea" stroke-width="2.2"/>
<text x="901.5" y="129.2" font-size="22.5" textLength="111.4" lengthAdjust="spacingAndGlyphs">Dense-out</text>
<line x1="839.1" y1="155.2" x2="899.4" y2="155.2" stroke="#ee2a1c" stroke-width="3.0"/>
<text x="903.3" y="164.3" font-size="22.5" textLength="46.5" lengthAdjust="spacingAndGlyphs">S0.4</text>
<line x1="1409.5" y1="54.2" x2="1470.2" y2="54.2" stroke="#4aa8e2" stroke-width="2.2"/>
<text x="1474.3" y="62.6" font-size="22.5" textLength="46.1" lengthAdjust="spacingAndGlyphs">S0.2</text>
<line x1="1409.5" y1="86.5" x2="1470.2" y2="86.5" stroke="#f0a860" stroke-width="2.2"/>
<text x="1472.5" y="94.8" font-size="22.5" textLength="95.5" lengthAdjust="spacingAndGlyphs">Dense-in</text>
<line x1="1409.5" y1="120.1" x2="1470.2" y2="120.1" stroke="#9fd6ea" stroke-width="2.2"/>
<text x="1472.5" y="127.7" font-size="22.5" textLength="111.4" lengthAdjust="spacingAndGlyphs">Dense-out</text>
<line x1="1409.5" y1="155.2" x2="1470.2" y2="155.2" stroke="#ee2a1c" stroke-width="3.0"/>
<text x="1474.3" y="162.8" font-size="22.5" textLength="46.5" lengthAdjust="spacingAndGlyphs">S0.4</text>
<rect x="821.0" y="786.7" width="30.8" height="67.0" fill="#58b6f0" stroke="#111" stroke-width="2.2"/>
<rect x="851.8" y="803.5" width="30.8" height="50.2" fill="#ef3220" stroke="#111" stroke-width="2.2"/>
<line x1="836.4" y1="784.8" x2="836.4" y2="788.6" stroke="#222" stroke-width="1.5"/>
<line x1="832.4" y1="784.8" x2="840.4" y2="784.8" stroke="#222" stroke-width="1.5"/>
<line x1="832.4" y1="788.6" x2="840.4" y2="788.6" stroke="#222" stroke-width="1.5"/>
<line x1="867.2" y1="795.1" x2="867.2" y2="811.9" stroke="#222" stroke-width="1.5"/>
<line x1="863.2" y1="795.1" x2="871.2" y2="795.1" stroke="#222" stroke-width="1.5"/>
<line x1="863.2" y1="811.9" x2="871.2" y2="811.9" stroke="#222" stroke-width="1.5"/>
<rect x="936.3" y="649.2" width="30.8" height="204.5" fill="#58b6f0" stroke="#111" stroke-width="2.2"/>
<rect x="967.1" y="694.1" width="30.8" height="159.6" fill="#ef3220" stroke="#111" stroke-width="2.2"/>
<line x1="951.7" y1="639.3" x2="951.7" y2="659.2" stroke="#222" stroke-width="1.5"/>
<line x1="947.7" y1="639.3" x2="955.7" y2="639.3" stroke="#222" stroke-width="1.5"/>
<line x1="947.7" y1="659.2" x2="955.7" y2="659.2" stroke="#222" stroke-width="1.5"/>
<line x1="982.5" y1="675.4" x2="982.5" y2="712.8" stroke="#222" stroke-width="1.5"/>
<line x1="978.5" y1="675.4" x2="986.5" y2="675.4" stroke="#222" stroke-width="1.5"/>
<line x1="978.5" y1="712.8" x2="986.5" y2="712.8" stroke="#222" stroke-width="1.5"/>
<rect x="1051.6" y="663.6" width="30.8" height="190.1" fill="#58b6f0" stroke="#111" stroke-width="2.2"/>
<rect x="1082.4" y="701.6" width="30.8" height="152.1" fill="#ef3220" stroke="#111" stroke-width="2.2"/>
<line x1="1067.0" y1="662.3" x2="1067.0" y2="664.8" stroke="#222" stroke-width="1.5"/>
<line x1="1063.0" y1="662.3" x2="1071.0" y2="662.3" stroke="#222" stroke-width="1.5"/>
<line x1="1063.0" y1="664.8" x2="1071.0" y2="664.8" stroke="#222" stroke-width="1.5"/>
<line x1="1097.8" y1="685.7" x2="1097.8" y2="717.5" stroke="#222" stroke-width="1.5"/>
<line x1="1093.8" y1="685.7" x2="1101.8" y2="685.7" stroke="#222" stroke-width="1.5"/>
<line x1="1093.8" y1="717.5" x2="1101.8" y2="717.5" stroke="#222" stroke-width="1.5"/>
<rect x="1166.9" y="522.7" width="30.8" height="331.0" fill="#58b6f0" stroke="#111" stroke-width="2.2"/>
<rect x="1197.7" y="552.0" width="30.8" height="301.7" fill="#ef3220" stroke="#111" stroke-width="2.2"/>
<line x1="1182.3" y1="517.1" x2="1182.3" y2="528.3" stroke="#222" stroke-width="1.5"/>
<line x1="1178.3" y1="517.1" x2="1186.3" y2="517.1" stroke="#222" stroke-width="1.5"/>
<line x1="1178.3" y1="528.3" x2="1186.3" y2="528.3" stroke="#222" stroke-width="1.5"/>
<line x1="1213.1" y1="520.2" x2="1213.1" y2="583.8" stroke="#222" stroke-width="1.5"/>
<line x1="1209.1" y1="520.2" x2="1217.1" y2="520.2" stroke="#222" stroke-width="1.5"/>
<line x1="1209.1" y1="583.8" x2="1217.1" y2="583.8" stroke="#222" stroke-width="1.5"/>
<rect x="795.2" y="479.7" width="459.1" height="374.0" fill="none" stroke="#000" stroke-width="2.8"/>
<line x1="787.7" y1="853.7" x2="795.2" y2="853.7" stroke="#000" stroke-width="2.6"/>
<text x="781.7" y="860.3" font-size="23.4" text-anchor="end" textLength="12.3" lengthAdjust="spacingAndGlyphs">0</text>
<line x1="790.7" y1="822.5" x2="795.2" y2="822.5" stroke="#000" stroke-width="2.2"/>
<line x1="787.7" y1="791.4" x2="795.2" y2="791.4" stroke="#000" stroke-width="2.6"/>
<text x="781.7" y="798.0" font-size="23.4" text-anchor="end" textLength="24.7" lengthAdjust="spacingAndGlyphs">10</text>
<line x1="790.7" y1="760.2" x2="795.2" y2="760.2" stroke="#000" stroke-width="2.2"/>
<line x1="787.7" y1="729.0" x2="795.2" y2="729.0" stroke="#000" stroke-width="2.6"/>
<text x="781.7" y="735.6" font-size="23.4" text-anchor="end" textLength="24.7" lengthAdjust="spacingAndGlyphs">20</text>
<line x1="790.7" y1="697.9" x2="795.2" y2="697.9" stroke="#000" stroke-width="2.2"/>
<line x1="787.7" y1="666.7" x2="795.2" y2="666.7" stroke="#000" stroke-width="2.6"/>
<text x="781.7" y="673.3" font-size="23.4" text-anchor="end" textLength="24.7" lengthAdjust="spacingAndGlyphs">30</text>
<line x1="790.7" y1="635.5" x2="795.2" y2="635.5" stroke="#000" stroke-width="2.2"/>
<line x1="787.7" y1="604.4" x2="795.2" y2="604.4" stroke="#000" stroke-width="2.6"/>
<text x="781.7" y="611.0" font-size="23.4" text-anchor="end" textLength="24.7" lengthAdjust="spacingAndGlyphs">40</text>
<line x1="790.7" y1="573.2" x2="795.2" y2="573.2" stroke="#000" stroke-width="2.2"/>
<line x1="787.7" y1="542.0" x2="795.2" y2="542.0" stroke="#000" stroke-width="2.6"/>
<text x="781.7" y="548.6" font-size="23.4" text-anchor="end" textLength="24.7" lengthAdjust="spacingAndGlyphs">50</text>
<line x1="790.7" y1="510.9" x2="795.2" y2="510.9" stroke="#000" stroke-width="2.2"/>
<line x1="787.7" y1="479.7" x2="795.2" y2="479.7" stroke="#000" stroke-width="2.6"/>
<text x="781.7" y="486.3" font-size="23.4" text-anchor="end" textLength="24.7" lengthAdjust="spacingAndGlyphs">60</text>
<line x1="851.8" y1="853.7" x2="851.8" y2="861.7" stroke="#000" stroke-width="2.6"/>
<line x1="794.1" y1="853.7" x2="794.1" y2="858.5" stroke="#000" stroke-width="2.4"/>
<line x1="967.1" y1="853.7" x2="967.1" y2="861.7" stroke="#000" stroke-width="2.6"/>
<line x1="909.5" y1="853.7" x2="909.5" y2="858.5" stroke="#000" stroke-width="2.4"/>
<line x1="1082.4" y1="853.7" x2="1082.4" y2="861.7" stroke="#000" stroke-width="2.6"/>
<line x1="1024.8" y1="853.7" x2="1024.8" y2="858.5" stroke="#000" stroke-width="2.4"/>
<line x1="1197.7" y1="853.7" x2="1197.7" y2="861.7" stroke="#000" stroke-width="2.6"/>
<line x1="1140.0" y1="853.7" x2="1140.0" y2="858.5" stroke="#000" stroke-width="2.4"/>
<line x1="1254.3" y1="853.7" x2="1254.3" y2="858.5" stroke="#000" stroke-width="2.4"/>
<text x="737.5" y="652.0" font-size="23" text-anchor="middle" textLength="206.5" lengthAdjust="spacingAndGlyphs" transform="rotate(-90 737.5 652.0)">Yield strength/MPa</text>
<text x="697.6" y="454.7" font-size="34.2" textLength="51.2" lengthAdjust="spacingAndGlyphs">(iii)</text>
<rect x="827.8" y="499.2" width="62.4" height="24.4" fill="#58b6f0" stroke="#3a4a58" stroke-width="1.4"/>
<rect x="827.8" y="534.1" width="62.4" height="24.4" fill="#ef3220" stroke="#4a2a28" stroke-width="1.4"/>
<text x="899.5" y="519.6" font-size="23" textLength="210.0" lengthAdjust="spacingAndGlyphs">Before degradation</text>
<text x="897.6" y="553.7" font-size="23" textLength="191.0" lengthAdjust="spacingAndGlyphs">After degradation</text>
<rect x="1406.6" y="757.2" width="30.8" height="93.6" fill="#58b6f0" stroke="#111" stroke-width="2.2"/>
<rect x="1437.4" y="794.2" width="30.8" height="56.6" fill="#ef3220" stroke="#111" stroke-width="2.2"/>
<line x1="1422.0" y1="748.0" x2="1422.0" y2="766.5" stroke="#222" stroke-width="1.5"/>
<line x1="1418.0" y1="748.0" x2="1426.0" y2="748.0" stroke="#222" stroke-width="1.5"/>
<line x1="1418.0" y1="766.5" x2="1426.0" y2="766.5" stroke="#222" stroke-width="1.5"/>
<line x1="1452.8" y1="786.6" x2="1452.8" y2="801.7" stroke="#222" stroke-width="1.5"/>
<line x1="1448.8" y1="786.6" x2="1456.8" y2="786.6" stroke="#222" stroke-width="1.5"/>
<line x1="1448.8" y1="801.7" x2="1456.8" y2="801.7" stroke="#222" stroke-width="1.5"/>
<rect x="1519.8" y="665.1" width="30.8" height="185.7" fill="#58b6f0" stroke="#111" stroke-width="2.2"/>
<rect x="1550.6" y="736.6" width="30.8" height="114.2" fill="#ef3220" stroke="#111" stroke-width="2.2"/>
<line x1="1535.2" y1="659.9" x2="1535.2" y2="670.4" stroke="#222" stroke-width="1.5"/>
<line x1="1531.2" y1="659.9" x2="1539.2" y2="659.9" stroke="#222" stroke-width="1.5"/>
<line x1="1531.2" y1="670.4" x2="1539.2" y2="670.4" stroke="#222" stroke-width="1.5"/>
<line x1="1566.0" y1="729.7" x2="1566.0" y2="743.4" stroke="#222" stroke-width="1.5"/>
<line x1="1562.0" y1="729.7" x2="1570.0" y2="729.7" stroke="#222" stroke-width="1.5"/>
<line x1="1562.0" y1="743.4" x2="1570.0" y2="743.4" stroke="#222" stroke-width="1.5"/>
<rect x="1633.5" y="666.5" width="30.8" height="184.3" fill="#58b6f0" stroke="#111" stroke-width="2.2"/>
<rect x="1664.3" y="734.8" width="30.8" height="116.0" fill="#ef3220" stroke="#111" stroke-width="2.2"/>
<line x1="1648.9" y1="663.9" x2="1648.9" y2="669.2" stroke="#222" stroke-width="1.5"/>
<line x1="1644.9" y1="663.9" x2="1652.9" y2="663.9" stroke="#222" stroke-width="1.5"/>
<line x1="1644.9" y1="669.2" x2="1652.9" y2="669.2" stroke="#222" stroke-width="1.5"/>
<line x1="1679.7" y1="722.6" x2="1679.7" y2="746.9" stroke="#222" stroke-width="1.5"/>
<line x1="1675.7" y1="722.6" x2="1683.7" y2="722.6" stroke="#222" stroke-width="1.5"/>
<line x1="1675.7" y1="746.9" x2="1683.7" y2="746.9" stroke="#222" stroke-width="1.5"/>
<rect x="1747.1" y="553.6" width="30.8" height="297.2" fill="#58b6f0" stroke="#111" stroke-width="2.2"/>
<rect x="1777.9" y="633.3" width="30.8" height="217.5" fill="#ef3220" stroke="#111" stroke-width="2.2"/>
<line x1="1762.5" y1="540.3" x2="1762.5" y2="567.0" stroke="#222" stroke-width="1.5"/>
<line x1="1758.5" y1="540.3" x2="1766.5" y2="540.3" stroke="#222" stroke-width="1.5"/>
<line x1="1758.5" y1="567.0" x2="1766.5" y2="567.0" stroke="#222" stroke-width="1.5"/>
<line x1="1793.3" y1="567.7" x2="1793.3" y2="698.9" stroke="#222" stroke-width="1.5"/>
<line x1="1789.3" y1="567.7" x2="1797.3" y2="567.7" stroke="#222" stroke-width="1.5"/>
<line x1="1789.3" y1="698.9" x2="1797.3" y2="698.9" stroke="#222" stroke-width="1.5"/>
<rect x="1380.0" y="481.6" width="452.2" height="369.2" fill="none" stroke="#000" stroke-width="2.8"/>
<line x1="1372.5" y1="850.8" x2="1380.0" y2="850.8" stroke="#000" stroke-width="2.6"/>
<text x="1366.5" y="857.4" font-size="23.4" text-anchor="end" textLength="12.3" lengthAdjust="spacingAndGlyphs">0</text>
<line x1="1375.5" y1="824.4" x2="1380.0" y2="824.4" stroke="#000" stroke-width="2.2"/>
<line x1="1372.5" y1="798.1" x2="1380.0" y2="798.1" stroke="#000" stroke-width="2.6"/>
<text x="1366.5" y="804.7" font-size="23.4" text-anchor="end" textLength="37.0" lengthAdjust="spacingAndGlyphs">500</text>
<line x1="1375.5" y1="771.7" x2="1380.0" y2="771.7" stroke="#000" stroke-width="2.2"/>
<line x1="1372.5" y1="745.3" x2="1380.0" y2="745.3" stroke="#000" stroke-width="2.6"/>
<text x="1366.5" y="751.9" font-size="23.4" text-anchor="end" textLength="55.6" lengthAdjust="spacingAndGlyphs">1 000</text>
<line x1="1375.5" y1="718.9" x2="1380.0" y2="718.9" stroke="#000" stroke-width="2.2"/>
<line x1="1372.5" y1="692.6" x2="1380.0" y2="692.6" stroke="#000" stroke-width="2.6"/>
<text x="1366.5" y="699.2" font-size="23.4" text-anchor="end" textLength="55.6" lengthAdjust="spacingAndGlyphs">1 500</text>
<line x1="1375.5" y1="666.2" x2="1380.0" y2="666.2" stroke="#000" stroke-width="2.2"/>
<line x1="1372.5" y1="639.8" x2="1380.0" y2="639.8" stroke="#000" stroke-width="2.6"/>
<text x="1366.5" y="646.4" font-size="23.4" text-anchor="end" textLength="55.6" lengthAdjust="spacingAndGlyphs">2 000</text>
<line x1="1375.5" y1="613.5" x2="1380.0" y2="613.5" stroke="#000" stroke-width="2.2"/>
<line x1="1372.5" y1="587.1" x2="1380.0" y2="587.1" stroke="#000" stroke-width="2.6"/>
<text x="1366.5" y="593.7" font-size="23.4" text-anchor="end" textLength="55.6" lengthAdjust="spacingAndGlyphs">2 500</text>
<line x1="1375.5" y1="560.7" x2="1380.0" y2="560.7" stroke="#000" stroke-width="2.2"/>
<line x1="1372.5" y1="534.3" x2="1380.0" y2="534.3" stroke="#000" stroke-width="2.6"/>
<text x="1366.5" y="540.9" font-size="23.4" text-anchor="end" textLength="55.6" lengthAdjust="spacingAndGlyphs">3 000</text>
<line x1="1375.5" y1="508.0" x2="1380.0" y2="508.0" stroke="#000" stroke-width="2.2"/>
<line x1="1372.5" y1="481.6" x2="1380.0" y2="481.6" stroke="#000" stroke-width="2.6"/>
<text x="1366.5" y="488.2" font-size="23.4" text-anchor="end" textLength="55.6" lengthAdjust="spacingAndGlyphs">3 500</text>
<line x1="1437.4" y1="850.8" x2="1437.4" y2="858.8" stroke="#000" stroke-width="2.6"/>
<line x1="1380.8" y1="850.8" x2="1380.8" y2="855.6" stroke="#000" stroke-width="2.4"/>
<line x1="1550.6" y1="850.8" x2="1550.6" y2="858.8" stroke="#000" stroke-width="2.6"/>
<line x1="1494.0" y1="850.8" x2="1494.0" y2="855.6" stroke="#000" stroke-width="2.4"/>
<line x1="1664.3" y1="850.8" x2="1664.3" y2="858.8" stroke="#000" stroke-width="2.6"/>
<line x1="1607.7" y1="850.8" x2="1607.7" y2="855.6" stroke="#000" stroke-width="2.4"/>
<line x1="1777.9" y1="850.8" x2="1777.9" y2="858.8" stroke="#000" stroke-width="2.6"/>
<line x1="1721.3" y1="850.8" x2="1721.3" y2="855.6" stroke="#000" stroke-width="2.4"/>
<line x1="1832.2" y1="850.8" x2="1832.2" y2="855.6" stroke="#000" stroke-width="2.4"/>
<text x="1302.5" y="663.2" font-size="23" text-anchor="middle" textLength="230.0" lengthAdjust="spacingAndGlyphs" transform="rotate(-90 1302.5 663.2)">Elastic modulus/MPa</text>
<text x="1258.8" y="454.7" font-size="34.2" textLength="51.4" lengthAdjust="spacingAndGlyphs">(iv)</text>
<rect x="1425.0" y="505.3" width="62.1" height="23.4" fill="#58b6f0" stroke="#3a4a58" stroke-width="1.4"/>
<rect x="1425.0" y="538.9" width="62.1" height="23.4" fill="#ef3220" stroke="#4a2a28" stroke-width="1.4"/>
<text x="1498.2" y="523.4" font-size="23" textLength="210.0" lengthAdjust="spacingAndGlyphs">Before degradation</text>
<text x="1496.3" y="557.1" font-size="23" textLength="191.0" lengthAdjust="spacingAndGlyphs">After degradation</text>
<text x="848.8" y="887.6" font-size="22.6" text-anchor="middle" textLength="46.4" lengthAdjust="spacingAndGlyphs">S0.2</text>
<text x="970.1" y="887.6" font-size="22.6" text-anchor="middle" textLength="95.5" lengthAdjust="spacingAndGlyphs">Dense-in</text>
<text x="1087.9" y="887.6" font-size="22.6" text-anchor="middle" textLength="112.0" lengthAdjust="spacingAndGlyphs">Dense-out</text>
<text x="1198.6" y="887.6" font-size="22.6" text-anchor="middle" textLength="45.8" lengthAdjust="spacingAndGlyphs">S0.4</text>
<text x="1430.7" y="882.3" font-size="22.6" text-anchor="middle" textLength="48.3" lengthAdjust="spacingAndGlyphs">S0.2</text>
<text x="1551.5" y="882.3" font-size="22.6" text-anchor="middle" textLength="96.6" lengthAdjust="spacingAndGlyphs">Dense-in</text>
<text x="1668.9" y="882.3" font-size="22.6" text-anchor="middle" textLength="113.2" lengthAdjust="spacingAndGlyphs">Dense-out</text>
<text x="1780.4" y="882.3" font-size="22.6" text-anchor="middle" textLength="48.3" lengthAdjust="spacingAndGlyphs">S0.4</text>
<rect x="27.00" y="180.50" width="168.00" height="166.30" fill="url(#bg1)"/>
<rect x="195.00" y="180.50" width="167.00" height="166.30" fill="url(#bg1)"/>
<rect x="362.00" y="180.50" width="167.50" height="166.30" fill="url(#bg1)"/>
<rect x="529.50" y="180.50" width="161.50" height="166.30" fill="url(#bg1)"/>
<circle cx="111.0" cy="261.7" r="78.5" fill="url(#t1)"/>
<circle cx="280.2" cy="263.5" r="78.0" fill="url(#t2o)"/>
<circle cx="279.7" cy="264.4" r="29.3" fill="url(#bg1)" shape-rendering="crispEdges"/>
<circle cx="279.7" cy="264.4" r="29.3" fill="url(#t2i)" shape-rendering="crispEdges"/>
<circle cx="445.8" cy="263.9" r="78.2" fill="url(#t3o)"/>
<circle cx="445.5" cy="264.0" r="58.0" fill="url(#bg1)" shape-rendering="crispEdges"/>
<circle cx="445.5" cy="264.0" r="58.0" fill="url(#t3m)" shape-rendering="crispEdges"/>
<circle cx="445.2" cy="264.0" r="29.2" fill="url(#bg1)" shape-rendering="crispEdges"/>
<circle cx="445.2" cy="264.0" r="29.2" fill="url(#t3i)" shape-rendering="crispEdges"/>
<circle cx="612.8" cy="263.8" r="76.7" fill="url(#t4)"/>
<circle cx="280.2" cy="263.5" r="79.3" fill="none" stroke="#f06a28" stroke-width="2.3"/>
<circle cx="445.8" cy="263.9" r="79.2" fill="none" stroke="#f06a28" stroke-width="2.3"/>
<circle cx="279.7" cy="264.4" r="29.3" fill="none" stroke="#f06a28" stroke-width="2.1"/>
<circle cx="445.2" cy="264.0" r="29.2" fill="none" stroke="#f06a28" stroke-width="2.1"/>
<rect x="27.00" y="346.80" width="168.00" height="166.00" fill="url(#bg2)"/>
<rect x="195.00" y="346.80" width="167.00" height="166.00" fill="url(#bg2)"/>
<rect x="362.00" y="346.80" width="167.50" height="166.00" fill="url(#bg2)"/>
<rect x="529.50" y="346.80" width="161.50" height="166.00" fill="url(#bg2)"/>
<rect x="42.40" y="353.90" width="136.80" height="152.80" fill="url(#l1)"/>
<rect x="209.10" y="355.00" width="43.40" height="152.70" fill="url(#l2o)"/>
<rect x="252.50" y="355.00" width="54.30" height="152.70" fill="url(#l2i)"/>
<rect x="306.80" y="355.00" width="39.10" height="152.70" fill="url(#l2o)"/>
<rect x="377.80" y="357.10" width="40.20" height="148.50" fill="url(#l3o)"/>
<rect x="418.00" y="357.10" width="54.20" height="148.50" fill="url(#l3i)"/>
<rect x="472.20" y="357.10" width="40.20" height="148.50" fill="url(#l3o)"/>
<rect x="543.40" y="357.10" width="135.70" height="151.70" fill="url(#l4)"/>
<line x1="252.5" y1="346.8" x2="252.5" y2="524" stroke="#f06a28" stroke-width="1.9"/>
<line x1="306.8" y1="346.8" x2="306.8" y2="524" stroke="#f06a28" stroke-width="1.9"/>
<line x1="418.0" y1="346.8" x2="418.0" y2="524" stroke="#f06a28" stroke-width="1.9"/>
<line x1="472.2" y1="346.8" x2="472.2" y2="524" stroke="#f06a28" stroke-width="1.9"/>
<text x="164.8" y="522.0" font-size="15.8" textLength="78.0" lengthAdjust="spacingAndGlyphs" fill="#f25522" style="color:#f25522">0.2-0.4 mm</text>
<text x="254.8" y="522.0" font-size="15.8" textLength="50.8" lengthAdjust="spacingAndGlyphs" fill="#f25522" style="color:#f25522">0.4 mm</text>
<text x="325.8" y="522.0" font-size="15.8" textLength="78.0" lengthAdjust="spacingAndGlyphs" fill="#f25522" style="color:#f25522">0.4-0.2 mm</text>
<text x="419.2" y="522.0" font-size="15.8" textLength="51.8" lengthAdjust="spacingAndGlyphs" fill="#f25522" style="color:#f25522">0.2 mm</text>
<ellipse cx="111" cy="604.5" rx="77" ry="77.5" fill="url(#c1)"/>
<ellipse cx="277" cy="605" rx="72" ry="78" fill="url(#c2)"/>
<ellipse cx="447" cy="603.5" rx="77" ry="76.5" fill="url(#c3)"/>
<ellipse cx="614" cy="604" rx="76" ry="75" fill="url(#c4)"/>
<rect x="38.30" y="697.00" width="143.40" height="151.80" fill="url(#d1)"/>
<rect x="211.60" y="692.20" width="140.30" height="162.80" fill="url(#d2)"/>
<rect x="379.40" y="695.30" width="142.20" height="157.50" fill="url(#d3)"/>
<rect x="547.50" y="696.50" width="141.00" height="155.10" fill="url(#d4)"/>
<text x="14.6" y="260.6" font-size="19.4" text-anchor="middle" textLength="80.7" lengthAdjust="spacingAndGlyphs" transform="rotate(-90 14.6 260.6)">Top view</text>
<text x="17.0" y="429.8" font-size="19.4" text-anchor="middle" textLength="187.7" lengthAdjust="spacingAndGlyphs" transform="rotate(-90 17.0 429.8)">Longitudinal section</text>
<text x="15.4" y="607.1" font-size="19.4" text-anchor="middle" textLength="79.2" lengthAdjust="spacingAndGlyphs" transform="rotate(-90 15.4 607.1)">Top view</text>
<text x="17.0" y="777.2" font-size="19.4" text-anchor="middle" textLength="188.4" lengthAdjust="spacingAndGlyphs" transform="rotate(-90 17.0 777.2)">Longitudinal section</text>
<text x="623.0" y="874.8" font-size="26.5" textLength="67.9" lengthAdjust="spacingAndGlyphs">5 mm</text>
<rect x="626.10" y="878.40" width="64.60" height="3.20" fill="#000"/>
</svg>
</body></html>
